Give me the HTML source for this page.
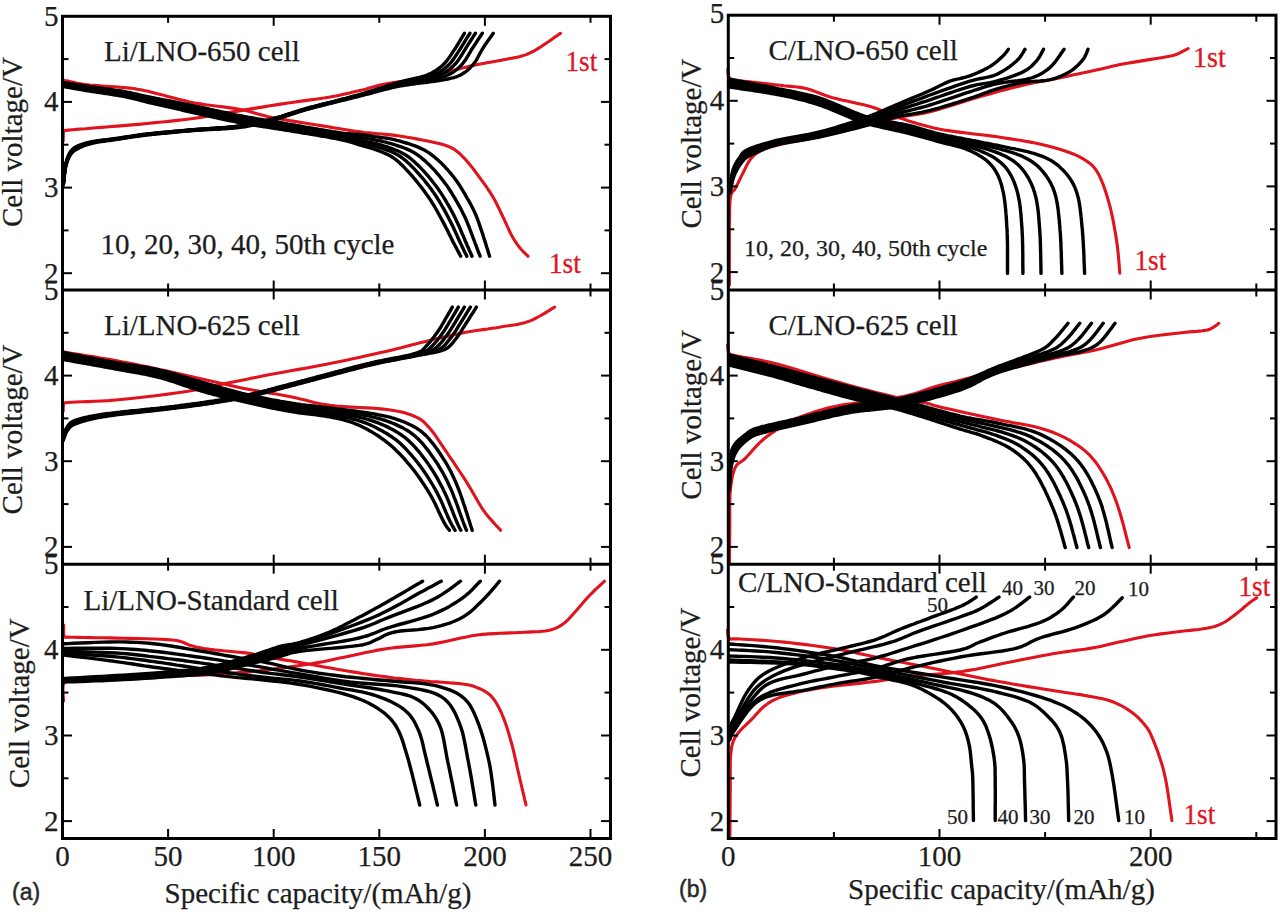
<!DOCTYPE html>
<html><head><meta charset="utf-8"><style>
html,body{margin:0;padding:0;background:#fff;width:1280px;height:914px;overflow:hidden}
svg{display:block}
</style></head><body>
<svg width="1280" height="914" viewBox="0 0 1280 914">
<rect width="1280" height="914" fill="#fff"/>
<path d="M63.4,80.0 L65.0,80.4 L67.0,80.8 L69.4,81.4 L72.1,82.1 L75.1,82.7 L78.4,83.4 L81.9,84.0 L85.6,84.5 L89.8,85.0 L94.6,85.4 L99.8,85.8 L105.2,86.2 L110.6,86.6 L115.7,86.9 L120.2,87.3 L124.0,87.6 L127.0,87.9 L129.4,88.1 L131.3,88.3 L132.9,88.5 L134.4,88.7 L135.8,88.9 L137.3,89.2 L139.0,89.5 L140.7,89.8 L142.3,90.1 L143.7,90.4 L145.2,90.7 L146.8,91.1 L148.9,91.6 L151.4,92.2 L154.5,93.0 L158.3,94.0 L162.8,95.1 L167.7,96.4 L173.0,97.8 L178.5,99.2 L184.0,100.6 L189.6,101.9 L195.0,103.0 L200.4,103.9 L206.0,104.8 L211.7,105.5 L217.5,106.2 L223.2,106.9 L228.7,107.6 L234.0,108.4 L239.0,109.2 L243.5,110.1 L247.6,111.1 L251.5,112.1 L255.2,113.2 L258.9,114.2 L262.9,115.3 L267.2,116.4 L272.0,117.4 L277.4,118.4 L283.4,119.5 L289.6,120.6 L296.1,121.6 L302.7,122.7 L309.1,123.7 L315.2,124.7 L321.0,125.6 L326.4,126.5 L331.5,127.4 L336.5,128.2 L341.4,129.0 L346.1,129.8 L350.8,130.6 L355.4,131.3 L360.0,131.9 L364.6,132.5 L369.0,132.9 L373.4,133.3 L377.8,133.7 L382.1,134.0 L386.3,134.4 L390.7,134.9 L395.0,135.4 L399.5,136.0 L404.1,136.7 L408.7,137.5 L413.4,138.3 L417.9,139.1 L422.2,139.9 L426.3,140.7 L430.0,141.5 L433.3,142.2 L436.4,142.9 L439.2,143.6 L441.8,144.2 L444.3,144.9 L446.6,145.7 L448.8,146.6 L451.0,147.6 L453.1,148.7 L455.0,149.9 L456.7,151.2 L458.4,152.5 L460.0,153.9 L461.6,155.5 L463.2,157.2 L465.0,159.0 L466.8,161.0 L468.7,163.2 L470.6,165.6 L472.6,168.0 L474.5,170.5 L476.4,173.1 L478.2,175.6 L480.0,178.0 L481.7,180.4 L483.5,182.7 L485.2,185.1 L486.8,187.4 L488.4,189.8 L490.0,192.2 L491.5,194.6 L493.0,197.0 L494.4,199.5 L495.7,202.0 L497.0,204.5 L498.2,207.0 L499.5,209.5 L500.6,212.0 L501.8,214.5 L503.0,217.0 L504.2,219.5 L505.3,222.0 L506.5,224.5 L507.6,227.0 L508.7,229.4 L509.8,231.8 L510.9,234.0 L512.0,236.0 L513.0,237.9 L514.1,239.6 L515.1,241.2 L516.1,242.7 L517.0,244.1 L518.0,245.4 L519.0,246.7 L520.0,248.0 L521.1,249.3 L522.2,250.5 L523.4,251.7 L524.5,252.8 L525.6,253.9 L526.6,254.8 L527.4,255.6 L528.0,256.2" fill="none" stroke="#e0141e" stroke-width="3.1" stroke-linejoin="round" stroke-linecap="round"/>
<path d="M63.2,141.0 L63.2,140.3 L63.2,139.2 L63.2,138.0 L63.3,136.6 L63.3,135.2 L63.4,133.9 L63.5,132.8 L63.6,132.0 L63.6,131.5 L63.3,131.1 L62.9,130.9 L62.6,130.8 L62.6,130.8 L63.1,130.7 L64.1,130.6 L66.0,130.4 L68.7,130.1 L72.2,129.8 L76.3,129.4 L80.8,129.0 L85.6,128.7 L90.7,128.2 L95.9,127.8 L101.0,127.4 L106.2,127.0 L111.7,126.5 L117.4,126.1 L123.2,125.6 L129.1,125.1 L135.1,124.6 L141.1,124.1 L147.0,123.5 L152.9,122.9 L159.0,122.3 L165.0,121.7 L171.1,121.1 L177.2,120.4 L183.2,119.7 L189.2,119.0 L195.0,118.2 L200.7,117.4 L206.2,116.5 L211.6,115.6 L216.9,114.7 L222.3,113.8 L227.7,112.8 L233.3,111.9 L239.0,110.9 L244.9,109.9 L251.1,108.9 L257.3,107.9 L263.6,106.9 L269.9,105.8 L276.1,104.9 L282.2,103.9 L288.0,103.0 L293.7,102.2 L299.3,101.4 L304.8,100.6 L310.2,99.9 L315.4,99.2 L320.5,98.5 L325.4,97.8 L330.0,97.0 L334.4,96.2 L338.5,95.4 L342.3,94.6 L346.1,93.8 L349.6,93.0 L353.1,92.1 L356.6,91.3 L360.0,90.5 L363.3,89.7 L366.3,88.9 L369.2,88.0 L372.1,87.2 L375.0,86.4 L378.0,85.6 L381.3,84.8 L385.0,84.0 L389.1,83.3 L393.7,82.6 L398.5,81.9 L403.5,81.2 L408.5,80.6 L413.3,79.9 L417.9,79.2 L422.0,78.5 L425.7,77.7 L429.0,76.9 L432.2,76.1 L435.1,75.3 L438.0,74.5 L440.9,73.7 L443.9,72.8 L447.0,72.0 L450.3,71.2 L453.5,70.3 L456.8,69.5 L460.1,68.6 L463.5,67.8 L466.9,66.9 L470.4,66.1 L474.0,65.3 L477.8,64.5 L481.8,63.7 L486.0,62.9 L490.2,62.2 L494.4,61.4 L498.3,60.7 L501.9,60.1 L505.0,59.5 L507.7,59.0 L509.9,58.6 L511.9,58.2 L513.7,57.9 L515.3,57.6 L516.8,57.3 L518.4,56.9 L520.0,56.5 L521.6,56.0 L523.2,55.6 L524.7,55.1 L526.1,54.6 L527.6,54.0 L529.0,53.4 L530.5,52.7 L532.0,52.0 L533.6,51.2 L535.1,50.3 L536.7,49.4 L538.3,48.4 L539.9,47.4 L541.6,46.3 L543.2,45.2 L545.0,44.0 L546.9,42.7 L549.1,41.3 L551.3,39.7 L553.6,38.1 L555.7,36.6 L557.7,35.3 L559.3,34.1 L560.5,33.3" fill="none" stroke="#e0141e" stroke-width="3.1" stroke-linejoin="round" stroke-linecap="round"/>
<path d="M63.0,351.9 L67.1,352.6 L72.7,353.5 L79.3,354.5 L86.6,355.7 L94.2,356.9 L101.8,358.2 L109.1,359.4 L115.6,360.6 L121.5,361.7 L127.2,362.8 L132.7,363.8 L138.1,364.9 L143.4,366.0 L148.7,367.1 L154.0,368.3 L159.4,369.4 L164.9,370.6 L170.3,371.8 L175.7,373.0 L181.2,374.2 L186.6,375.5 L192.1,376.7 L197.5,378.0 L203.0,379.2 L208.5,380.4 L214.0,381.7 L219.5,383.0 L225.0,384.2 L230.5,385.5 L236.0,386.7 L241.5,387.9 L247.0,389.0 L252.5,390.1 L258.0,391.1 L263.6,392.0 L269.1,392.9 L274.6,393.8 L280.0,394.8 L285.4,395.7 L290.6,396.7 L295.6,397.8 L300.3,398.9 L304.9,400.1 L309.5,401.2 L314.1,402.4 L319.0,403.4 L324.3,404.4 L330.0,405.3 L336.5,406.0 L343.7,406.6 L351.3,407.1 L359.1,407.5 L366.9,407.9 L374.3,408.3 L381.0,408.9 L386.9,409.5 L391.9,410.2 L396.3,411.0 L400.3,411.8 L403.8,412.6 L406.9,413.5 L409.9,414.5 L412.6,415.5 L415.3,416.6 L417.8,417.8 L419.8,418.9 L421.7,420.2 L423.3,421.5 L424.8,422.9 L426.3,424.5 L427.8,426.1 L429.5,428.0 L431.2,430.0 L432.8,432.0 L434.4,434.2 L436.1,436.5 L437.7,439.0 L439.5,441.7 L441.5,444.7 L443.7,447.9 L446.2,451.5 L448.9,455.6 L451.9,459.9 L454.9,464.4 L458.0,469.0 L461.0,473.5 L463.9,477.9 L466.5,482.0 L468.9,485.9 L471.2,489.7 L473.3,493.4 L475.4,497.1 L477.4,500.6 L479.4,504.0 L481.4,507.3 L483.5,510.4 L485.7,513.4 L488.2,516.4 L490.7,519.4 L493.1,522.1 L495.4,524.7 L497.5,526.9 L499.3,528.8 L500.6,530.3" fill="none" stroke="#e0141e" stroke-width="3.1" stroke-linejoin="round" stroke-linecap="round"/>
<path d="M63.2,411.0 L63.2,410.5 L63.2,409.7 L63.2,408.8 L63.2,407.8 L63.3,406.8 L63.4,405.9 L63.5,405.0 L63.8,404.4 L63.9,403.9 L63.6,403.6 L63.2,403.4 L63.0,403.2 L63.1,403.0 L63.8,402.9 L65.4,402.7 L68.0,402.5 L71.7,402.3 L76.4,402.0 L81.9,401.8 L88.0,401.6 L94.5,401.3 L101.4,401.0 L108.5,400.6 L115.6,400.0 L123.1,399.3 L131.3,398.5 L139.9,397.5 L148.7,396.5 L157.5,395.5 L166.0,394.4 L174.0,393.3 L181.3,392.3 L187.8,391.3 L193.8,390.2 L199.3,389.1 L204.5,388.0 L209.6,386.9 L214.6,385.8 L219.7,384.7 L225.0,383.6 L230.4,382.5 L235.5,381.5 L240.7,380.4 L245.8,379.4 L251.1,378.3 L256.6,377.2 L262.5,376.0 L268.8,374.8 L275.6,373.5 L283.0,372.2 L290.7,370.8 L298.6,369.4 L306.6,367.9 L314.6,366.5 L322.4,365.0 L330.0,363.5 L337.5,362.0 L345.1,360.4 L352.7,358.8 L360.1,357.2 L367.4,355.6 L374.4,354.0 L380.9,352.6 L386.9,351.2 L392.2,350.0 L396.8,348.8 L401.0,347.8 L404.8,346.8 L408.6,345.8 L412.4,344.8 L416.5,343.7 L421.0,342.6 L426.0,341.4 L431.2,340.1 L436.6,338.8 L442.1,337.5 L447.7,336.2 L453.1,334.9 L458.5,333.7 L463.6,332.7 L468.6,331.8 L473.4,331.0 L478.3,330.3 L483.0,329.6 L487.6,329.0 L492.1,328.3 L496.4,327.7 L500.6,327.0 L504.6,326.3 L508.4,325.8 L512.0,325.2 L515.5,324.7 L518.9,324.1 L522.3,323.3 L525.6,322.4 L529.0,321.3 L532.5,319.8 L536.2,318.0 L539.9,316.0 L543.6,313.8 L547.0,311.8 L550.1,309.9 L552.6,308.3 L554.6,307.1" fill="none" stroke="#e0141e" stroke-width="3.1" stroke-linejoin="round" stroke-linecap="round"/>
<path d="M63.8,625.0 L63.7,625.9 L63.7,627.2 L63.7,628.8 L63.6,630.4 L63.6,632.1 L63.7,633.7 L63.9,635.0 L64.2,636.0 L64.4,636.6 L64.3,637.0 L64.2,637.2 L64.2,637.2 L64.6,637.2 L65.6,637.2 L67.3,637.1 L70.0,637.2 L73.8,637.3 L78.5,637.4 L83.9,637.5 L90.0,637.6 L96.4,637.7 L103.0,637.8 L109.7,637.9 L116.2,638.1 L123.1,638.3 L130.5,638.4 L138.3,638.6 L146.1,638.8 L153.7,639.0 L160.9,639.2 L167.2,639.6 L172.5,640.0 L176.6,640.5 L179.8,641.2 L182.2,641.9 L184.1,642.7 L185.7,643.5 L187.2,644.2 L188.9,645.0 L191.0,645.6 L193.2,646.2 L195.3,646.7 L197.3,647.2 L199.3,647.6 L201.5,648.1 L203.9,648.5 L206.7,648.9 L210.0,649.4 L213.9,649.9 L218.5,650.3 L223.5,650.8 L228.8,651.2 L234.0,651.7 L239.0,652.2 L243.6,652.6 L247.5,653.1 L250.6,653.6 L253.2,654.0 L255.2,654.4 L257.1,654.9 L258.9,655.3 L260.9,655.8 L263.3,656.3 L266.2,656.9 L269.6,657.5 L273.3,658.1 L277.1,658.7 L281.2,659.4 L285.6,660.1 L290.2,660.8 L295.0,661.6 L300.0,662.5 L305.5,663.5 L311.4,664.5 L317.7,665.7 L324.1,666.9 L330.6,668.1 L337.0,669.2 L343.1,670.3 L348.8,671.2 L354.0,672.1 L359.0,672.9 L363.8,673.7 L368.4,674.4 L373.0,675.1 L377.4,675.7 L381.8,676.3 L386.2,676.9 L390.6,677.5 L394.7,678.0 L398.8,678.4 L402.8,678.9 L406.9,679.3 L411.0,679.7 L415.4,680.2 L420.0,680.6 L425.1,681.0 L430.6,681.5 L436.5,681.9 L442.4,682.3 L448.2,682.7 L453.6,683.1 L458.4,683.5 L462.5,684.0 L465.8,684.5 L468.4,684.9 L470.4,685.3 L472.2,685.8 L473.6,686.3 L475.0,686.8 L476.4,687.4 L478.0,688.0 L479.7,688.7 L481.3,689.4 L482.9,690.2 L484.5,691.1 L485.9,692.0 L487.4,692.9 L488.7,693.9 L490.0,695.0 L491.2,696.1 L492.3,697.4 L493.3,698.6 L494.3,699.9 L495.2,701.3 L496.2,702.8 L497.1,704.4 L498.0,706.0 L498.9,707.7 L499.8,709.5 L500.7,711.3 L501.6,713.2 L502.4,715.3 L503.3,717.4 L504.1,719.6 L505.0,722.0 L505.9,724.5 L506.8,727.1 L507.6,729.8 L508.5,732.6 L509.4,735.6 L510.2,738.6 L511.1,741.7 L512.0,745.0 L512.9,748.4 L513.8,752.0 L514.6,755.7 L515.5,759.6 L516.4,763.4 L517.2,767.3 L518.1,771.2 L519.0,775.0 L519.9,779.0 L520.9,783.2 L521.9,787.6 L522.9,791.9 L523.9,795.9 L524.7,799.6 L525.5,802.7 L526.0,805.0" fill="none" stroke="#e0141e" stroke-width="3.1" stroke-linejoin="round" stroke-linecap="round"/>
<path d="M63.5,701.0 L63.5,699.5 L63.3,697.4 L63.1,694.9 L62.9,692.2 L62.9,689.4 L63.0,686.9 L63.3,684.7 L64.0,683.0 L64.7,681.9 L65.1,681.2 L65.6,680.7 L66.4,680.5 L67.7,680.4 L69.7,680.3 L72.7,680.2 L76.9,680.0 L82.8,679.7 L90.4,679.5 L99.2,679.4 L108.6,679.2 L118.2,679.1 L127.4,678.9 L135.6,678.7 L142.5,678.5 L147.9,678.2 L152.3,677.9 L156.0,677.6 L159.3,677.2 L162.3,676.9 L165.3,676.6 L168.6,676.3 L172.5,676.0 L176.8,675.8 L181.2,675.6 L185.7,675.5 L190.3,675.4 L195.1,675.3 L199.9,675.1 L204.9,675.0 L210.0,674.7 L215.2,674.4 L220.5,674.1 L225.8,673.7 L231.3,673.4 L237.0,672.9 L242.8,672.4 L248.8,671.9 L255.0,671.2 L261.6,670.5 L268.7,669.7 L276.0,668.7 L283.5,667.8 L290.9,666.7 L298.0,665.7 L304.8,664.7 L311.0,663.8 L316.6,662.8 L321.7,661.9 L326.5,660.9 L331.0,660.0 L335.4,659.1 L339.8,658.1 L344.2,657.2 L348.8,656.2 L353.4,655.3 L357.9,654.3 L362.4,653.3 L366.9,652.3 L371.5,651.4 L376.2,650.4 L381.1,649.6 L386.2,648.8 L391.7,648.0 L397.3,647.4 L403.2,646.9 L409.2,646.4 L415.2,645.9 L421.3,645.3 L427.2,644.7 L433.0,643.9 L438.7,642.9 L444.3,641.8 L449.9,640.6 L455.4,639.3 L460.9,638.0 L466.4,636.9 L471.9,635.8 L477.3,635.0 L482.8,634.4 L488.4,633.9 L494.1,633.6 L499.7,633.3 L505.1,633.1 L510.4,632.9 L515.4,632.7 L520.0,632.5 L524.3,632.3 L528.3,632.1 L532.1,631.9 L535.7,631.8 L539.1,631.6 L542.3,631.3 L545.2,631.0 L548.0,630.5 L550.5,629.9 L552.7,629.3 L554.7,628.6 L556.5,627.9 L558.2,627.0 L559.8,626.1 L561.4,625.1 L563.0,624.0 L564.6,622.8 L566.2,621.5 L567.6,620.1 L569.1,618.6 L570.5,617.0 L571.9,615.4 L573.4,613.7 L575.0,612.0 L576.6,610.2 L578.3,608.3 L580.0,606.2 L581.8,604.2 L583.6,602.1 L585.4,600.0 L587.2,598.0 L589.0,596.0 L591.0,594.0 L593.1,591.9 L595.3,589.7 L597.6,587.6 L599.7,585.6 L601.6,583.8 L603.2,582.3 L604.4,581.2" fill="none" stroke="#e0141e" stroke-width="3.1" stroke-linejoin="round" stroke-linecap="round"/>
<path d="M727.8,69.4 L727.9,70.0 L727.9,70.9 L728.0,71.9 L728.0,73.0 L728.1,74.2 L728.3,75.2 L728.6,76.2 L729.0,77.0 L729.3,77.6 L729.2,78.0 L729.2,78.4 L729.3,78.6 L729.7,78.9 L730.6,79.2 L732.4,79.5 L735.0,80.0 L738.9,80.6 L743.9,81.2 L749.8,81.9 L756.2,82.6 L762.8,83.4 L769.2,84.1 L775.0,84.7 L780.0,85.3 L784.2,85.8 L787.9,86.1 L791.2,86.4 L794.3,86.7 L797.2,87.0 L800.1,87.4 L803.0,87.9 L806.2,88.6 L809.4,89.5 L812.5,90.5 L815.5,91.6 L818.5,92.8 L821.7,94.0 L825.0,95.3 L828.6,96.5 L832.5,97.7 L836.9,98.8 L841.7,100.0 L846.9,101.1 L852.2,102.3 L857.5,103.4 L862.7,104.6 L867.5,105.8 L871.9,107.0 L875.7,108.2 L879.0,109.5 L882.0,110.8 L884.8,112.0 L887.7,113.3 L890.8,114.7 L894.2,116.0 L898.1,117.4 L902.5,118.8 L907.1,120.4 L912.0,121.9 L917.1,123.5 L922.5,125.0 L928.1,126.5 L933.9,127.9 L940.0,129.2 L946.5,130.4 L953.5,131.4 L960.9,132.4 L968.5,133.3 L976.0,134.2 L983.4,135.0 L990.5,135.9 L997.0,136.8 L1003.1,137.7 L1009.0,138.6 L1014.7,139.5 L1020.1,140.3 L1025.3,141.2 L1030.3,142.1 L1035.1,143.0 L1039.6,143.9 L1043.9,144.9 L1048.0,145.9 L1051.8,146.9 L1055.4,147.9 L1058.8,148.9 L1062.0,150.0 L1065.1,151.0 L1068.0,152.0 L1070.7,153.0 L1073.2,154.0 L1075.5,154.9 L1077.6,155.9 L1079.6,156.9 L1081.4,157.9 L1083.2,158.9 L1085.0,160.0 L1086.7,161.1 L1088.2,162.2 L1089.7,163.3 L1091.1,164.4 L1092.4,165.6 L1093.6,167.0 L1094.8,168.4 L1096.0,170.0 L1097.1,171.7 L1098.2,173.6 L1099.3,175.5 L1100.2,177.6 L1101.2,179.7 L1102.1,182.0 L1103.1,184.4 L1104.0,187.0 L1105.0,189.7 L1105.9,192.5 L1106.9,195.5 L1107.8,198.6 L1108.7,201.8 L1109.6,205.1 L1110.5,208.5 L1111.3,212.0 L1112.1,215.6 L1112.9,219.4 L1113.7,223.4 L1114.4,227.4 L1115.1,231.5 L1115.8,235.5 L1116.4,239.5 L1117.0,243.4 L1117.5,247.4 L1118.0,251.7 L1118.4,256.0 L1118.8,260.3 L1119.1,264.3 L1119.4,267.9 L1119.6,270.9 L1119.8,273.2" fill="none" stroke="#e0141e" stroke-width="3.1" stroke-linejoin="round" stroke-linecap="round"/>
<path d="M729.4,284.9 L729.4,279.6 L729.4,272.3 L729.4,263.5 L729.4,253.9 L729.4,244.2 L729.4,234.9 L729.4,226.6 L729.5,220.0 L729.6,214.9 L729.6,210.7 L729.7,207.3 L729.8,204.4 L730.0,202.0 L730.1,199.9 L730.4,197.9 L730.7,196.0 L731.1,194.3 L731.5,193.1 L732.0,192.3 L732.6,191.6 L733.2,191.0 L733.9,190.4 L734.6,189.5 L735.3,188.3 L736.1,186.7 L737.0,185.0 L738.0,183.1 L739.0,181.0 L740.0,179.0 L741.0,176.9 L742.0,174.9 L743.0,173.0 L743.9,171.2 L744.8,169.3 L745.7,167.4 L746.6,165.6 L747.5,163.8 L748.5,162.1 L749.5,160.5 L750.6,159.0 L751.7,157.7 L752.9,156.4 L754.1,155.3 L755.3,154.2 L756.6,153.3 L758.1,152.3 L759.7,151.4 L761.4,150.5 L763.2,149.6 L765.0,148.9 L766.9,148.2 L768.9,147.5 L771.2,146.8 L773.7,146.1 L776.6,145.3 L780.0,144.5 L783.9,143.6 L788.4,142.7 L793.3,141.7 L798.4,140.7 L803.7,139.7 L809.1,138.7 L814.3,137.6 L819.4,136.5 L824.3,135.4 L829.2,134.2 L834.1,133.0 L839.0,131.8 L844.0,130.6 L848.9,129.4 L853.8,128.2 L858.7,127.0 L863.7,125.8 L868.7,124.5 L873.8,123.3 L878.9,122.0 L883.9,120.8 L888.8,119.6 L893.5,118.5 L898.1,117.5 L902.3,116.7 L906.1,116.0 L909.7,115.5 L913.2,115.0 L916.8,114.5 L920.7,113.8 L925.0,112.9 L930.0,111.7 L935.7,110.2 L942.1,108.3 L948.9,106.2 L956.1,104.1 L963.2,101.8 L970.3,99.6 L976.9,97.6 L983.1,95.8 L988.7,94.2 L994.0,92.7 L999.0,91.3 L1003.9,90.0 L1008.6,88.8 L1013.3,87.5 L1018.1,86.4 L1023.0,85.2 L1028.0,84.1 L1033.0,83.0 L1038.0,82.0 L1043.1,81.0 L1048.1,80.1 L1053.0,79.1 L1058.0,78.2 L1062.8,77.2 L1067.7,76.2 L1072.6,75.1 L1077.6,74.1 L1082.5,73.0 L1087.2,72.0 L1091.8,71.0 L1096.1,70.1 L1100.0,69.2 L1103.4,68.4 L1106.2,67.8 L1108.7,67.2 L1111.0,66.6 L1113.4,66.0 L1116.0,65.4 L1119.0,64.8 L1122.7,64.1 L1127.3,63.3 L1132.7,62.4 L1138.6,61.4 L1144.7,60.4 L1150.7,59.4 L1156.4,58.5 L1161.3,57.7 L1165.3,57.0 L1168.2,56.5 L1170.3,56.1 L1171.9,55.8 L1173.0,55.5 L1173.8,55.3 L1174.6,55.0 L1175.5,54.7 L1176.7,54.2 L1178.2,53.6 L1179.8,52.8 L1181.5,52.0 L1183.1,51.2 L1184.7,50.3 L1186.1,49.6 L1187.2,49.0 L1188.1,48.5" fill="none" stroke="#e0141e" stroke-width="3.1" stroke-linejoin="round" stroke-linecap="round"/>
<path d="M727.5,345.0 L727.6,345.7 L727.7,346.6 L727.8,347.7 L727.9,348.8 L728.0,350.1 L728.3,351.2 L728.6,352.2 L729.0,353.0 L729.3,353.5 L729.4,353.9 L729.4,354.1 L729.5,354.2 L730.0,354.4 L730.9,354.6 L732.5,354.9 L735.0,355.5 L738.4,356.2 L742.5,357.0 L747.2,357.8 L752.5,358.7 L758.1,359.8 L764.1,360.9 L770.1,362.3 L776.2,363.8 L782.6,365.5 L789.3,367.4 L796.2,369.5 L803.4,371.8 L810.7,374.0 L818.1,376.3 L825.4,378.5 L832.5,380.6 L839.7,382.6 L847.0,384.7 L854.4,386.7 L861.8,388.7 L869.0,390.6 L876.0,392.4 L882.6,394.1 L888.8,395.6 L894.5,396.9 L900.0,398.1 L905.2,399.1 L910.2,400.0 L914.8,400.9 L919.0,401.7 L922.8,402.4 L926.2,403.1 L928.8,403.7 L930.3,404.1 L931.2,404.4 L931.9,404.7 L932.7,405.1 L934.1,405.5 L936.4,406.1 L940.0,407.0 L945.1,408.2 L951.5,409.6 L958.8,411.2 L966.6,413.0 L974.7,414.7 L982.7,416.5 L990.2,418.1 L996.9,419.5 L1003.0,420.7 L1008.9,421.8 L1014.6,422.9 L1020.0,423.8 L1025.3,424.8 L1030.3,425.8 L1035.0,426.8 L1039.6,428.0 L1043.9,429.2 L1047.8,430.5 L1051.5,431.8 L1055.0,433.2 L1058.4,434.6 L1061.6,436.1 L1064.8,437.7 L1068.0,439.4 L1071.2,441.2 L1074.2,443.1 L1077.2,445.0 L1080.1,447.0 L1082.9,449.1 L1085.6,451.4 L1088.3,453.8 L1090.8,456.4 L1093.2,459.2 L1095.6,462.1 L1097.8,465.2 L1100.0,468.5 L1102.1,471.8 L1104.1,475.2 L1106.0,478.6 L1107.8,482.0 L1109.5,485.4 L1111.1,488.7 L1112.5,492.1 L1113.9,495.5 L1115.3,499.1 L1116.6,502.7 L1117.9,506.5 L1119.2,510.5 L1120.6,515.0 L1122.0,520.0 L1123.5,525.4 L1124.9,530.8 L1126.2,536.0 L1127.4,540.7 L1128.4,544.6 L1129.2,547.5" fill="none" stroke="#e0141e" stroke-width="3.1" stroke-linejoin="round" stroke-linecap="round"/>
<path d="M729.5,563.2 L729.5,559.8 L729.5,555.1 L729.6,549.5 L729.6,543.4 L729.7,537.1 L729.7,530.8 L729.8,525.0 L729.8,520.0 L729.8,515.7 L729.8,511.6 L729.8,507.8 L729.8,504.2 L729.8,500.8 L729.9,497.5 L730.0,494.2 L730.3,491.0 L730.6,487.7 L731.0,484.5 L731.5,481.4 L732.0,478.3 L732.6,475.4 L733.3,472.7 L734.1,470.2 L735.0,468.0 L736.0,466.2 L737.1,464.7 L738.3,463.6 L739.6,462.6 L741.0,461.7 L742.5,460.7 L744.0,459.5 L745.6,458.0 L747.3,456.2 L749.1,454.2 L751.0,452.1 L753.0,449.8 L755.0,447.6 L757.0,445.4 L759.0,443.4 L761.0,441.5 L762.9,439.8 L764.7,438.3 L766.6,436.8 L768.4,435.4 L770.3,434.1 L772.2,432.7 L774.2,431.4 L776.2,430.0 L778.3,428.6 L780.3,427.2 L782.2,425.9 L784.2,424.5 L786.4,423.2 L788.9,421.8 L791.7,420.4 L795.0,419.0 L798.8,417.5 L803.1,415.9 L807.7,414.3 L812.6,412.6 L817.6,411.0 L822.7,409.5 L827.7,408.1 L832.5,406.9 L837.2,405.9 L841.9,405.0 L846.6,404.3 L851.2,403.7 L855.9,403.1 L860.6,402.5 L865.3,401.9 L870.0,401.2 L874.7,400.6 L879.5,399.9 L884.3,399.3 L889.1,398.7 L893.8,398.1 L898.5,397.3 L903.1,396.5 L907.5,395.6 L911.5,394.6 L915.1,393.5 L918.4,392.4 L921.6,391.2 L925.2,389.9 L929.3,388.5 L934.1,386.9 L940.0,385.3 L947.2,383.4 L955.7,381.4 L965.1,379.1 L974.9,376.8 L984.8,374.5 L994.4,372.2 L1003.3,370.1 L1011.1,368.3 L1017.8,366.7 L1023.8,365.3 L1029.2,364.0 L1034.2,362.8 L1039.0,361.6 L1043.8,360.5 L1048.7,359.4 L1053.8,358.3 L1059.1,357.2 L1064.5,356.1 L1069.8,355.1 L1075.1,354.1 L1080.4,353.1 L1085.7,352.1 L1091.1,351.0 L1096.4,349.8 L1101.7,348.5 L1107.1,347.0 L1112.4,345.5 L1117.7,343.9 L1123.1,342.4 L1128.4,340.9 L1133.8,339.6 L1139.1,338.4 L1144.6,337.4 L1150.2,336.5 L1155.9,335.7 L1161.5,335.0 L1167.0,334.4 L1172.3,333.8 L1177.3,333.2 L1181.8,332.7 L1185.9,332.2 L1189.7,331.9 L1193.3,331.6 L1196.6,331.4 L1199.6,331.1 L1202.4,330.8 L1205.0,330.4 L1207.4,329.9 L1209.6,329.2 L1211.5,328.4 L1213.2,327.4 L1214.7,326.4 L1216.0,325.5 L1217.1,324.6 L1218.0,323.8 L1218.8,323.3" fill="none" stroke="#e0141e" stroke-width="3.1" stroke-linejoin="round" stroke-linecap="round"/>
<path d="M727.5,630.0 L727.6,630.7 L727.6,631.7 L727.7,632.9 L727.8,634.2 L728.0,635.5 L728.3,636.7 L728.7,637.7 L729.4,638.4 L730.1,638.8 L730.7,639.0 L731.3,639.1 L732.1,639.0 L733.2,638.9 L734.8,638.9 L737.0,638.9 L740.0,639.0 L743.8,639.2 L748.4,639.5 L753.6,639.8 L759.3,640.1 L765.3,640.5 L771.5,641.0 L777.8,641.5 L784.0,642.1 L790.3,642.8 L797.0,643.6 L804.0,644.4 L811.0,645.3 L818.0,646.3 L824.9,647.3 L831.6,648.3 L837.8,649.3 L843.5,650.3 L848.8,651.3 L853.8,652.3 L858.6,653.4 L863.5,654.5 L868.6,655.6 L874.0,656.8 L880.0,658.0 L886.5,659.3 L893.5,660.7 L900.8,662.1 L908.3,663.6 L915.9,665.0 L923.6,666.5 L931.2,668.0 L938.6,669.5 L945.9,671.0 L953.2,672.5 L960.6,674.0 L967.9,675.5 L975.2,677.0 L982.6,678.4 L989.9,679.9 L997.2,681.2 L1004.7,682.6 L1012.5,684.0 L1020.5,685.3 L1028.3,686.6 L1036.0,687.8 L1043.2,689.0 L1049.9,690.0 L1055.8,691.0 L1060.9,691.8 L1065.3,692.5 L1069.1,693.0 L1072.5,693.5 L1075.6,694.0 L1078.6,694.4 L1081.7,694.9 L1085.0,695.5 L1088.4,696.1 L1091.8,696.7 L1095.1,697.3 L1098.4,697.9 L1101.5,698.6 L1104.6,699.3 L1107.6,700.1 L1110.5,701.0 L1113.3,702.0 L1115.9,703.1 L1118.5,704.3 L1121.0,705.5 L1123.4,706.8 L1125.7,708.2 L1127.9,709.6 L1130.0,711.0 L1132.1,712.5 L1134.0,714.0 L1135.9,715.6 L1137.7,717.2 L1139.4,718.9 L1141.0,720.6 L1142.5,722.3 L1144.0,724.0 L1145.3,725.6 L1146.5,727.1 L1147.5,728.5 L1148.4,729.9 L1149.4,731.6 L1150.4,733.5 L1151.4,735.8 L1152.6,738.6 L1154.0,741.9 L1155.4,745.7 L1157.0,749.7 L1158.6,754.1 L1160.1,758.8 L1161.7,763.6 L1163.1,768.6 L1164.4,773.7 L1165.6,779.3 L1166.8,785.7 L1167.9,792.5 L1168.9,799.3 L1169.8,805.9 L1170.7,811.9 L1171.4,816.9 L1171.9,820.6" fill="none" stroke="#e0141e" stroke-width="3.1" stroke-linejoin="round" stroke-linecap="round"/>
<path d="M729.9,835.9 L729.9,832.3 L730.0,827.4 L730.0,821.6 L730.1,815.2 L730.1,808.5 L730.2,801.9 L730.2,795.6 L730.3,790.0 L730.3,784.9 L730.3,779.8 L730.3,774.8 L730.2,770.0 L730.3,765.5 L730.3,761.2 L730.5,757.2 L730.8,753.6 L731.2,750.5 L731.5,747.9 L731.9,745.6 L732.5,743.6 L733.1,741.7 L733.9,739.9 L734.8,738.0 L736.0,736.0 L737.5,733.9 L739.2,731.7 L741.1,729.6 L743.2,727.5 L745.4,725.4 L747.5,723.4 L749.6,721.4 L751.6,719.4 L753.4,717.5 L755.2,715.5 L756.9,713.6 L758.6,711.7 L760.3,709.9 L762.1,708.2 L763.9,706.5 L765.9,705.0 L767.9,703.6 L769.7,702.3 L771.6,701.2 L773.6,700.1 L775.7,699.1 L778.1,698.1 L780.9,697.0 L784.0,696.0 L787.5,694.9 L791.3,693.9 L795.3,692.9 L799.7,691.8 L804.3,690.8 L809.2,689.9 L814.3,688.9 L819.8,688.0 L825.8,687.1 L832.4,686.3 L839.5,685.4 L846.8,684.6 L854.0,683.9 L861.1,683.1 L867.7,682.3 L873.8,681.6 L879.0,680.9 L883.6,680.2 L887.8,679.5 L891.8,678.8 L895.8,678.2 L900.0,677.5 L904.5,676.9 L909.7,676.2 L915.4,675.7 L921.6,675.2 L928.0,674.7 L934.7,674.2 L941.5,673.7 L948.4,673.1 L955.2,672.4 L962.0,671.5 L968.8,670.4 L975.8,669.2 L982.9,667.8 L990.1,666.3 L997.1,664.8 L1003.9,663.3 L1010.5,661.9 L1016.7,660.7 L1022.5,659.6 L1028.0,658.5 L1033.2,657.5 L1038.2,656.5 L1043.1,655.6 L1048.0,654.7 L1052.8,653.8 L1057.6,653.0 L1062.4,652.2 L1066.9,651.6 L1071.4,651.0 L1075.8,650.4 L1080.2,649.8 L1084.8,649.2 L1089.7,648.4 L1094.8,647.5 L1100.4,646.4 L1106.4,645.1 L1112.6,643.6 L1119.0,642.1 L1125.4,640.7 L1131.5,639.3 L1137.3,638.0 L1142.5,636.9 L1147.2,636.0 L1151.5,635.3 L1155.4,634.7 L1159.2,634.1 L1162.8,633.6 L1166.3,633.2 L1170.0,632.7 L1173.8,632.2 L1177.8,631.7 L1181.9,631.2 L1186.1,630.8 L1190.3,630.4 L1194.3,629.9 L1198.2,629.5 L1201.8,629.0 L1205.0,628.5 L1207.8,628.0 L1210.3,627.4 L1212.6,626.9 L1214.6,626.4 L1216.5,625.8 L1218.3,625.1 L1220.1,624.3 L1222.0,623.5 L1223.9,622.5 L1225.8,621.5 L1227.6,620.3 L1229.3,619.1 L1231.0,617.8 L1232.7,616.5 L1234.4,615.2 L1236.0,614.0 L1237.6,612.7 L1239.2,611.4 L1240.8,610.1 L1242.3,608.8 L1243.8,607.5 L1245.3,606.2 L1246.7,605.1 L1248.0,604.0 L1249.3,603.0 L1250.6,602.0 L1251.9,601.1 L1253.0,600.3 L1254.2,599.5 L1255.1,598.8 L1256.0,598.3 L1256.6,597.8" fill="none" stroke="#e0141e" stroke-width="3.1" stroke-linejoin="round" stroke-linecap="round"/>
<path d="M63.0,86.5 L65.3,86.9 L67.5,87.3 L69.8,87.7 L72.1,88.1 L74.4,88.5 L76.6,88.9 L78.9,89.3 L81.2,89.7 L83.5,90.1 L85.7,90.5 L88.0,90.8 L90.3,91.2 L92.6,91.5 L94.8,91.9 L97.1,92.2 L99.4,92.6 L101.7,92.9 L104.0,93.3 L106.2,93.6 L108.5,93.9 L110.8,94.3 L113.1,94.7 L115.4,95.0 L117.6,95.4 L119.9,95.8 L122.2,96.2 L124.5,96.6 L126.7,97.0 L129.0,97.5 L131.2,98.0 L133.5,98.6 L135.7,99.2 L137.9,99.7 L140.2,100.3 L142.4,100.9 L144.6,101.4 L146.9,102.0 L149.1,102.5 L151.4,103.0 L153.6,103.5 L155.9,104.1 L158.1,104.6 L160.4,105.1 L162.6,105.6 L164.9,106.1 L167.1,106.7 L169.4,107.2 L171.6,107.7 L173.9,108.2 L176.1,108.7 L178.4,109.2 L180.6,109.7 L182.9,110.3 L185.1,110.8 L187.4,111.3 L189.6,111.8 L191.9,112.3 L194.1,112.8 L196.4,113.3 L198.6,113.8 L200.9,114.3 L203.1,114.8 L205.4,115.3 L207.6,115.8 L209.9,116.4 L212.1,116.9 L214.4,117.4 L216.6,117.9 L218.9,118.4 L221.1,118.9 L223.4,119.3 L225.6,119.8 L227.9,120.3 L230.1,120.8 L232.4,121.2 L234.7,121.7 L236.9,122.1 L239.2,122.5 L241.5,122.9 L243.7,123.4 L246.0,123.8 L248.3,124.2 L250.6,124.5 L252.8,124.9 L255.1,125.3 L257.4,125.7 L259.7,126.0 L261.9,126.4 L264.2,126.7 L266.5,127.1 L268.8,127.4 L271.1,127.8 L273.3,128.2 L275.6,128.5 L277.9,128.9 L280.2,129.2 L282.5,129.6 L284.7,130.0 L287.0,130.3 L289.3,130.7 L291.6,131.1 L293.8,131.5 L296.1,131.8 L298.4,132.2 L300.7,132.6 L302.9,133.0 L305.2,133.3 L307.5,133.7 L309.8,134.1 L312.0,134.4 L314.3,134.8 L316.6,135.2 L318.9,135.6 L321.2,136.0 L323.4,136.3 L325.7,136.7 L328.0,137.1 L330.2,137.5 L332.5,138.0 L334.8,138.4 L337.0,138.8 L339.3,139.3 L341.6,139.8 L343.8,140.3 L346.1,140.8 L348.3,141.4 L350.5,142.0 L352.7,142.7 L354.9,143.4 L357.1,144.1 L359.3,144.8 L361.5,145.4 L363.7,146.0 L366.0,146.6 L368.2,147.3 L370.4,147.9 L372.6,148.6 L374.8,149.3 L377.0,150.1 L379.1,150.9 L381.3,151.8 L383.4,152.7 L385.5,153.6 L387.6,154.5 L389.7,155.6 L391.7,156.8 L393.6,158.0 L395.5,159.4 L397.3,160.8 L399.0,162.3 L400.7,163.9 L402.4,165.5 L404.0,167.1 L405.6,168.8 L407.1,170.5 L408.7,172.2 L410.2,173.9 L411.8,175.6 L413.3,177.4 L414.8,179.1 L416.2,180.9 L417.7,182.7 L419.1,184.5 L420.6,186.3 L422.0,188.1 L423.4,190.0 L424.7,191.8 L426.1,193.7 L427.4,195.6 L428.8,197.5 L430.0,199.4 L431.3,201.3 L432.5,203.3 L433.7,205.2 L434.9,207.2 L436.0,209.2 L437.2,211.2 L438.3,213.3 L439.4,215.3 L440.5,217.3 L441.6,219.3 L442.7,221.4 L443.8,223.4 L444.9,225.4 L445.9,227.5 L447.0,229.5 L448.0,231.6 L449.0,233.7 L450.0,235.7 L451.1,237.8 L452.1,239.9 L453.1,241.9 L454.2,244.0 L455.3,246.0 L456.4,248.1 L457.4,250.1 L458.5,252.1 L459.6,254.2 L460.7,256.2" fill="none" stroke="#000" stroke-width="3.4" stroke-linejoin="round" stroke-linecap="round"/>
<path d="M63.0,85.7 L65.3,86.1 L67.6,86.5 L69.9,86.9 L72.2,87.3 L74.6,87.7 L76.9,88.0 L79.2,88.4 L81.5,88.8 L83.8,89.2 L86.1,89.6 L88.4,89.9 L90.8,90.3 L93.1,90.6 L95.4,91.0 L97.7,91.3 L100.0,91.7 L102.4,92.0 L104.7,92.4 L107.0,92.7 L109.3,93.1 L111.6,93.4 L114.0,93.8 L116.3,94.1 L118.6,94.5 L120.9,94.9 L123.2,95.3 L125.5,95.7 L127.8,96.2 L130.1,96.7 L132.4,97.2 L134.7,97.8 L137.0,98.4 L139.2,98.9 L141.5,99.5 L143.8,100.1 L146.1,100.6 L148.3,101.1 L150.6,101.6 L152.9,102.1 L155.2,102.7 L157.5,103.2 L159.8,103.7 L162.1,104.2 L164.4,104.7 L166.7,105.2 L169.0,105.7 L171.2,106.2 L173.5,106.7 L175.8,107.2 L178.1,107.8 L180.4,108.3 L182.7,108.8 L185.0,109.3 L187.3,109.8 L189.6,110.3 L191.8,110.8 L194.1,111.3 L196.4,111.8 L198.7,112.3 L201.0,112.9 L203.3,113.4 L205.6,113.9 L207.9,114.4 L210.2,114.9 L212.4,115.4 L214.7,115.9 L217.0,116.5 L219.3,117.0 L221.6,117.5 L223.9,118.0 L226.2,118.4 L228.5,118.9 L230.8,119.4 L233.1,119.9 L235.4,120.3 L237.7,120.8 L240.0,121.2 L242.3,121.6 L244.6,122.0 L246.9,122.5 L249.2,122.9 L251.5,123.3 L253.9,123.7 L256.2,124.0 L258.5,124.4 L260.8,124.8 L263.1,125.2 L265.4,125.5 L267.7,125.9 L270.1,126.3 L272.4,126.6 L274.7,127.0 L277.0,127.4 L279.3,127.8 L281.6,128.1 L284.0,128.5 L286.3,128.9 L288.6,129.3 L290.9,129.6 L293.2,130.0 L295.5,130.4 L297.8,130.8 L300.2,131.2 L302.5,131.6 L304.8,132.0 L307.1,132.3 L309.4,132.7 L311.7,133.1 L314.0,133.5 L316.4,133.9 L318.7,134.2 L321.0,134.6 L323.3,135.0 L325.6,135.4 L327.9,135.7 L330.3,136.1 L332.6,136.4 L334.9,136.8 L337.2,137.1 L339.5,137.5 L341.8,137.9 L344.1,138.3 L346.4,138.8 L348.7,139.3 L351.0,139.8 L353.3,140.3 L355.6,140.9 L357.8,141.5 L360.1,142.1 L362.3,142.7 L364.6,143.3 L366.9,143.9 L369.1,144.5 L371.4,145.0 L373.7,145.7 L375.9,146.3 L378.2,147.0 L380.4,147.7 L382.6,148.5 L384.8,149.3 L387.0,150.1 L389.2,150.9 L391.4,151.8 L393.5,152.8 L395.6,153.8 L397.7,154.9 L399.7,156.2 L401.6,157.5 L403.5,158.9 L405.3,160.3 L407.1,161.9 L408.8,163.5 L410.5,165.1 L412.1,166.7 L413.8,168.4 L415.4,170.1 L417.0,171.9 L418.5,173.6 L420.1,175.4 L421.6,177.1 L423.1,178.9 L424.6,180.7 L426.1,182.6 L427.5,184.4 L429.0,186.3 L430.4,188.1 L431.8,190.0 L433.1,191.9 L434.5,193.9 L435.8,195.8 L437.1,197.8 L438.3,199.8 L439.6,201.8 L440.8,203.8 L441.9,205.8 L443.1,207.8 L444.3,209.9 L445.4,211.9 L446.5,214.0 L447.6,216.1 L448.7,218.2 L449.7,220.2 L450.8,222.3 L451.8,224.4 L452.9,226.5 L453.9,228.7 L454.8,230.8 L455.8,232.9 L456.8,235.0 L457.7,237.2 L458.7,239.3 L459.7,241.4 L460.7,243.6 L461.7,245.7 L462.7,247.8 L463.7,249.9 L464.7,252.0 L465.8,254.1 L466.8,256.2" fill="none" stroke="#000" stroke-width="3.4" stroke-linejoin="round" stroke-linecap="round"/>
<path d="M63.0,84.9 L65.3,85.3 L67.7,85.7 L70.0,86.1 L72.4,86.5 L74.7,86.9 L77.1,87.3 L79.4,87.7 L81.8,88.1 L84.1,88.4 L86.5,88.8 L88.8,89.2 L91.2,89.5 L93.5,89.9 L95.9,90.2 L98.2,90.6 L100.6,90.9 L102.9,91.2 L105.3,91.6 L107.7,91.9 L110.0,92.3 L112.4,92.6 L114.7,93.0 L117.1,93.4 L119.4,93.8 L121.8,94.1 L124.1,94.6 L126.4,95.0 L128.8,95.5 L131.1,96.0 L133.4,96.5 L135.7,97.1 L138.0,97.7 L140.3,98.2 L142.6,98.8 L145.0,99.3 L147.3,99.9 L149.6,100.4 L151.9,100.9 L154.3,101.4 L156.6,101.9 L158.9,102.4 L161.2,102.9 L163.6,103.4 L165.9,103.9 L168.2,104.4 L170.5,104.9 L172.9,105.4 L175.2,105.9 L177.5,106.4 L179.8,106.9 L182.2,107.4 L184.5,107.9 L186.8,108.4 L189.1,108.9 L191.4,109.5 L193.8,110.0 L196.1,110.5 L198.4,111.0 L200.7,111.5 L203.1,112.0 L205.4,112.6 L207.7,113.1 L210.0,113.6 L212.3,114.1 L214.7,114.6 L217.0,115.2 L219.3,115.7 L221.6,116.2 L224.0,116.7 L226.3,117.2 L228.6,117.7 L230.9,118.2 L233.3,118.6 L235.6,119.1 L237.9,119.5 L240.3,120.0 L242.6,120.4 L245.0,120.9 L247.3,121.3 L249.6,121.7 L252.0,122.1 L254.3,122.5 L256.7,122.9 L259.0,123.3 L261.4,123.7 L263.7,124.1 L266.1,124.4 L268.4,124.8 L270.8,125.2 L273.1,125.6 L275.5,126.0 L277.8,126.3 L280.2,126.7 L282.5,127.1 L284.9,127.5 L287.2,127.9 L289.5,128.3 L291.9,128.7 L294.2,129.1 L296.6,129.5 L298.9,129.9 L301.3,130.2 L303.6,130.6 L306.0,131.0 L308.3,131.4 L310.7,131.8 L313.0,132.2 L315.4,132.6 L317.7,133.0 L320.0,133.4 L322.4,133.7 L324.7,134.1 L327.1,134.5 L329.4,134.8 L331.8,135.2 L334.2,135.5 L336.5,135.8 L338.9,136.1 L341.2,136.4 L343.6,136.8 L345.9,137.1 L348.3,137.5 L350.6,137.9 L352.9,138.4 L355.3,138.9 L357.6,139.4 L359.9,139.9 L362.2,140.5 L364.5,141.0 L366.8,141.6 L369.1,142.1 L371.4,142.6 L373.8,143.1 L376.1,143.7 L378.4,144.3 L380.7,144.9 L383.0,145.6 L385.2,146.3 L387.5,147.0 L389.7,147.8 L392.0,148.6 L394.2,149.5 L396.4,150.3 L398.6,151.3 L400.7,152.3 L402.8,153.4 L404.9,154.6 L406.9,155.8 L408.8,157.2 L410.7,158.7 L412.5,160.2 L414.3,161.7 L416.1,163.4 L417.8,165.0 L419.5,166.7 L421.1,168.4 L422.8,170.1 L424.4,171.9 L425.9,173.6 L427.5,175.4 L429.1,177.2 L430.6,179.1 L432.1,180.9 L433.5,182.8 L435.0,184.7 L436.4,186.6 L437.8,188.5 L439.2,190.5 L440.5,192.4 L441.8,194.4 L443.1,196.4 L444.3,198.4 L445.6,200.5 L446.8,202.5 L448.0,204.6 L449.2,206.6 L450.3,208.7 L451.5,210.8 L452.6,212.9 L453.7,215.0 L454.7,217.1 L455.8,219.3 L456.8,221.4 L457.8,223.6 L458.8,225.7 L459.8,227.9 L460.7,230.1 L461.6,232.3 L462.5,234.5 L463.5,236.6 L464.4,238.8 L465.3,241.0 L466.3,243.2 L467.2,245.4 L468.2,247.5 L469.1,249.7 L470.1,251.9 L471.0,254.0 L472.0,256.2" fill="none" stroke="#000" stroke-width="3.4" stroke-linejoin="round" stroke-linecap="round"/>
<path d="M63.0,83.8 L65.4,84.2 L67.8,84.6 L70.2,85.0 L72.6,85.4 L75.0,85.8 L77.4,86.1 L79.8,86.5 L82.2,86.9 L84.6,87.3 L87.0,87.6 L89.4,88.0 L91.8,88.3 L94.2,88.7 L96.6,89.0 L99.0,89.4 L101.4,89.7 L103.8,90.1 L106.3,90.4 L108.7,90.7 L111.1,91.1 L113.5,91.5 L115.9,91.8 L118.3,92.2 L120.7,92.6 L123.1,93.0 L125.5,93.4 L127.8,93.9 L130.2,94.4 L132.6,94.9 L135.0,95.5 L137.3,96.0 L139.7,96.6 L142.1,97.2 L144.4,97.7 L146.8,98.2 L149.2,98.7 L151.6,99.2 L153.9,99.7 L156.3,100.2 L158.7,100.7 L161.1,101.2 L163.5,101.7 L165.8,102.2 L168.2,102.7 L170.6,103.2 L173.0,103.7 L175.4,104.1 L177.7,104.6 L180.1,105.1 L182.5,105.6 L184.9,106.1 L187.3,106.6 L189.6,107.1 L192.0,107.6 L194.4,108.1 L196.8,108.7 L199.1,109.2 L201.5,109.7 L203.9,110.2 L206.3,110.8 L208.6,111.3 L211.0,111.8 L213.4,112.4 L215.7,112.9 L218.1,113.4 L220.5,113.9 L222.9,114.5 L225.2,115.0 L227.6,115.5 L230.0,116.0 L232.4,116.5 L234.8,117.0 L237.1,117.4 L239.5,117.9 L241.9,118.3 L244.3,118.8 L246.7,119.2 L249.1,119.7 L251.5,120.1 L253.9,120.5 L256.3,120.9 L258.7,121.3 L261.1,121.7 L263.5,122.1 L265.9,122.5 L268.3,122.9 L270.7,123.3 L273.1,123.7 L275.5,124.1 L277.9,124.5 L280.3,124.9 L282.6,125.3 L285.0,125.7 L287.4,126.1 L289.8,126.5 L292.2,126.9 L294.6,127.3 L297.0,127.7 L299.4,128.1 L301.8,128.6 L304.2,129.0 L306.6,129.4 L309.0,129.8 L311.4,130.2 L313.8,130.6 L316.2,131.0 L318.6,131.4 L321.0,131.8 L323.4,132.2 L325.8,132.6 L328.2,133.0 L330.6,133.3 L333.0,133.7 L335.4,134.0 L337.8,134.4 L340.2,134.6 L342.6,134.9 L345.1,135.1 L347.5,135.4 L349.9,135.6 L352.3,135.9 L354.7,136.3 L357.1,136.6 L359.5,137.0 L361.9,137.5 L364.3,137.9 L366.7,138.4 L369.0,138.8 L371.4,139.3 L373.8,139.7 L376.2,140.2 L378.6,140.6 L381.0,141.0 L383.3,141.6 L385.7,142.1 L388.0,142.8 L390.4,143.4 L392.7,144.1 L395.0,144.9 L397.3,145.6 L399.6,146.4 L401.9,147.2 L404.2,148.0 L406.5,148.9 L408.7,149.9 L410.9,150.9 L413.0,152.1 L415.1,153.3 L417.1,154.6 L419.1,156.0 L421.0,157.5 L422.9,159.1 L424.7,160.6 L426.5,162.3 L428.3,163.9 L430.0,165.6 L431.7,167.4 L433.4,169.1 L435.1,170.9 L436.7,172.8 L438.3,174.6 L439.8,176.5 L441.3,178.4 L442.8,180.3 L444.3,182.2 L445.8,184.2 L447.2,186.1 L448.5,188.1 L449.9,190.2 L451.2,192.2 L452.5,194.3 L453.7,196.4 L455.0,198.5 L456.2,200.6 L457.4,202.7 L458.6,204.8 L459.8,206.9 L460.9,209.0 L462.0,211.2 L463.1,213.4 L464.2,215.6 L465.2,217.8 L466.2,220.0 L467.1,222.2 L468.0,224.5 L468.9,226.7 L469.8,229.0 L470.7,231.3 L471.5,233.5 L472.4,235.8 L473.2,238.1 L474.1,240.3 L474.9,242.6 L475.8,244.9 L476.6,247.1 L477.5,249.4 L478.3,251.7 L479.2,253.9 L480.1,256.2" fill="none" stroke="#000" stroke-width="3.4" stroke-linejoin="round" stroke-linecap="round"/>
<path d="M63.0,82.5 L65.5,82.9 L67.9,83.3 L70.4,83.6 L72.9,84.0 L75.3,84.4 L77.8,84.8 L80.2,85.1 L82.7,85.5 L85.2,85.9 L87.6,86.2 L90.1,86.6 L92.6,86.9 L95.0,87.3 L97.5,87.6 L100.0,88.0 L102.4,88.3 L104.9,88.6 L107.4,89.0 L109.8,89.3 L112.3,89.7 L114.8,90.1 L117.2,90.4 L119.7,90.8 L122.2,91.2 L124.6,91.6 L127.1,92.1 L129.5,92.5 L132.0,93.1 L134.4,93.6 L136.8,94.2 L139.2,94.8 L141.7,95.4 L144.1,95.9 L146.5,96.4 L149.0,96.9 L151.4,97.4 L153.9,97.9 L156.3,98.4 L158.7,98.8 L161.2,99.3 L163.6,99.8 L166.1,100.3 L168.5,100.7 L171.0,101.2 L173.4,101.7 L175.9,102.2 L178.3,102.7 L180.8,103.1 L183.2,103.6 L185.6,104.1 L188.1,104.6 L190.5,105.1 L193.0,105.6 L195.4,106.1 L197.9,106.6 L200.3,107.1 L202.7,107.6 L205.2,108.2 L207.6,108.7 L210.0,109.3 L212.5,109.8 L214.9,110.4 L217.3,110.9 L219.7,111.4 L222.2,112.0 L224.6,112.5 L227.1,113.0 L229.5,113.6 L231.9,114.1 L234.4,114.6 L236.8,115.1 L239.3,115.5 L241.7,116.0 L244.2,116.5 L246.6,116.9 L249.1,117.4 L251.5,117.8 L254.0,118.2 L256.4,118.7 L258.9,119.1 L261.3,119.5 L263.8,119.9 L266.2,120.3 L268.7,120.8 L271.2,121.2 L273.6,121.6 L276.1,122.0 L278.5,122.4 L281.0,122.8 L283.4,123.2 L285.9,123.6 L288.4,124.1 L290.8,124.5 L293.3,124.9 L295.7,125.3 L298.2,125.8 L300.6,126.2 L303.1,126.6 L305.5,127.1 L308.0,127.5 L310.4,127.9 L312.9,128.3 L315.4,128.8 L317.8,129.2 L320.3,129.6 L322.7,130.0 L325.2,130.5 L327.6,130.9 L330.1,131.3 L332.6,131.7 L335.0,132.0 L337.5,132.4 L340.0,132.8 L342.4,133.1 L344.9,133.4 L347.4,133.6 L349.9,133.8 L352.4,133.9 L354.8,134.1 L357.3,134.2 L359.8,134.5 L362.3,134.8 L364.8,135.1 L367.2,135.4 L369.7,135.8 L372.2,136.2 L374.6,136.6 L377.1,136.9 L379.5,137.3 L382.0,137.6 L384.5,137.9 L387.0,138.2 L389.4,138.6 L391.9,139.1 L394.3,139.6 L396.7,140.3 L399.1,140.9 L401.5,141.6 L403.9,142.3 L406.3,143.0 L408.7,143.7 L411.0,144.5 L413.4,145.3 L415.7,146.2 L418.1,147.1 L420.3,148.1 L422.6,149.2 L424.8,150.3 L426.9,151.6 L429.0,152.9 L431.1,154.4 L433.0,155.9 L435.0,157.5 L436.9,159.1 L438.7,160.7 L440.6,162.4 L442.3,164.2 L444.1,165.9 L445.8,167.8 L447.5,169.6 L449.1,171.5 L450.7,173.4 L452.3,175.3 L453.8,177.3 L455.3,179.3 L456.8,181.3 L458.2,183.3 L459.6,185.4 L460.9,187.5 L462.2,189.6 L463.5,191.8 L464.8,193.9 L466.0,196.1 L467.2,198.3 L468.5,200.4 L469.7,202.6 L470.9,204.8 L472.1,207.0 L473.2,209.2 L474.3,211.4 L475.3,213.7 L476.3,216.0 L477.2,218.3 L478.1,220.7 L478.9,223.0 L479.7,225.4 L480.5,227.7 L481.3,230.1 L482.1,232.4 L482.9,234.8 L483.6,237.2 L484.4,239.6 L485.1,241.9 L485.9,244.3 L486.6,246.7 L487.4,249.1 L488.1,251.4 L488.8,253.8 L489.6,256.2" fill="none" stroke="#000" stroke-width="3.4" stroke-linejoin="round" stroke-linecap="round"/>
<path d="M63.4,182.5 L63.6,180.2 L63.9,177.9 L64.1,175.7 L64.3,173.4 L64.6,171.1 L64.9,168.8 L65.2,166.6 L65.6,164.3 L66.2,162.1 L66.8,159.9 L67.5,157.7 L68.4,155.6 L69.4,153.5 L70.6,151.6 L72.0,149.8 L73.7,148.2 L75.6,147.0 L77.7,145.9 L79.8,145.0 L82.0,144.3 L84.2,143.6 L86.4,143.0 L88.6,142.5 L90.8,142.0 L93.1,141.5 L95.3,141.1 L97.6,140.8 L99.9,140.5 L102.2,140.2 L104.4,139.9 L106.7,139.7 L109.0,139.4 L111.3,139.1 L113.5,138.8 L115.8,138.5 L118.1,138.2 L120.4,137.9 L122.6,137.5 L124.9,137.1 L127.2,136.8 L129.4,136.4 L131.7,136.1 L134.0,135.7 L136.2,135.4 L138.5,135.1 L140.8,134.8 L143.0,134.5 L145.3,134.2 L147.6,133.9 L149.9,133.7 L152.2,133.4 L154.4,133.2 L156.7,133.0 L159.0,132.7 L161.3,132.5 L163.6,132.3 L165.8,132.1 L168.1,131.9 L170.4,131.7 L172.7,131.5 L175.0,131.3 L177.3,131.1 L179.6,130.8 L181.8,130.6 L184.1,130.4 L186.4,130.2 L188.7,130.0 L191.0,129.8 L193.3,129.7 L195.5,129.5 L197.8,129.3 L200.1,129.1 L202.4,128.9 L204.7,128.8 L207.0,128.6 L209.3,128.5 L211.6,128.3 L213.8,128.2 L216.1,128.0 L218.4,127.9 L220.7,127.7 L223.0,127.6 L225.3,127.4 L227.6,127.2 L229.9,127.0 L232.1,126.8 L234.4,126.6 L236.7,126.3 L239.0,126.0 L241.2,125.7 L243.5,125.3 L245.8,125.0 L248.0,124.6 L250.3,124.1 L252.5,123.7 L254.8,123.2 L257.0,122.7 L259.3,122.2 L261.5,121.7 L263.7,121.1 L265.9,120.6 L268.2,120.0 L270.4,119.4 L272.6,118.8 L274.8,118.2 L277.0,117.6 L279.2,116.9 L281.4,116.3 L283.6,115.6 L285.8,114.9 L287.9,114.2 L290.1,113.5 L292.3,112.7 L294.5,112.0 L296.7,111.3 L298.9,110.6 L301.0,110.0 L303.2,109.3 L305.5,108.7 L307.7,108.1 L309.9,107.5 L312.1,106.9 L314.3,106.3 L316.5,105.7 L318.8,105.2 L321.0,104.6 L323.2,104.0 L325.4,103.5 L327.7,102.9 L329.9,102.4 L332.1,101.8 L334.3,101.3 L336.5,100.7 L338.8,100.1 L341.0,99.5 L343.2,98.9 L345.4,98.4 L347.6,97.8 L349.9,97.2 L352.1,96.6 L354.3,96.0 L356.5,95.4 L358.7,94.8 L360.9,94.1 L363.1,93.5 L365.3,92.8 L367.5,92.1 L369.7,91.5 L371.9,90.8 L374.1,90.1 L376.2,89.4 L378.4,88.7 L380.6,88.0 L382.8,87.3 L385.0,86.6 L387.2,85.9 L389.4,85.2 L391.5,84.6 L393.7,83.9 L395.9,83.2 L398.1,82.6 L400.3,81.9 L402.5,81.3 L404.8,80.7 L407.0,80.2 L409.2,79.6 L411.5,79.1 L413.7,78.6 L415.9,78.1 L418.2,77.6 L420.4,77.1 L422.6,76.5 L424.8,75.8 L427.0,75.0 L429.1,74.1 L431.2,73.2 L433.2,72.1 L435.2,71.0 L437.1,69.7 L438.9,68.3 L440.7,66.9 L442.4,65.4 L444.1,63.8 L445.6,62.1 L447.1,60.3 L448.5,58.5 L449.8,56.6 L451.1,54.7 L452.3,52.8 L453.6,50.9 L454.9,49.0 L456.1,47.1 L457.3,45.1 L458.5,43.1 L459.7,41.2 L460.9,39.2 L462.1,37.2 L463.2,35.3 L464.4,33.3" fill="none" stroke="#000" stroke-width="3.4" stroke-linejoin="round" stroke-linecap="round"/>
<path d="M63.4,183.0 L63.6,180.7 L63.9,178.4 L64.1,176.0 L64.4,173.7 L64.6,171.4 L64.9,169.1 L65.3,166.8 L65.7,164.6 L66.3,162.3 L66.9,160.1 L67.7,157.9 L68.6,155.7 L69.6,153.7 L70.9,151.8 L72.4,150.0 L74.2,148.5 L76.1,147.3 L78.2,146.2 L80.3,145.3 L82.5,144.5 L84.7,143.8 L87.0,143.2 L89.2,142.6 L91.5,142.1 L93.8,141.7 L96.1,141.3 L98.4,140.9 L100.7,140.6 L103.0,140.3 L105.3,140.0 L107.6,139.8 L109.9,139.5 L112.2,139.2 L114.5,138.9 L116.8,138.6 L119.1,138.2 L121.4,137.9 L123.7,137.5 L126.0,137.2 L128.3,136.8 L130.5,136.4 L132.8,136.1 L135.1,135.7 L137.4,135.4 L139.7,135.1 L142.0,134.8 L144.3,134.5 L146.6,134.2 L149.0,134.0 L151.3,133.7 L153.6,133.5 L155.9,133.2 L158.2,133.0 L160.5,132.8 L162.8,132.6 L165.1,132.3 L167.4,132.1 L169.7,131.9 L172.1,131.7 L174.4,131.5 L176.7,131.3 L179.0,131.1 L181.3,130.9 L183.6,130.7 L185.9,130.5 L188.2,130.3 L190.6,130.1 L192.9,129.9 L195.2,129.7 L197.5,129.5 L199.8,129.3 L202.1,129.2 L204.4,129.0 L206.8,128.9 L209.1,128.7 L211.4,128.6 L213.7,128.4 L216.0,128.3 L218.3,128.1 L220.7,128.0 L223.0,127.8 L225.3,127.6 L227.6,127.4 L229.9,127.2 L232.2,127.0 L234.5,126.8 L236.8,126.5 L239.1,126.2 L241.4,125.9 L243.7,125.5 L246.0,125.1 L248.3,124.7 L250.6,124.3 L252.9,123.8 L255.1,123.4 L257.4,122.9 L259.7,122.4 L261.9,121.8 L264.2,121.3 L266.4,120.7 L268.7,120.1 L270.9,119.5 L273.2,118.9 L275.4,118.2 L277.6,117.6 L279.8,117.0 L282.1,116.3 L284.3,115.6 L286.5,114.9 L288.7,114.2 L290.9,113.5 L293.1,112.8 L295.3,112.1 L297.6,111.4 L299.8,110.7 L302.0,110.0 L304.2,109.3 L306.4,108.7 L308.7,108.0 L310.9,107.4 L313.2,106.8 L315.4,106.3 L317.7,105.7 L319.9,105.1 L322.2,104.5 L324.4,104.0 L326.7,103.4 L328.9,102.8 L331.2,102.3 L333.4,101.7 L335.7,101.1 L337.9,100.6 L340.2,100.0 L342.4,99.4 L344.7,98.8 L346.9,98.3 L349.2,97.7 L351.4,97.1 L353.6,96.5 L355.9,95.9 L358.1,95.3 L360.4,94.7 L362.6,94.0 L364.8,93.4 L367.1,92.7 L369.3,92.1 L371.5,91.4 L373.7,90.8 L376.0,90.1 L378.2,89.5 L380.4,88.8 L382.6,88.2 L384.9,87.5 L387.1,86.9 L389.3,86.2 L391.6,85.6 L393.8,85.0 L396.0,84.4 L398.3,83.8 L400.5,83.2 L402.7,82.6 L405.0,82.0 L407.2,81.5 L409.5,80.9 L411.8,80.4 L414.0,79.9 L416.3,79.5 L418.6,79.0 L420.8,78.5 L423.1,78.0 L425.4,77.5 L427.6,76.9 L429.8,76.2 L432.0,75.5 L434.2,74.7 L436.3,73.7 L438.4,72.7 L440.4,71.5 L442.3,70.2 L444.2,68.8 L446.0,67.4 L447.7,65.8 L449.4,64.2 L450.9,62.5 L452.4,60.7 L453.7,58.8 L455.0,56.9 L456.3,54.9 L457.6,53.0 L458.8,51.0 L460.1,49.1 L461.3,47.1 L462.6,45.1 L463.8,43.2 L465.0,41.2 L466.2,39.2 L467.4,37.2 L468.7,35.3 L469.9,33.3" fill="none" stroke="#000" stroke-width="3.4" stroke-linejoin="round" stroke-linecap="round"/>
<path d="M63.4,183.4 L63.6,181.1 L63.9,178.8 L64.1,176.4 L64.4,174.1 L64.6,171.8 L65.0,169.4 L65.3,167.1 L65.8,164.8 L66.4,162.5 L67.0,160.3 L67.8,158.1 L68.8,155.9 L69.9,153.9 L71.2,151.9 L72.8,150.2 L74.6,148.7 L76.6,147.5 L78.7,146.5 L80.9,145.5 L83.1,144.7 L85.3,144.0 L87.6,143.4 L89.9,142.8 L92.2,142.3 L94.5,141.8 L96.8,141.4 L99.1,141.1 L101.4,140.7 L103.8,140.4 L106.1,140.1 L108.4,139.9 L110.8,139.6 L113.1,139.3 L115.4,138.9 L117.7,138.6 L120.1,138.3 L122.4,137.9 L124.7,137.5 L127.0,137.2 L129.3,136.8 L131.7,136.5 L134.0,136.1 L136.3,135.8 L138.6,135.4 L141.0,135.1 L143.3,134.8 L145.6,134.6 L148.0,134.3 L150.3,134.0 L152.6,133.8 L155.0,133.5 L157.3,133.3 L159.7,133.1 L162.0,132.8 L164.3,132.6 L166.7,132.4 L169.0,132.2 L171.4,132.0 L173.7,131.7 L176.0,131.5 L178.4,131.3 L180.7,131.1 L183.1,130.9 L185.4,130.7 L187.7,130.5 L190.1,130.3 L192.4,130.1 L194.8,129.9 L197.1,129.8 L199.5,129.6 L201.8,129.4 L204.1,129.3 L206.5,129.1 L208.8,129.0 L211.2,128.8 L213.5,128.7 L215.9,128.5 L218.2,128.4 L220.6,128.2 L222.9,128.1 L225.2,127.9 L227.6,127.7 L229.9,127.5 L232.3,127.3 L234.6,127.0 L236.9,126.7 L239.3,126.4 L241.6,126.1 L243.9,125.8 L246.2,125.4 L248.5,125.0 L250.9,124.5 L253.2,124.1 L255.5,123.6 L257.7,123.1 L260.0,122.5 L262.3,122.0 L264.6,121.4 L266.9,120.8 L269.1,120.2 L271.4,119.6 L273.7,119.0 L275.9,118.3 L278.2,117.7 L280.4,117.0 L282.7,116.3 L284.9,115.6 L287.2,114.9 L289.4,114.2 L291.6,113.5 L293.9,112.8 L296.1,112.0 L298.4,111.4 L300.6,110.7 L302.9,110.0 L305.1,109.3 L307.4,108.7 L309.6,108.0 L311.9,107.4 L314.2,106.8 L316.4,106.2 L318.7,105.6 L321.0,105.0 L323.3,104.5 L325.6,103.9 L327.8,103.3 L330.1,102.7 L332.4,102.2 L334.7,101.6 L337.0,101.0 L339.2,100.5 L341.5,99.9 L343.8,99.3 L346.1,98.7 L348.3,98.1 L350.6,97.6 L352.9,97.0 L355.2,96.4 L357.4,95.8 L359.7,95.2 L362.0,94.6 L364.2,93.9 L366.5,93.3 L368.8,92.7 L371.0,92.0 L373.3,91.4 L375.5,90.8 L377.8,90.1 L380.1,89.5 L382.3,88.9 L384.6,88.2 L386.9,87.6 L389.1,87.0 L391.4,86.4 L393.7,85.9 L395.9,85.3 L398.2,84.8 L400.5,84.2 L402.8,83.7 L405.1,83.1 L407.3,82.6 L409.6,82.1 L411.9,81.6 L414.2,81.2 L416.5,80.7 L418.8,80.2 L421.1,79.8 L423.4,79.4 L425.7,78.9 L428.0,78.4 L430.3,77.9 L432.6,77.3 L434.9,76.7 L437.1,76.0 L439.3,75.2 L441.5,74.2 L443.6,73.2 L445.6,72.0 L447.6,70.7 L449.5,69.3 L451.3,67.8 L453.0,66.2 L454.7,64.6 L456.2,62.8 L457.7,61.0 L459.0,59.1 L460.3,57.1 L461.6,55.1 L462.8,53.1 L464.0,51.1 L465.3,49.1 L466.5,47.1 L467.8,45.2 L469.0,43.2 L470.3,41.2 L471.6,39.2 L472.8,37.3 L474.1,35.3 L475.4,33.3" fill="none" stroke="#000" stroke-width="3.4" stroke-linejoin="round" stroke-linecap="round"/>
<path d="M63.4,184.1 L63.7,181.7 L63.9,179.3 L64.1,176.9 L64.4,174.6 L64.7,172.2 L65.0,169.8 L65.4,167.5 L65.9,165.1 L66.5,162.8 L67.2,160.6 L68.0,158.3 L69.0,156.1 L70.2,154.1 L71.6,152.2 L73.3,150.5 L75.2,149.1 L77.2,147.9 L79.4,146.8 L81.6,145.9 L83.8,145.0 L86.1,144.3 L88.4,143.6 L90.7,143.0 L93.0,142.5 L95.3,142.0 L97.7,141.6 L100.0,141.2 L102.4,140.9 L104.8,140.6 L107.1,140.3 L109.5,140.0 L111.9,139.7 L114.2,139.4 L116.6,139.0 L118.9,138.7 L121.3,138.3 L123.7,137.9 L126.0,137.6 L128.4,137.2 L130.7,136.8 L133.1,136.5 L135.5,136.1 L137.8,135.8 L140.2,135.5 L142.5,135.2 L144.9,134.9 L147.3,134.6 L149.7,134.3 L152.0,134.1 L154.4,133.8 L156.8,133.6 L159.1,133.3 L161.5,133.1 L163.9,132.9 L166.3,132.7 L168.6,132.4 L171.0,132.2 L173.4,132.0 L175.8,131.8 L178.1,131.6 L180.5,131.4 L182.9,131.2 L185.3,131.0 L187.7,130.7 L190.0,130.5 L192.4,130.4 L194.8,130.2 L197.2,130.0 L199.5,129.8 L201.9,129.7 L204.3,129.5 L206.7,129.4 L209.1,129.2 L211.5,129.1 L213.8,128.9 L216.2,128.8 L218.6,128.7 L221.0,128.5 L223.4,128.4 L225.7,128.2 L228.1,128.0 L230.5,127.8 L232.9,127.6 L235.2,127.3 L237.6,127.0 L240.0,126.7 L242.3,126.4 L244.7,126.0 L247.0,125.6 L249.4,125.2 L251.7,124.7 L254.1,124.2 L256.4,123.7 L258.7,123.2 L261.0,122.7 L263.4,122.1 L265.7,121.5 L268.0,120.9 L270.3,120.3 L272.6,119.7 L274.9,119.0 L277.2,118.3 L279.4,117.6 L281.7,116.9 L284.0,116.2 L286.3,115.5 L288.5,114.7 L290.8,114.0 L293.1,113.3 L295.3,112.6 L297.6,111.9 L299.9,111.2 L302.2,110.5 L304.5,109.8 L306.8,109.1 L309.1,108.5 L311.4,107.9 L313.7,107.2 L316.0,106.6 L318.3,106.0 L320.6,105.4 L322.9,104.9 L325.2,104.3 L327.5,103.7 L329.8,103.1 L332.2,102.5 L334.5,101.9 L336.8,101.4 L339.1,100.8 L341.4,100.2 L343.7,99.6 L346.0,99.0 L348.4,98.5 L350.7,97.9 L353.0,97.3 L355.3,96.7 L357.6,96.1 L359.9,95.5 L362.2,94.9 L364.5,94.3 L366.8,93.6 L369.1,93.0 L371.4,92.4 L373.7,91.7 L376.0,91.1 L378.3,90.5 L380.6,89.9 L382.9,89.3 L385.3,88.7 L387.6,88.1 L389.9,87.5 L392.2,87.0 L394.5,86.4 L396.8,85.9 L399.2,85.4 L401.5,84.9 L403.8,84.5 L406.2,84.0 L408.5,83.6 L410.8,83.1 L413.2,82.7 L415.5,82.2 L417.8,81.8 L420.2,81.4 L422.5,81.0 L424.9,80.6 L427.2,80.2 L429.6,79.8 L431.9,79.4 L434.3,78.9 L436.6,78.4 L438.9,77.9 L441.2,77.3 L443.5,76.6 L445.8,75.8 L448.0,74.9 L450.1,73.9 L452.2,72.7 L454.2,71.4 L456.1,70.0 L457.9,68.4 L459.7,66.8 L461.3,65.1 L462.9,63.3 L464.4,61.4 L465.7,59.5 L467.0,57.4 L468.2,55.4 L469.4,53.3 L470.6,51.3 L471.8,49.2 L473.1,47.2 L474.4,45.2 L475.7,43.2 L477.0,41.2 L478.3,39.2 L479.7,37.3 L481.0,35.3 L482.3,33.3" fill="none" stroke="#000" stroke-width="3.4" stroke-linejoin="round" stroke-linecap="round"/>
<path d="M63.4,185.0 L63.7,182.6 L63.9,180.1 L64.2,177.7 L64.4,175.3 L64.7,172.9 L65.1,170.4 L65.5,168.0 L66.0,165.7 L66.7,163.3 L67.4,161.0 L68.3,158.7 L69.4,156.5 L70.7,154.4 L72.2,152.5 L74.0,150.9 L76.1,149.6 L78.2,148.4 L80.4,147.3 L82.6,146.4 L84.9,145.5 L87.2,144.7 L89.6,144.0 L91.9,143.3 L94.3,142.8 L96.7,142.3 L99.1,141.9 L101.5,141.5 L103.9,141.2 L106.4,140.8 L108.8,140.5 L111.2,140.2 L113.6,139.8 L116.0,139.5 L118.5,139.1 L120.9,138.7 L123.3,138.4 L125.7,138.0 L128.1,137.6 L130.5,137.2 L132.9,136.9 L135.3,136.5 L137.8,136.2 L140.2,135.8 L142.6,135.5 L145.0,135.2 L147.5,134.9 L149.9,134.7 L152.3,134.4 L154.7,134.2 L157.2,133.9 L159.6,133.7 L162.0,133.4 L164.5,133.2 L166.9,133.0 L169.3,132.7 L171.8,132.5 L174.2,132.3 L176.6,132.1 L179.1,131.9 L181.5,131.6 L183.9,131.4 L186.4,131.2 L188.8,131.0 L191.2,130.8 L193.7,130.6 L196.1,130.4 L198.5,130.2 L201.0,130.1 L203.4,129.9 L205.8,129.8 L208.3,129.6 L210.7,129.5 L213.2,129.4 L215.6,129.3 L218.0,129.2 L220.5,129.0 L222.9,128.9 L225.4,128.7 L227.8,128.6 L230.2,128.4 L232.7,128.2 L235.1,127.9 L237.5,127.7 L239.9,127.4 L242.4,127.0 L244.8,126.7 L247.2,126.3 L249.6,125.8 L252.0,125.4 L254.4,124.9 L256.8,124.3 L259.1,123.8 L261.5,123.2 L263.9,122.6 L266.2,122.0 L268.6,121.4 L271.0,120.8 L273.3,120.1 L275.7,119.5 L278.0,118.8 L280.4,118.0 L282.7,117.3 L285.0,116.5 L287.3,115.7 L289.6,115.0 L291.9,114.2 L294.3,113.4 L296.6,112.6 L298.9,111.9 L301.2,111.1 L303.6,110.4 L305.9,109.7 L308.3,109.1 L310.6,108.4 L313.0,107.8 L315.3,107.2 L317.7,106.6 L320.1,106.0 L322.4,105.4 L324.8,104.8 L327.2,104.2 L329.5,103.6 L331.9,103.0 L334.3,102.4 L336.7,101.8 L339.0,101.2 L341.4,100.6 L343.8,100.0 L346.1,99.5 L348.5,98.9 L350.9,98.3 L353.2,97.7 L355.6,97.1 L358.0,96.5 L360.3,95.9 L362.7,95.3 L365.1,94.7 L367.4,94.1 L369.8,93.5 L372.2,92.8 L374.5,92.2 L376.9,91.5 L379.2,90.9 L381.6,90.3 L384.0,89.7 L386.3,89.1 L388.7,88.5 L391.1,87.9 L393.5,87.4 L395.8,86.9 L398.2,86.4 L400.6,85.9 L403.0,85.5 L405.4,85.1 L407.9,84.7 L410.3,84.3 L412.7,84.0 L415.1,83.7 L417.5,83.4 L420.0,83.1 L422.4,82.7 L424.8,82.5 L427.2,82.2 L429.7,81.9 L432.1,81.5 L434.5,81.2 L436.9,80.9 L439.3,80.5 L441.7,80.1 L444.1,79.7 L446.5,79.2 L448.9,78.8 L451.3,78.2 L453.7,77.6 L456.0,76.9 L458.3,76.0 L460.5,75.0 L462.6,73.8 L464.7,72.5 L466.6,71.0 L468.5,69.4 L470.2,67.7 L471.9,65.9 L473.5,64.1 L475.0,62.1 L476.3,60.1 L477.5,58.0 L478.7,55.8 L479.8,53.6 L481.0,51.5 L482.2,49.4 L483.5,47.3 L484.8,45.3 L486.2,43.2 L487.6,41.2 L489.0,39.3 L490.5,37.3 L491.9,35.3 L493.3,33.3" fill="none" stroke="#000" stroke-width="3.4" stroke-linejoin="round" stroke-linecap="round"/>
<path d="M63.0,359.5 L65.2,359.9 L67.4,360.3 L69.6,360.7 L71.8,361.1 L74.0,361.5 L76.2,361.9 L78.4,362.3 L80.6,362.7 L82.8,363.1 L85.0,363.4 L87.2,363.8 L89.4,364.2 L91.6,364.6 L93.8,365.0 L96.1,365.4 L98.3,365.8 L100.5,366.2 L102.7,366.6 L104.9,367.0 L107.1,367.4 L109.3,367.8 L111.5,368.2 L113.7,368.6 L115.9,369.0 L118.1,369.4 L120.3,369.9 L122.5,370.2 L124.7,370.6 L126.9,371.0 L129.1,371.4 L131.3,371.8 L133.5,372.2 L135.7,372.6 L137.9,372.9 L140.1,373.3 L142.3,373.8 L144.5,374.2 L146.7,374.6 L148.9,375.1 L151.1,375.5 L153.3,376.0 L155.5,376.5 L157.6,377.1 L159.8,377.6 L162.0,378.2 L164.1,378.8 L166.3,379.4 L168.4,380.1 L170.5,380.8 L172.7,381.5 L174.8,382.2 L176.9,382.9 L179.0,383.6 L181.1,384.3 L183.3,385.1 L185.4,385.8 L187.5,386.5 L189.6,387.2 L191.7,388.0 L193.9,388.7 L196.0,389.4 L198.1,390.0 L200.3,390.7 L202.4,391.3 L204.6,391.9 L206.7,392.5 L208.9,393.1 L211.0,393.7 L213.2,394.3 L215.4,394.9 L217.5,395.4 L219.7,396.0 L221.9,396.5 L224.0,397.1 L226.2,397.6 L228.4,398.1 L230.6,398.7 L232.7,399.2 L234.9,399.7 L237.1,400.2 L239.3,400.7 L241.5,401.2 L243.6,401.7 L245.8,402.2 L248.0,402.7 L250.2,403.2 L252.4,403.7 L254.6,404.2 L256.7,404.7 L258.9,405.2 L261.1,405.6 L263.3,406.1 L265.5,406.6 L267.7,407.0 L269.9,407.5 L272.1,408.0 L274.3,408.4 L276.5,408.8 L278.7,409.3 L280.8,409.7 L283.0,410.1 L285.2,410.5 L287.4,410.9 L289.7,411.3 L291.9,411.7 L294.1,412.1 L296.3,412.4 L298.5,412.7 L300.7,413.0 L302.9,413.3 L305.2,413.6 L307.4,413.9 L309.6,414.1 L311.8,414.4 L314.0,414.6 L316.3,414.9 L318.5,415.2 L320.7,415.5 L322.9,415.8 L325.1,416.1 L327.3,416.5 L329.5,416.9 L331.7,417.3 L333.9,417.8 L336.1,418.2 L338.3,418.7 L340.5,419.2 L342.7,419.7 L344.9,420.3 L347.0,420.9 L349.2,421.5 L351.3,422.2 L353.4,423.0 L355.5,423.8 L357.5,424.6 L359.6,425.5 L361.6,426.5 L363.6,427.5 L365.6,428.5 L367.6,429.6 L369.5,430.7 L371.5,431.8 L373.4,432.9 L375.3,434.1 L377.2,435.3 L379.1,436.5 L380.9,437.8 L382.7,439.1 L384.5,440.4 L386.3,441.8 L388.1,443.2 L389.8,444.6 L391.5,446.0 L393.2,447.5 L394.8,449.0 L396.4,450.6 L398.0,452.2 L399.6,453.8 L401.1,455.4 L402.7,457.0 L404.2,458.7 L405.6,460.4 L407.1,462.1 L408.6,463.8 L410.0,465.5 L411.4,467.2 L412.8,469.0 L414.2,470.7 L415.5,472.5 L416.8,474.3 L418.2,476.1 L419.5,478.0 L420.7,479.8 L422.0,481.7 L423.2,483.5 L424.5,485.4 L425.7,487.3 L426.9,489.2 L428.1,491.1 L429.2,493.0 L430.4,494.9 L431.5,496.8 L432.5,498.8 L433.6,500.8 L434.6,502.8 L435.6,504.8 L436.5,506.8 L437.5,508.8 L438.4,510.9 L439.4,512.9 L440.3,514.9 L441.3,517.0 L442.3,519.0 L443.3,521.0 L444.3,522.9 L445.5,524.9 L446.7,526.8 L448.0,528.5 L449.4,530.3" fill="none" stroke="#000" stroke-width="3.4" stroke-linejoin="round" stroke-linecap="round"/>
<path d="M63.0,357.8 L65.2,358.2 L67.5,358.6 L69.7,359.0 L72.0,359.4 L74.2,359.8 L76.5,360.2 L78.7,360.6 L81.0,361.0 L83.2,361.4 L85.5,361.9 L87.7,362.3 L90.0,362.7 L92.2,363.1 L94.4,363.5 L96.7,363.9 L98.9,364.3 L101.2,364.7 L103.4,365.1 L105.7,365.5 L107.9,366.0 L110.2,366.4 L112.4,366.8 L114.7,367.2 L116.9,367.6 L119.2,368.0 L121.4,368.4 L123.7,368.8 L125.9,369.2 L128.2,369.6 L130.4,369.9 L132.7,370.3 L134.9,370.7 L137.2,371.1 L139.4,371.5 L141.7,371.9 L143.9,372.3 L146.1,372.7 L148.4,373.1 L150.6,373.6 L152.9,374.1 L155.1,374.6 L157.3,375.1 L159.5,375.7 L161.7,376.2 L163.9,376.8 L166.1,377.4 L168.3,378.1 L170.5,378.7 L172.7,379.4 L174.9,380.1 L177.0,380.8 L179.2,381.5 L181.4,382.2 L183.5,383.0 L185.7,383.7 L187.9,384.4 L190.0,385.1 L192.2,385.8 L194.4,386.5 L196.6,387.2 L198.7,387.9 L200.9,388.6 L203.1,389.2 L205.3,389.9 L207.5,390.5 L209.7,391.1 L211.9,391.8 L214.1,392.4 L216.3,392.9 L218.5,393.5 L220.7,394.1 L222.9,394.7 L225.1,395.3 L227.3,395.8 L229.6,396.4 L231.8,396.9 L234.0,397.5 L236.2,398.0 L238.4,398.5 L240.7,399.0 L242.9,399.5 L245.1,400.1 L247.3,400.6 L249.6,401.1 L251.8,401.5 L254.0,402.0 L256.3,402.5 L258.5,403.0 L260.7,403.5 L263.0,404.0 L265.2,404.4 L267.4,404.9 L269.7,405.3 L271.9,405.8 L274.1,406.2 L276.4,406.7 L278.6,407.1 L280.9,407.5 L283.1,407.9 L285.4,408.3 L287.6,408.7 L289.9,409.1 L292.1,409.5 L294.4,409.9 L296.6,410.2 L298.9,410.5 L301.1,410.9 L303.4,411.2 L305.7,411.5 L307.9,411.8 L310.2,412.0 L312.5,412.3 L314.7,412.6 L317.0,412.9 L319.3,413.1 L321.5,413.4 L323.8,413.7 L326.0,414.0 L328.3,414.3 L330.6,414.6 L332.8,415.0 L335.1,415.4 L337.3,415.8 L339.6,416.2 L341.8,416.6 L344.1,417.0 L346.3,417.5 L348.5,417.9 L350.7,418.4 L353.0,419.0 L355.2,419.6 L357.4,420.2 L359.5,420.9 L361.7,421.6 L363.8,422.4 L366.0,423.2 L368.1,424.0 L370.2,424.9 L372.2,425.8 L374.3,426.8 L376.3,427.8 L378.4,428.9 L380.4,429.9 L382.4,431.0 L384.3,432.2 L386.3,433.3 L388.2,434.5 L390.1,435.8 L392.0,437.0 L393.9,438.4 L395.7,439.7 L397.5,441.1 L399.2,442.6 L400.9,444.1 L402.6,445.7 L404.2,447.3 L405.8,448.9 L407.4,450.6 L408.9,452.3 L410.5,454.0 L411.9,455.7 L413.4,457.5 L414.9,459.2 L416.3,461.0 L417.7,462.8 L419.1,464.6 L420.5,466.4 L421.8,468.3 L423.1,470.1 L424.4,472.0 L425.7,473.9 L427.0,475.8 L428.2,477.7 L429.4,479.6 L430.6,481.6 L431.8,483.5 L433.0,485.5 L434.1,487.4 L435.2,489.4 L436.3,491.4 L437.4,493.4 L438.4,495.4 L439.4,497.5 L440.4,499.6 L441.4,501.6 L442.3,503.7 L443.2,505.8 L444.1,507.9 L445.0,510.0 L445.9,512.1 L446.8,514.2 L447.7,516.3 L448.6,518.3 L449.6,520.4 L450.6,522.5 L451.6,524.5 L452.7,526.5 L453.9,528.4 L455.1,530.3" fill="none" stroke="#000" stroke-width="3.4" stroke-linejoin="round" stroke-linecap="round"/>
<path d="M63.0,356.0 L65.3,356.4 L67.6,356.9 L69.9,357.3 L72.2,357.7 L74.4,358.1 L76.7,358.6 L79.0,359.0 L81.3,359.4 L83.6,359.8 L85.9,360.3 L88.2,360.7 L90.5,361.1 L92.8,361.5 L95.0,362.0 L97.3,362.4 L99.6,362.8 L101.9,363.2 L104.2,363.6 L106.5,364.1 L108.8,364.5 L111.1,364.9 L113.4,365.3 L115.6,365.7 L117.9,366.2 L120.2,366.6 L122.5,367.0 L124.8,367.3 L127.1,367.7 L129.4,368.1 L131.7,368.5 L134.0,368.8 L136.3,369.2 L138.6,369.6 L140.9,370.0 L143.2,370.4 L145.5,370.8 L147.8,371.2 L150.1,371.7 L152.3,372.1 L154.6,372.6 L156.9,373.1 L159.2,373.7 L161.4,374.2 L163.7,374.8 L165.9,375.4 L168.2,376.1 L170.4,376.7 L172.6,377.4 L174.8,378.1 L177.1,378.8 L179.3,379.5 L181.5,380.2 L183.7,380.9 L185.9,381.6 L188.1,382.3 L190.4,383.0 L192.6,383.7 L194.8,384.4 L197.0,385.1 L199.2,385.8 L201.5,386.5 L203.7,387.2 L205.9,387.8 L208.2,388.5 L210.4,389.1 L212.7,389.7 L214.9,390.4 L217.1,391.0 L219.4,391.6 L221.6,392.2 L223.9,392.8 L226.1,393.4 L228.4,394.0 L230.6,394.6 L232.9,395.1 L235.2,395.7 L237.4,396.3 L239.7,396.8 L241.9,397.3 L244.2,397.8 L246.5,398.4 L248.8,398.9 L251.0,399.4 L253.3,399.9 L255.6,400.4 L257.9,400.9 L260.1,401.3 L262.4,401.8 L264.7,402.3 L267.0,402.7 L269.3,403.2 L271.5,403.6 L273.8,404.1 L276.1,404.5 L278.4,404.9 L280.7,405.4 L283.0,405.8 L285.3,406.2 L287.6,406.6 L289.9,407.0 L292.2,407.3 L294.5,407.7 L296.8,408.0 L299.1,408.4 L301.4,408.7 L303.7,409.0 L306.0,409.3 L308.3,409.6 L310.6,409.9 L312.9,410.2 L315.2,410.5 L317.5,410.8 L319.8,411.1 L322.1,411.3 L324.5,411.6 L326.8,411.9 L329.1,412.2 L331.4,412.5 L333.7,412.8 L336.0,413.1 L338.3,413.5 L340.6,413.8 L342.9,414.2 L345.2,414.5 L347.5,414.9 L349.8,415.3 L352.1,415.7 L354.4,416.2 L356.6,416.6 L358.9,417.1 L361.2,417.7 L363.4,418.2 L365.7,418.8 L367.9,419.5 L370.1,420.1 L372.3,420.8 L374.5,421.6 L376.7,422.4 L378.9,423.2 L381.0,424.1 L383.1,425.0 L385.2,425.9 L387.3,426.9 L389.4,427.9 L391.5,429.0 L393.5,430.1 L395.5,431.2 L397.5,432.4 L399.5,433.7 L401.4,435.0 L403.3,436.3 L405.2,437.7 L406.9,439.2 L408.7,440.8 L410.4,442.4 L412.0,444.0 L413.6,445.7 L415.2,447.4 L416.7,449.2 L418.2,450.9 L419.7,452.7 L421.2,454.5 L422.6,456.4 L424.0,458.2 L425.4,460.1 L426.8,462.0 L428.1,463.9 L429.4,465.8 L430.7,467.7 L432.0,469.6 L433.3,471.6 L434.5,473.6 L435.7,475.6 L436.9,477.6 L438.0,479.6 L439.1,481.6 L440.2,483.7 L441.3,485.7 L442.4,487.8 L443.4,489.9 L444.4,492.0 L445.4,494.1 L446.4,496.2 L447.3,498.3 L448.2,500.4 L449.1,502.6 L449.9,504.8 L450.8,506.9 L451.6,509.1 L452.5,511.2 L453.3,513.4 L454.2,515.6 L455.0,517.7 L455.9,519.9 L456.8,522.0 L457.7,524.1 L458.7,526.2 L459.7,528.3 L460.8,530.3" fill="none" stroke="#000" stroke-width="3.4" stroke-linejoin="round" stroke-linecap="round"/>
<path d="M63.0,354.2 L65.3,354.7 L67.7,355.1 L70.0,355.6 L72.3,356.0 L74.7,356.5 L77.0,356.9 L79.3,357.3 L81.7,357.8 L84.0,358.2 L86.3,358.7 L88.6,359.1 L91.0,359.5 L93.3,360.0 L95.6,360.4 L98.0,360.9 L100.3,361.3 L102.6,361.7 L105.0,362.2 L107.3,362.6 L109.6,363.0 L112.0,363.5 L114.3,363.9 L116.6,364.3 L119.0,364.7 L121.3,365.1 L123.7,365.5 L126.0,365.9 L128.3,366.3 L130.7,366.6 L133.0,367.0 L135.4,367.4 L137.7,367.7 L140.1,368.1 L142.4,368.5 L144.7,368.9 L147.1,369.3 L149.4,369.8 L151.7,370.2 L154.1,370.7 L156.4,371.2 L158.7,371.7 L161.0,372.3 L163.3,372.8 L165.6,373.4 L167.9,374.1 L170.2,374.7 L172.5,375.4 L174.7,376.0 L177.0,376.7 L179.3,377.4 L181.5,378.1 L183.8,378.8 L186.1,379.5 L188.3,380.2 L190.6,380.9 L192.9,381.7 L195.1,382.4 L197.4,383.0 L199.7,383.7 L201.9,384.4 L204.2,385.1 L206.5,385.7 L208.8,386.4 L211.1,387.0 L213.3,387.7 L215.6,388.3 L217.9,389.0 L220.2,389.6 L222.5,390.3 L224.8,390.9 L227.1,391.5 L229.3,392.1 L231.6,392.7 L233.9,393.3 L236.2,393.9 L238.5,394.5 L240.8,395.0 L243.1,395.6 L245.5,396.1 L247.8,396.7 L250.1,397.2 L252.4,397.7 L254.7,398.2 L257.0,398.7 L259.4,399.2 L261.7,399.7 L264.0,400.1 L266.3,400.6 L268.7,401.1 L271.0,401.5 L273.3,402.0 L275.7,402.4 L278.0,402.8 L280.3,403.3 L282.7,403.7 L285.0,404.1 L287.3,404.5 L289.7,404.9 L292.0,405.2 L294.4,405.6 L296.7,405.9 L299.1,406.3 L301.4,406.6 L303.8,406.9 L306.1,407.2 L308.5,407.5 L310.8,407.8 L313.2,408.1 L315.5,408.4 L317.9,408.7 L320.2,409.0 L322.6,409.2 L325.0,409.5 L327.3,409.8 L329.7,410.1 L332.0,410.4 L334.4,410.7 L336.7,411.0 L339.1,411.3 L341.4,411.6 L343.8,411.9 L346.1,412.2 L348.5,412.6 L350.8,412.9 L353.2,413.3 L355.5,413.6 L357.9,414.0 L360.2,414.4 L362.5,414.8 L364.9,415.3 L367.2,415.7 L369.5,416.2 L371.8,416.8 L374.1,417.3 L376.4,417.9 L378.7,418.5 L381.0,419.1 L383.2,419.8 L385.5,420.5 L387.7,421.3 L389.9,422.1 L392.1,423.0 L394.3,423.9 L396.5,424.9 L398.6,425.9 L400.7,426.9 L402.9,427.9 L404.9,429.1 L407.0,430.3 L409.0,431.5 L410.9,432.9 L412.8,434.3 L414.7,435.8 L416.5,437.4 L418.2,439.0 L419.8,440.7 L421.5,442.4 L423.0,444.2 L424.5,446.0 L426.0,447.9 L427.5,449.7 L428.9,451.6 L430.3,453.5 L431.7,455.5 L433.1,457.4 L434.4,459.4 L435.8,461.3 L437.1,463.3 L438.4,465.3 L439.6,467.3 L440.8,469.3 L442.0,471.4 L443.2,473.5 L444.3,475.5 L445.4,477.6 L446.5,479.7 L447.5,481.9 L448.5,484.0 L449.5,486.2 L450.5,488.3 L451.5,490.5 L452.4,492.7 L453.3,494.9 L454.1,497.1 L455.0,499.3 L455.8,501.5 L456.6,503.7 L457.5,505.9 L458.2,508.2 L459.0,510.4 L459.8,512.6 L460.6,514.9 L461.4,517.1 L462.2,519.3 L463.0,521.5 L463.9,523.8 L464.7,526.0 L465.6,528.1 L466.5,530.3" fill="none" stroke="#000" stroke-width="3.4" stroke-linejoin="round" stroke-linecap="round"/>
<path d="M63.0,352.5 L65.4,353.0 L67.7,353.4 L70.1,353.9 L72.5,354.3 L74.9,354.8 L77.2,355.2 L79.6,355.7 L82.0,356.2 L84.4,356.6 L86.7,357.1 L89.1,357.5 L91.5,358.0 L93.9,358.4 L96.2,358.9 L98.6,359.3 L101.0,359.8 L103.4,360.2 L105.7,360.7 L108.1,361.1 L110.5,361.6 L112.9,362.0 L115.2,362.4 L117.6,362.9 L120.0,363.3 L122.4,363.7 L124.8,364.1 L127.2,364.4 L129.6,364.8 L132.0,365.2 L134.3,365.5 L136.7,365.9 L139.1,366.3 L141.5,366.6 L143.9,367.0 L146.3,367.4 L148.7,367.8 L151.0,368.3 L153.4,368.7 L155.8,369.2 L158.1,369.7 L160.5,370.3 L162.8,370.8 L165.2,371.4 L167.5,372.0 L169.9,372.7 L172.2,373.3 L174.5,374.0 L176.8,374.7 L179.2,375.4 L181.5,376.1 L183.8,376.8 L186.1,377.5 L188.4,378.2 L190.7,378.9 L193.0,379.6 L195.3,380.3 L197.7,381.0 L200.0,381.6 L202.3,382.3 L204.6,383.0 L207.0,383.6 L209.3,384.3 L211.6,384.9 L213.9,385.6 L216.3,386.3 L218.6,386.9 L220.9,387.6 L223.2,388.3 L225.6,388.9 L227.9,389.6 L230.2,390.2 L232.6,390.8 L234.9,391.5 L237.2,392.1 L239.6,392.7 L241.9,393.3 L244.3,393.8 L246.6,394.4 L249.0,394.9 L251.3,395.5 L253.7,396.0 L256.1,396.5 L258.4,397.0 L260.8,397.5 L263.1,398.0 L265.5,398.5 L267.9,399.0 L270.3,399.4 L272.6,399.9 L275.0,400.3 L277.4,400.7 L279.8,401.2 L282.2,401.6 L284.5,402.0 L286.9,402.4 L289.3,402.8 L291.7,403.2 L294.1,403.5 L296.5,403.9 L298.9,404.2 L301.3,404.6 L303.7,404.9 L306.1,405.2 L308.5,405.4 L310.9,405.7 L313.3,406.0 L315.7,406.3 L318.1,406.6 L320.5,406.8 L322.9,407.1 L325.3,407.4 L327.7,407.7 L330.1,408.0 L332.5,408.3 L334.9,408.6 L337.3,408.9 L339.7,409.2 L342.1,409.5 L344.5,409.8 L346.9,410.1 L349.3,410.4 L351.7,410.7 L354.1,411.0 L356.5,411.3 L358.9,411.6 L361.3,411.9 L363.6,412.3 L366.0,412.6 L368.4,413.0 L370.8,413.4 L373.2,413.8 L375.6,414.2 L377.9,414.7 L380.3,415.1 L382.7,415.6 L385.1,416.1 L387.4,416.7 L389.8,417.2 L392.1,417.9 L394.4,418.5 L396.7,419.3 L399.0,420.1 L401.3,420.9 L403.5,421.8 L405.8,422.7 L408.0,423.7 L410.2,424.7 L412.3,425.7 L414.5,426.9 L416.5,428.1 L418.6,429.5 L420.5,430.9 L422.4,432.4 L424.2,434.0 L426.0,435.7 L427.6,437.4 L429.3,439.2 L430.8,441.1 L432.3,442.9 L433.8,444.8 L435.3,446.8 L436.7,448.7 L438.1,450.7 L439.5,452.7 L440.8,454.7 L442.1,456.7 L443.4,458.8 L444.7,460.8 L446.0,462.9 L447.2,465.0 L448.4,467.1 L449.5,469.2 L450.7,471.3 L451.7,473.5 L452.8,475.7 L453.8,477.9 L454.8,480.1 L455.8,482.3 L456.7,484.5 L457.6,486.8 L458.5,489.0 L459.4,491.3 L460.2,493.5 L461.0,495.8 L461.8,498.1 L462.6,500.4 L463.3,502.7 L464.1,505.0 L464.9,507.3 L465.6,509.6 L466.3,511.9 L467.1,514.2 L467.8,516.5 L468.5,518.8 L469.3,521.1 L470.0,523.4 L470.7,525.7 L471.5,528.0 L472.2,530.3" fill="none" stroke="#000" stroke-width="3.4" stroke-linejoin="round" stroke-linecap="round"/>
<path d="M63.0,437.0 L63.7,435.0 L64.4,432.9 L65.2,430.9 L66.0,428.9 L67.1,427.0 L68.3,425.3 L69.7,423.6 L71.3,422.2 L73.2,421.2 L75.2,420.4 L77.3,419.7 L79.3,419.1 L81.4,418.5 L83.5,417.9 L85.6,417.4 L87.7,417.0 L89.8,416.5 L91.9,416.1 L94.0,415.7 L96.2,415.3 L98.3,415.0 L100.4,414.6 L102.6,414.3 L104.7,414.0 L106.8,413.7 L109.0,413.4 L111.1,413.2 L113.3,412.9 L115.4,412.7 L117.5,412.4 L119.7,412.2 L121.8,411.9 L124.0,411.7 L126.1,411.5 L128.3,411.3 L130.4,411.0 L132.6,410.8 L134.7,410.6 L136.9,410.4 L139.0,410.2 L141.1,409.9 L143.3,409.7 L145.4,409.5 L147.6,409.3 L149.7,409.1 L151.9,408.8 L154.0,408.6 L156.2,408.4 L158.3,408.1 L160.5,407.9 L162.6,407.6 L164.7,407.4 L166.9,407.1 L169.0,406.9 L171.2,406.6 L173.3,406.4 L175.5,406.1 L177.6,405.9 L179.7,405.6 L181.9,405.3 L184.0,405.1 L186.2,404.8 L188.3,404.5 L190.4,404.3 L192.6,404.0 L194.7,403.7 L196.9,403.4 L199.0,403.1 L201.1,402.8 L203.3,402.5 L205.4,402.1 L207.5,401.8 L209.7,401.5 L211.8,401.2 L213.9,400.9 L216.1,400.5 L218.2,400.2 L220.3,399.9 L222.5,399.5 L224.6,399.2 L226.7,398.8 L228.8,398.4 L231.0,398.1 L233.1,397.7 L235.2,397.3 L237.3,396.9 L239.5,396.5 L241.6,396.1 L243.7,395.7 L245.8,395.2 L247.9,394.8 L250.0,394.3 L252.1,393.9 L254.2,393.4 L256.3,392.9 L258.4,392.4 L260.5,391.9 L262.6,391.3 L264.7,390.8 L266.8,390.3 L268.9,389.7 L271.0,389.2 L273.1,388.6 L275.1,388.1 L277.2,387.5 L279.3,387.0 L281.4,386.4 L283.5,385.9 L285.6,385.3 L287.7,384.8 L289.7,384.2 L291.8,383.7 L293.9,383.1 L296.0,382.6 L298.1,382.0 L300.2,381.5 L302.3,380.9 L304.3,380.4 L306.4,379.8 L308.5,379.2 L310.6,378.7 L312.7,378.1 L314.8,377.6 L316.9,377.0 L318.9,376.4 L321.0,375.9 L323.1,375.3 L325.2,374.8 L327.3,374.2 L329.4,373.7 L331.4,373.1 L333.5,372.6 L335.6,372.0 L337.7,371.5 L339.8,370.9 L341.9,370.4 L344.0,369.8 L346.0,369.2 L348.1,368.7 L350.2,368.1 L352.3,367.6 L354.4,367.0 L356.5,366.5 L358.6,366.0 L360.7,365.4 L362.8,364.9 L364.8,364.4 L366.9,363.9 L369.0,363.4 L371.1,362.9 L373.2,362.4 L375.3,361.9 L377.4,361.4 L379.6,361.0 L381.7,360.6 L383.8,360.1 L385.9,359.7 L388.0,359.3 L390.1,358.9 L392.3,358.5 L394.4,358.1 L396.5,357.7 L398.6,357.3 L400.7,356.9 L402.9,356.4 L405.0,356.0 L407.1,355.6 L409.2,355.1 L411.3,354.6 L413.4,354.0 L415.4,353.4 L417.5,352.7 L419.5,351.9 L421.4,351.0 L423.1,349.7 L424.5,348.0 L425.9,346.4 L427.4,344.8 L428.9,343.2 L430.3,341.6 L431.6,339.9 L433.0,338.2 L434.3,336.5 L435.5,334.8 L436.8,333.0 L438.0,331.2 L439.2,329.5 L440.4,327.6 L441.5,325.8 L442.6,323.9 L443.7,322.1 L444.8,320.2 L445.8,318.3 L446.9,316.5 L448.0,314.6 L449.1,312.7 L450.2,310.8 L451.2,309.0 L452.3,307.1" fill="none" stroke="#000" stroke-width="3.4" stroke-linejoin="round" stroke-linecap="round"/>
<path d="M63.0,438.0 L63.7,435.9 L64.4,433.9 L65.2,431.8 L66.1,429.8 L67.2,427.9 L68.4,426.1 L69.8,424.4 L71.5,423.0 L73.4,422.0 L75.4,421.2 L77.5,420.5 L79.6,419.8 L81.7,419.2 L83.8,418.6 L85.9,418.1 L88.0,417.6 L90.2,417.2 L92.3,416.7 L94.5,416.3 L96.6,415.9 L98.8,415.6 L100.9,415.2 L103.1,414.9 L105.3,414.5 L107.4,414.2 L109.6,414.0 L111.8,413.7 L113.9,413.4 L116.1,413.2 L118.3,412.9 L120.5,412.7 L122.6,412.4 L124.8,412.2 L127.0,411.9 L129.2,411.7 L131.3,411.5 L133.5,411.3 L135.7,411.0 L137.9,410.8 L140.0,410.6 L142.2,410.4 L144.4,410.1 L146.6,409.9 L148.7,409.7 L150.9,409.4 L153.1,409.2 L155.3,409.0 L157.4,408.7 L159.6,408.5 L161.8,408.2 L163.9,408.0 L166.1,407.7 L168.3,407.5 L170.5,407.2 L172.6,406.9 L174.8,406.7 L177.0,406.4 L179.1,406.2 L181.3,405.9 L183.5,405.6 L185.7,405.4 L187.8,405.1 L190.0,404.8 L192.2,404.5 L194.3,404.2 L196.5,403.9 L198.7,403.6 L200.8,403.3 L203.0,403.0 L205.2,402.7 L207.3,402.4 L209.5,402.0 L211.6,401.7 L213.8,401.4 L216.0,401.0 L218.1,400.7 L220.3,400.3 L222.5,400.0 L224.6,399.6 L226.8,399.3 L228.9,398.9 L231.1,398.5 L233.2,398.2 L235.4,397.8 L237.5,397.4 L239.7,397.0 L241.8,396.5 L244.0,396.1 L246.1,395.7 L248.3,395.2 L250.4,394.7 L252.5,394.2 L254.7,393.8 L256.8,393.3 L258.9,392.7 L261.0,392.2 L263.2,391.7 L265.3,391.2 L267.4,390.6 L269.5,390.1 L271.6,389.5 L273.7,389.0 L275.9,388.4 L278.0,387.8 L280.1,387.3 L282.2,386.7 L284.3,386.2 L286.4,385.6 L288.5,385.0 L290.7,384.5 L292.8,383.9 L294.9,383.4 L297.0,382.8 L299.1,382.3 L301.2,381.7 L303.3,381.1 L305.5,380.6 L307.6,380.0 L309.7,379.4 L311.8,378.9 L313.9,378.3 L316.0,377.7 L318.1,377.2 L320.2,376.6 L322.4,376.0 L324.5,375.5 L326.6,374.9 L328.7,374.3 L330.8,373.8 L332.9,373.2 L335.0,372.7 L337.2,372.1 L339.3,371.5 L341.4,371.0 L343.5,370.4 L345.6,369.9 L347.7,369.3 L349.8,368.7 L352.0,368.2 L354.1,367.6 L356.2,367.1 L358.3,366.6 L360.4,366.0 L362.6,365.5 L364.7,365.0 L366.8,364.5 L368.9,363.9 L371.1,363.4 L373.2,363.0 L375.3,362.5 L377.5,362.0 L379.6,361.5 L381.7,361.1 L383.9,360.6 L386.0,360.2 L388.2,359.8 L390.3,359.4 L392.5,359.0 L394.6,358.5 L396.8,358.1 L398.9,357.7 L401.0,357.3 L403.2,356.9 L405.3,356.5 L407.5,356.0 L409.6,355.6 L411.8,355.2 L413.9,354.7 L416.1,354.3 L418.2,353.7 L420.3,353.2 L422.4,352.5 L424.4,351.8 L426.4,350.9 L428.2,349.7 L429.8,348.2 L431.3,346.7 L432.9,345.2 L434.4,343.6 L435.8,342.0 L437.2,340.3 L438.6,338.5 L439.9,336.8 L441.2,335.0 L442.4,333.3 L443.7,331.5 L444.9,329.6 L446.1,327.8 L447.2,325.9 L448.3,324.0 L449.4,322.2 L450.5,320.3 L451.7,318.4 L452.8,316.5 L453.9,314.6 L455.0,312.8 L456.1,310.9 L457.2,309.0 L458.3,307.1" fill="none" stroke="#000" stroke-width="3.4" stroke-linejoin="round" stroke-linecap="round"/>
<path d="M63.0,439.0 L63.7,436.9 L64.5,434.8 L65.2,432.7 L66.1,430.7 L67.2,428.8 L68.5,427.0 L69.9,425.3 L71.6,423.9 L73.6,422.8 L75.6,422.0 L77.7,421.2 L79.8,420.6 L82.0,419.9 L84.1,419.3 L86.2,418.8 L88.4,418.3 L90.6,417.8 L92.7,417.4 L94.9,416.9 L97.1,416.5 L99.3,416.1 L101.5,415.8 L103.6,415.4 L105.8,415.1 L108.0,414.8 L110.2,414.5 L112.4,414.2 L114.6,413.9 L116.8,413.6 L119.0,413.4 L121.2,413.1 L123.4,412.9 L125.6,412.6 L127.8,412.4 L130.0,412.2 L132.2,411.9 L134.4,411.7 L136.7,411.5 L138.9,411.2 L141.1,411.0 L143.3,410.8 L145.5,410.5 L147.7,410.3 L149.9,410.1 L152.1,409.8 L154.3,409.6 L156.5,409.3 L158.7,409.1 L160.9,408.8 L163.1,408.6 L165.3,408.3 L167.5,408.0 L169.7,407.8 L171.9,407.5 L174.1,407.3 L176.3,407.0 L178.5,406.7 L180.7,406.5 L182.9,406.2 L185.1,405.9 L187.3,405.6 L189.5,405.4 L191.7,405.1 L193.9,404.8 L196.1,404.5 L198.3,404.2 L200.5,403.9 L202.7,403.5 L204.9,403.2 L207.1,402.9 L209.3,402.6 L211.4,402.2 L213.6,401.9 L215.8,401.6 L218.0,401.2 L220.2,400.9 L222.4,400.5 L224.6,400.1 L226.8,399.8 L228.9,399.4 L231.1,399.0 L233.3,398.6 L235.5,398.2 L237.7,397.8 L239.8,397.4 L242.0,397.0 L244.2,396.5 L246.4,396.1 L248.5,395.6 L250.7,395.2 L252.9,394.7 L255.0,394.2 L257.2,393.7 L259.3,393.1 L261.5,392.6 L263.6,392.1 L265.8,391.5 L267.9,391.0 L270.1,390.4 L272.2,389.9 L274.4,389.3 L276.5,388.7 L278.6,388.2 L280.8,387.6 L282.9,387.0 L285.1,386.5 L287.2,385.9 L289.4,385.3 L291.5,384.8 L293.7,384.2 L295.8,383.6 L297.9,383.1 L300.1,382.5 L302.2,381.9 L304.4,381.4 L306.5,380.8 L308.6,380.2 L310.8,379.6 L312.9,379.1 L315.1,378.5 L317.2,377.9 L319.4,377.3 L321.5,376.8 L323.6,376.2 L325.8,375.6 L327.9,375.1 L330.1,374.5 L332.2,373.9 L334.3,373.3 L336.5,372.8 L338.6,372.2 L340.8,371.6 L342.9,371.1 L345.1,370.5 L347.2,369.9 L349.3,369.4 L351.5,368.8 L353.6,368.2 L355.8,367.7 L357.9,367.1 L360.1,366.6 L362.2,366.1 L364.4,365.5 L366.5,365.0 L368.7,364.5 L370.9,364.0 L373.0,363.5 L375.2,363.0 L377.3,362.5 L379.5,362.1 L381.7,361.6 L383.8,361.2 L386.0,360.7 L388.2,360.3 L390.4,359.9 L392.5,359.4 L394.7,359.0 L396.9,358.6 L399.1,358.2 L401.2,357.8 L403.4,357.3 L405.6,356.9 L407.8,356.5 L409.9,356.1 L412.1,355.6 L414.3,355.2 L416.5,354.8 L418.6,354.3 L420.8,353.9 L423.0,353.4 L425.1,352.9 L427.3,352.3 L429.4,351.6 L431.4,350.8 L433.3,349.8 L435.1,348.5 L436.8,347.1 L438.4,345.6 L439.9,344.0 L441.4,342.3 L442.8,340.6 L444.1,338.9 L445.5,337.1 L446.8,335.3 L448.1,333.5 L449.3,331.7 L450.5,329.8 L451.7,327.9 L452.9,326.1 L454.0,324.2 L455.2,322.3 L456.3,320.4 L457.5,318.5 L458.6,316.6 L459.8,314.7 L460.9,312.8 L462.1,310.9 L463.2,309.0 L464.4,307.1" fill="none" stroke="#000" stroke-width="3.4" stroke-linejoin="round" stroke-linecap="round"/>
<path d="M63.0,440.0 L63.8,437.9 L64.5,435.8 L65.3,433.7 L66.2,431.6 L67.3,429.7 L68.6,427.8 L70.0,426.1 L71.8,424.7 L73.8,423.6 L75.8,422.8 L78.0,422.0 L80.1,421.3 L82.2,420.7 L84.4,420.1 L86.6,419.5 L88.8,418.9 L90.9,418.4 L93.1,418.0 L95.3,417.5 L97.5,417.1 L99.8,416.7 L102.0,416.3 L104.2,416.0 L106.4,415.6 L108.6,415.3 L110.9,415.0 L113.1,414.7 L115.3,414.4 L117.5,414.1 L119.8,413.9 L122.0,413.6 L124.2,413.4 L126.5,413.1 L128.7,412.9 L130.9,412.6 L133.2,412.4 L135.4,412.1 L137.6,411.9 L139.9,411.7 L142.1,411.4 L144.3,411.2 L146.6,410.9 L148.8,410.7 L151.0,410.5 L153.3,410.2 L155.5,409.9 L157.7,409.7 L160.0,409.4 L162.2,409.2 L164.4,408.9 L166.6,408.6 L168.9,408.4 L171.1,408.1 L173.3,407.8 L175.6,407.6 L177.8,407.3 L180.0,407.0 L182.3,406.8 L184.5,406.5 L186.7,406.2 L188.9,405.9 L191.2,405.6 L193.4,405.3 L195.6,405.0 L197.8,404.7 L200.1,404.4 L202.3,404.1 L204.5,403.8 L206.7,403.4 L209.0,403.1 L211.2,402.8 L213.4,402.4 L215.6,402.1 L217.8,401.7 L220.1,401.4 L222.3,401.0 L224.5,400.7 L226.7,400.3 L228.9,399.9 L231.1,399.5 L233.3,399.1 L235.6,398.7 L237.8,398.3 L240.0,397.9 L242.2,397.5 L244.4,397.0 L246.6,396.6 L248.8,396.1 L251.0,395.6 L253.1,395.1 L255.3,394.6 L257.5,394.1 L259.7,393.5 L261.9,393.0 L264.1,392.5 L266.2,391.9 L268.4,391.3 L270.6,390.8 L272.8,390.2 L274.9,389.6 L277.1,389.1 L279.3,388.5 L281.4,387.9 L283.6,387.3 L285.8,386.8 L288.0,386.2 L290.1,385.6 L292.3,385.1 L294.5,384.5 L296.6,383.9 L298.8,383.3 L301.0,382.8 L303.2,382.2 L305.3,381.6 L307.5,381.0 L309.7,380.4 L311.8,379.8 L314.0,379.3 L316.2,378.7 L318.3,378.1 L320.5,377.5 L322.7,376.9 L324.9,376.4 L327.0,375.8 L329.2,375.2 L331.4,374.6 L333.5,374.1 L335.7,373.5 L337.9,372.9 L340.1,372.3 L342.2,371.7 L344.4,371.2 L346.6,370.6 L348.7,370.0 L350.9,369.4 L353.1,368.9 L355.3,368.3 L357.4,367.7 L359.6,367.2 L361.8,366.7 L364.0,366.1 L366.1,365.6 L368.3,365.1 L370.5,364.6 L372.7,364.1 L374.9,363.6 L377.1,363.1 L379.3,362.6 L381.5,362.1 L383.7,361.7 L385.9,361.2 L388.1,360.8 L390.3,360.4 L392.5,359.9 L394.7,359.5 L396.9,359.1 L399.1,358.7 L401.3,358.2 L403.5,357.8 L405.7,357.4 L407.9,357.0 L410.1,356.5 L412.3,356.1 L414.5,355.6 L416.8,355.2 L419.0,354.8 L421.2,354.4 L423.4,354.0 L425.6,353.5 L427.8,353.1 L430.0,352.6 L432.1,352.1 L434.3,351.4 L436.4,350.7 L438.4,349.8 L440.4,348.7 L442.2,347.4 L443.9,346.0 L445.5,344.4 L446.9,342.7 L448.3,340.9 L449.7,339.2 L451.1,337.4 L452.4,335.6 L453.7,333.8 L454.9,331.9 L456.2,330.0 L457.4,328.1 L458.5,326.2 L459.7,324.3 L460.9,322.4 L462.1,320.5 L463.3,318.6 L464.5,316.7 L465.7,314.7 L466.8,312.8 L468.0,310.9 L469.2,309.0 L470.4,307.1" fill="none" stroke="#000" stroke-width="3.4" stroke-linejoin="round" stroke-linecap="round"/>
<path d="M63.0,441.0 L63.8,438.9 L64.5,436.7 L65.3,434.6 L66.2,432.5 L67.4,430.5 L68.7,428.7 L70.2,426.9 L72.0,425.5 L74.0,424.5 L76.1,423.6 L78.2,422.8 L80.3,422.1 L82.5,421.4 L84.7,420.8 L86.9,420.2 L89.1,419.6 L91.3,419.1 L93.5,418.6 L95.8,418.1 L98.0,417.7 L100.2,417.3 L102.5,416.9 L104.7,416.5 L107.0,416.2 L109.2,415.8 L111.5,415.5 L113.7,415.2 L116.0,414.9 L118.2,414.6 L120.5,414.4 L122.8,414.1 L125.0,413.8 L127.3,413.6 L129.6,413.3 L131.8,413.1 L134.1,412.8 L136.3,412.6 L138.6,412.3 L140.9,412.1 L143.1,411.8 L145.4,411.6 L147.6,411.3 L149.9,411.1 L152.2,410.8 L154.4,410.6 L156.7,410.3 L159.0,410.1 L161.2,409.8 L163.5,409.5 L165.7,409.2 L168.0,409.0 L170.2,408.7 L172.5,408.4 L174.8,408.2 L177.0,407.9 L179.3,407.6 L181.5,407.4 L183.8,407.1 L186.1,406.8 L188.3,406.5 L190.6,406.2 L192.8,405.9 L195.1,405.6 L197.3,405.3 L199.6,405.0 L201.9,404.7 L204.1,404.3 L206.4,404.0 L208.6,403.7 L210.9,403.3 L213.1,403.0 L215.4,402.6 L217.6,402.3 L219.8,401.9 L222.1,401.6 L224.3,401.2 L226.6,400.8 L228.8,400.4 L231.1,400.1 L233.3,399.7 L235.6,399.3 L237.8,398.8 L240.0,398.4 L242.3,398.0 L244.5,397.5 L246.7,397.1 L248.9,396.6 L251.2,396.1 L253.4,395.6 L255.6,395.1 L257.8,394.5 L260.0,394.0 L262.2,393.4 L264.4,392.9 L266.6,392.3 L268.8,391.8 L271.0,391.2 L273.2,390.6 L275.4,390.0 L277.6,389.4 L279.8,388.8 L282.0,388.3 L284.2,387.7 L286.4,387.1 L288.6,386.5 L290.8,385.9 L293.0,385.4 L295.2,384.8 L297.4,384.2 L299.6,383.6 L301.8,383.0 L304.0,382.4 L306.2,381.9 L308.4,381.3 L310.6,380.7 L312.8,380.1 L315.0,379.5 L317.2,378.9 L319.4,378.3 L321.6,377.7 L323.8,377.1 L326.0,376.6 L328.2,376.0 L330.4,375.4 L332.6,374.8 L334.8,374.2 L337.0,373.6 L339.2,373.0 L341.4,372.5 L343.6,371.9 L345.8,371.3 L348.0,370.7 L350.2,370.1 L352.4,369.5 L354.6,369.0 L356.8,368.4 L359.0,367.8 L361.2,367.3 L363.4,366.7 L365.6,366.2 L367.9,365.6 L370.1,365.1 L372.3,364.6 L374.5,364.1 L376.7,363.6 L378.9,363.1 L381.2,362.6 L383.4,362.2 L385.6,361.7 L387.9,361.3 L390.1,360.9 L392.3,360.4 L394.6,360.0 L396.8,359.6 L399.0,359.2 L401.3,358.7 L403.5,358.3 L405.8,357.9 L408.0,357.4 L410.2,357.0 L412.5,356.6 L414.7,356.1 L416.9,355.7 L419.1,355.2 L421.4,354.8 L423.6,354.4 L425.9,354.0 L428.1,353.6 L430.3,353.2 L432.6,352.8 L434.8,352.3 L437.0,351.8 L439.2,351.3 L441.4,350.6 L443.6,349.9 L445.6,348.9 L447.6,347.8 L449.4,346.4 L451.0,344.8 L452.5,343.1 L453.9,341.3 L455.3,339.5 L456.7,337.7 L458.1,335.9 L459.3,334.0 L460.6,332.1 L461.8,330.2 L463.0,328.2 L464.2,326.3 L465.4,324.4 L466.6,322.5 L467.9,320.6 L469.1,318.6 L470.3,316.7 L471.5,314.8 L472.8,312.9 L474.0,311.0 L475.2,309.0 L476.4,307.1" fill="none" stroke="#000" stroke-width="3.4" stroke-linejoin="round" stroke-linecap="round"/>
<path d="M64.0,655.0 L68.1,655.5 L73.7,656.2 L80.4,657.0 L87.8,657.9 L95.4,658.9 L103.0,659.9 L110.1,660.8 L116.2,661.6 L121.6,662.4 L126.7,663.1 L131.4,663.8 L135.9,664.5 L140.4,665.2 L144.7,665.9 L149.2,666.5 L153.8,667.2 L158.4,667.8 L163.1,668.4 L167.7,669.0 L172.4,669.6 L177.0,670.2 L181.7,670.7 L186.3,671.3 L191.0,671.9 L195.7,672.5 L200.4,673.1 L205.1,673.7 L209.9,674.3 L214.6,674.9 L219.3,675.5 L224.0,676.1 L228.8,676.6 L233.5,677.1 L238.2,677.6 L243.0,678.0 L247.8,678.5 L252.5,678.9 L257.1,679.4 L261.7,679.8 L266.2,680.3 L270.6,680.8 L274.7,681.2 L278.7,681.6 L282.7,682.0 L286.7,682.5 L290.9,683.1 L295.3,683.7 L300.0,684.5 L305.1,685.4 L310.7,686.4 L316.5,687.6 L322.4,688.8 L328.3,690.0 L334.0,691.3 L339.4,692.7 L344.3,694.0 L348.8,695.3 L352.9,696.7 L356.9,698.1 L360.6,699.5 L364.1,701.0 L367.5,702.5 L370.7,704.2 L373.9,706.0 L377.0,707.9 L379.9,709.8 L382.7,711.8 L385.4,713.9 L387.9,716.2 L390.3,718.6 L392.5,721.2 L394.6,724.0 L396.5,727.0 L398.1,730.0 L399.6,733.1 L401.0,736.5 L402.3,740.1 L403.6,744.0 L404.9,748.4 L406.4,753.2 L408.1,758.9 L409.9,765.8 L411.9,773.2 L413.8,780.9 L415.6,788.4 L417.3,795.2 L418.7,800.8 L419.7,805.0" fill="none" stroke="#000" stroke-width="3.4" stroke-linejoin="round" stroke-linecap="round"/>
<path d="M64.0,653.0 L68.1,653.3 L73.7,653.7 L80.4,654.1 L87.8,654.7 L95.4,655.2 L103.0,655.8 L110.1,656.3 L116.2,656.9 L121.6,657.4 L126.7,658.0 L131.4,658.6 L135.9,659.1 L140.4,659.7 L144.7,660.3 L149.2,661.0 L153.8,661.6 L158.4,662.3 L163.1,662.9 L167.7,663.6 L172.4,664.3 L177.0,665.1 L181.7,665.8 L186.3,666.5 L191.0,667.2 L195.7,667.9 L200.4,668.6 L205.1,669.3 L209.9,670.1 L214.6,670.8 L219.3,671.5 L224.0,672.1 L228.8,672.8 L233.5,673.4 L238.2,674.1 L243.0,674.7 L247.8,675.3 L252.5,675.9 L257.1,676.4 L261.7,677.0 L266.2,677.5 L270.6,678.0 L274.8,678.4 L278.9,678.7 L283.0,679.1 L287.1,679.5 L291.2,679.9 L295.5,680.4 L300.0,681.0 L304.7,681.7 L309.7,682.5 L314.8,683.4 L320.0,684.3 L325.2,685.2 L330.3,686.2 L335.2,687.1 L340.0,688.0 L344.6,688.8 L349.0,689.6 L353.4,690.3 L357.6,691.1 L361.8,691.9 L365.9,692.8 L369.9,693.8 L373.9,695.0 L377.9,696.4 L381.9,697.9 L385.9,699.4 L389.8,701.1 L393.6,703.0 L397.2,704.9 L400.4,706.9 L403.4,709.0 L406.0,711.2 L408.3,713.4 L410.3,715.7 L412.1,718.2 L413.7,720.7 L415.3,723.5 L416.7,726.4 L418.2,729.6 L419.6,733.0 L420.8,736.6 L421.9,740.4 L422.9,744.4 L423.8,748.6 L424.8,752.9 L425.9,757.4 L427.0,762.0 L428.3,767.2 L429.7,773.0 L431.2,779.2 L432.8,785.5 L434.2,791.6 L435.5,797.0 L436.6,801.6 L437.4,805.0" fill="none" stroke="#000" stroke-width="3.4" stroke-linejoin="round" stroke-linecap="round"/>
<path d="M64.0,651.2 L68.1,651.4 L73.7,651.5 L80.4,651.7 L87.8,651.9 L95.4,652.1 L103.0,652.4 L110.1,652.7 L116.2,653.0 L121.6,653.4 L126.7,653.8 L131.4,654.3 L135.9,654.8 L140.4,655.3 L144.7,655.8 L149.2,656.4 L153.8,656.9 L158.4,657.4 L163.1,658.0 L167.7,658.6 L172.4,659.1 L177.0,659.7 L181.7,660.3 L186.3,661.0 L191.0,661.6 L195.7,662.3 L200.4,662.9 L205.1,663.6 L209.9,664.3 L214.6,665.1 L219.3,665.8 L224.0,666.5 L228.8,667.2 L233.5,667.9 L238.2,668.6 L243.0,669.4 L247.8,670.1 L252.5,670.8 L257.1,671.5 L261.7,672.2 L266.2,672.8 L270.5,673.4 L274.6,673.9 L278.5,674.3 L282.3,674.8 L286.3,675.2 L290.5,675.7 L295.0,676.3 L300.0,677.0 L305.5,677.8 L311.6,678.8 L318.1,679.8 L324.7,680.9 L331.4,682.0 L337.9,683.0 L344.2,684.1 L350.0,685.0 L355.4,685.8 L360.7,686.6 L365.7,687.3 L370.6,688.0 L375.4,688.8 L379.9,689.5 L384.4,690.3 L388.7,691.2 L392.9,692.1 L396.9,692.9 L400.8,693.7 L404.6,694.5 L408.2,695.5 L411.7,696.7 L415.0,698.2 L418.2,700.0 L421.3,702.1 L424.3,704.5 L427.1,707.2 L429.8,710.0 L432.4,713.1 L434.8,716.4 L436.9,719.9 L438.9,723.7 L440.6,727.8 L442.0,732.1 L443.1,736.8 L444.1,741.6 L445.0,746.7 L445.9,751.8 L446.8,756.9 L447.8,762.0 L449.0,767.4 L450.2,773.4 L451.5,779.7 L452.8,785.9 L453.9,791.8 L455.0,797.2 L455.9,801.7 L456.6,805.0" fill="none" stroke="#000" stroke-width="3.4" stroke-linejoin="round" stroke-linecap="round"/>
<path d="M64.0,648.4 L68.1,648.4 L73.7,648.3 L80.4,648.3 L87.8,648.2 L95.4,648.2 L103.0,648.2 L110.1,648.3 L116.2,648.4 L121.6,648.6 L126.7,648.9 L131.4,649.2 L135.9,649.5 L140.4,649.9 L144.7,650.3 L149.2,650.8 L153.8,651.2 L158.4,651.7 L163.1,652.3 L167.7,652.9 L172.4,653.5 L177.0,654.1 L181.7,654.7 L186.3,655.4 L191.0,656.0 L195.7,656.7 L200.4,657.3 L205.1,658.0 L209.9,658.7 L214.6,659.4 L219.3,660.1 L224.0,660.9 L228.8,661.6 L233.5,662.4 L238.2,663.2 L243.0,664.0 L247.8,664.8 L252.5,665.6 L257.1,666.4 L261.7,667.2 L266.2,668.0 L270.5,668.8 L274.6,669.5 L278.5,670.2 L282.3,670.9 L286.3,671.6 L290.5,672.4 L295.0,673.2 L300.0,674.0 L305.4,674.9 L311.3,675.9 L317.4,677.0 L323.8,678.1 L330.3,679.2 L336.9,680.2 L343.5,681.1 L350.0,682.0 L356.6,682.7 L363.5,683.3 L370.4,683.8 L377.4,684.2 L384.3,684.7 L391.0,685.2 L397.4,685.9 L403.4,686.7 L409.1,687.6 L414.5,688.5 L419.8,689.4 L424.8,690.5 L429.6,691.7 L434.0,693.1 L438.1,694.9 L441.8,697.0 L445.1,699.5 L447.9,702.2 L450.4,705.3 L452.6,708.6 L454.5,712.1 L456.3,715.8 L457.9,719.7 L459.6,723.7 L461.1,727.9 L462.5,732.3 L463.6,737.0 L464.6,741.8 L465.6,746.8 L466.5,751.8 L467.4,756.9 L468.4,762.0 L469.4,767.4 L470.5,773.4 L471.6,779.7 L472.6,785.9 L473.6,791.8 L474.5,797.2 L475.2,801.7 L475.8,805.0" fill="none" stroke="#000" stroke-width="3.4" stroke-linejoin="round" stroke-linecap="round"/>
<path d="M64.0,643.8 L68.1,643.6 L73.7,643.3 L80.4,643.0 L87.8,642.7 L95.4,642.4 L103.0,642.1 L110.1,642.0 L116.2,641.9 L121.6,641.9 L126.7,642.0 L131.4,642.2 L135.9,642.4 L140.4,642.6 L144.7,642.9 L149.2,643.3 L153.8,643.8 L158.4,644.3 L163.1,644.9 L167.7,645.5 L172.4,646.3 L177.0,647.0 L181.7,647.8 L186.3,648.6 L191.0,649.4 L195.7,650.2 L200.4,651.0 L205.1,651.8 L209.9,652.6 L214.6,653.5 L219.3,654.3 L224.0,655.2 L228.8,656.0 L233.5,656.8 L238.2,657.6 L243.0,658.4 L247.8,659.2 L252.5,660.0 L257.1,660.8 L261.7,661.6 L266.2,662.5 L270.6,663.4 L274.8,664.3 L278.9,665.3 L283.0,666.3 L287.1,667.3 L291.2,668.2 L295.5,669.1 L300.0,670.0 L304.6,670.8 L309.4,671.6 L314.2,672.4 L319.1,673.2 L324.1,673.9 L329.2,674.6 L334.5,675.3 L340.0,676.0 L345.7,676.7 L351.7,677.3 L357.8,677.9 L364.1,678.5 L370.4,679.1 L376.6,679.7 L382.8,680.2 L388.7,680.8 L394.5,681.3 L400.4,681.8 L406.3,682.2 L412.0,682.6 L417.7,683.0 L423.1,683.6 L428.2,684.3 L433.0,685.2 L437.5,686.2 L441.8,687.4 L445.8,688.6 L449.6,689.9 L453.2,691.4 L456.5,693.0 L459.6,694.9 L462.5,697.0 L465.1,699.3 L467.3,701.7 L469.3,704.2 L471.0,707.0 L472.6,710.0 L474.2,713.3 L475.7,716.8 L477.3,720.7 L479.0,725.0 L480.6,729.7 L482.2,734.8 L483.8,740.1 L485.2,745.6 L486.6,751.1 L487.9,756.6 L489.1,762.0 L490.2,767.6 L491.1,773.6 L492.0,779.9 L492.8,786.1 L493.5,791.9 L494.1,797.2 L494.6,801.7 L495.0,805.0" fill="none" stroke="#000" stroke-width="3.4" stroke-linejoin="round" stroke-linecap="round"/>
<path d="M64.7,678.5 L68.6,678.3 L73.9,678.0 L80.0,677.6 L87.0,677.2 L94.3,676.8 L101.8,676.4 L109.2,675.9 L116.2,675.5 L123.2,675.1 L130.4,674.6 L137.8,674.1 L145.3,673.6 L152.6,673.1 L159.6,672.6 L166.3,672.0 L172.5,671.5 L178.1,671.0 L183.2,670.5 L187.9,670.1 L192.4,669.6 L196.8,669.1 L201.1,668.5 L205.4,667.8 L210.0,667.0 L214.7,666.0 L219.5,664.9 L224.3,663.7 L229.1,662.4 L233.8,661.0 L238.5,659.7 L243.1,658.3 L247.5,657.0 L251.9,655.7 L256.3,654.3 L260.6,652.8 L264.8,651.4 L268.9,650.0 L272.9,648.7 L276.6,647.5 L280.0,646.5 L283.0,645.7 L285.7,645.2 L288.0,644.8 L290.2,644.4 L292.4,644.1 L294.6,643.7 L297.1,643.2 L300.0,642.4 L303.2,641.4 L306.7,640.3 L310.4,639.2 L314.2,637.9 L318.0,636.5 L321.9,635.0 L325.7,633.5 L329.5,632.0 L333.2,630.4 L336.9,628.7 L340.6,626.9 L344.2,625.0 L347.9,623.1 L351.6,621.2 L355.3,619.2 L359.0,617.3 L362.7,615.4 L366.3,613.4 L369.9,611.5 L373.6,609.5 L377.2,607.4 L381.0,605.4 L384.8,603.2 L388.7,601.0 L393.0,598.6 L397.7,595.8 L402.6,593.0 L407.5,590.1 L412.2,587.3 L416.4,584.8 L420.0,582.8 L422.6,581.2" fill="none" stroke="#000" stroke-width="3.4" stroke-linejoin="round" stroke-linecap="round"/>
<path d="M64.7,679.4 L68.6,679.2 L73.9,678.9 L80.0,678.6 L87.0,678.2 L94.3,677.9 L101.8,677.5 L109.2,677.0 L116.2,676.6 L123.2,676.2 L130.4,675.7 L137.8,675.3 L145.3,674.8 L152.6,674.3 L159.6,673.8 L166.3,673.3 L172.5,672.8 L178.1,672.3 L183.2,671.8 L187.9,671.4 L192.4,671.0 L196.8,670.5 L201.1,669.9 L205.4,669.3 L210.0,668.5 L214.7,667.6 L219.5,666.5 L224.3,665.3 L229.1,664.0 L233.8,662.7 L238.5,661.4 L243.1,660.1 L247.5,658.9 L251.9,657.6 L256.3,656.3 L260.6,655.0 L264.8,653.7 L268.9,652.4 L272.9,651.1 L276.6,650.0 L280.0,649.0 L282.8,648.2 L285.0,647.8 L286.7,647.4 L288.3,647.1 L290.2,646.7 L292.6,646.2 L295.7,645.3 L300.0,643.9 L305.7,642.0 L312.7,639.6 L320.6,637.0 L328.9,634.1 L337.3,631.1 L345.4,628.2 L352.8,625.5 L359.0,623.2 L364.1,621.2 L368.5,619.4 L372.3,617.8 L375.7,616.3 L378.9,614.9 L382.0,613.3 L385.2,611.8 L388.7,610.0 L392.4,608.1 L396.2,606.0 L400.1,603.9 L403.9,601.8 L407.6,599.6 L411.3,597.5 L414.8,595.5 L418.2,593.6 L421.6,591.8 L425.0,589.9 L428.3,588.1 L431.6,586.4 L434.6,584.8 L437.3,583.3 L439.6,582.1 L441.3,581.2" fill="none" stroke="#000" stroke-width="3.4" stroke-linejoin="round" stroke-linecap="round"/>
<path d="M64.7,680.2 L68.6,680.1 L73.9,679.8 L80.0,679.6 L87.0,679.2 L94.3,678.9 L101.8,678.5 L109.2,678.1 L116.2,677.8 L123.2,677.3 L130.4,676.9 L137.8,676.4 L145.3,676.0 L152.6,675.5 L159.6,675.0 L166.3,674.5 L172.5,674.0 L178.1,673.5 L183.2,673.1 L187.9,672.7 L192.4,672.3 L196.8,671.9 L201.1,671.4 L205.4,670.8 L210.0,670.0 L214.7,669.1 L219.5,668.1 L224.3,666.9 L229.1,665.7 L233.8,664.4 L238.5,663.2 L243.1,661.9 L247.5,660.8 L251.9,659.6 L256.3,658.4 L260.6,657.1 L264.8,655.9 L268.9,654.7 L272.9,653.6 L276.6,652.5 L280.0,651.5 L282.8,650.7 L285.0,650.0 L286.7,649.4 L288.3,648.9 L290.2,648.3 L292.6,647.6 L295.7,646.6 L300.0,645.4 L305.7,643.8 L312.7,641.9 L320.6,639.8 L328.9,637.5 L337.3,635.3 L345.4,633.0 L352.8,630.9 L359.0,629.0 L364.0,627.4 L368.1,625.9 L371.6,624.5 L374.8,623.2 L377.8,621.9 L380.9,620.5 L384.5,619.0 L388.7,617.3 L393.7,615.4 L399.1,613.3 L405.0,611.1 L411.0,608.9 L417.0,606.6 L422.8,604.2 L428.2,601.9 L433.0,599.6 L437.4,597.2 L441.7,594.6 L445.8,591.9 L449.5,589.3 L452.9,586.8 L456.0,584.5 L458.5,582.6 L460.5,581.2" fill="none" stroke="#000" stroke-width="3.4" stroke-linejoin="round" stroke-linecap="round"/>
<path d="M64.7,681.1 L68.6,681.0 L73.9,680.8 L80.0,680.5 L87.0,680.2 L94.3,679.9 L101.8,679.6 L109.2,679.2 L116.2,678.9 L123.2,678.5 L130.4,678.1 L137.8,677.6 L145.3,677.2 L152.6,676.7 L159.6,676.2 L166.3,675.7 L172.5,675.2 L178.1,674.8 L183.2,674.4 L187.9,674.1 L192.4,673.7 L196.8,673.3 L201.1,672.8 L205.4,672.2 L210.0,671.5 L214.7,670.6 L219.5,669.6 L224.3,668.5 L229.1,667.4 L233.8,666.2 L238.5,664.9 L243.1,663.8 L247.5,662.6 L251.9,661.5 L256.3,660.4 L260.6,659.2 L264.8,658.1 L268.9,657.0 L272.9,655.9 L276.6,654.9 L280.0,654.0 L282.8,653.2 L285.0,652.5 L286.7,651.9 L288.3,651.3 L290.2,650.6 L292.6,650.0 L295.7,649.2 L300.0,648.3 L305.7,647.2 L312.7,646.1 L320.6,644.8 L328.9,643.4 L337.3,642.1 L345.4,640.7 L352.8,639.3 L359.0,638.0 L364.0,636.7 L368.1,635.5 L371.6,634.2 L374.8,633.0 L377.8,631.7 L380.9,630.4 L384.5,629.0 L388.7,627.6 L393.6,626.1 L399.1,624.5 L404.9,623.0 L410.9,621.3 L416.8,619.6 L422.6,617.9 L428.1,616.1 L433.0,614.3 L437.5,612.4 L441.7,610.4 L445.7,608.4 L449.4,606.4 L452.9,604.3 L456.3,602.2 L459.5,600.1 L462.5,598.0 L465.4,595.8 L468.2,593.4 L470.8,591.0 L473.2,588.6 L475.4,586.3 L477.4,584.2 L479.0,582.5 L480.3,581.2" fill="none" stroke="#000" stroke-width="3.4" stroke-linejoin="round" stroke-linecap="round"/>
<path d="M64.7,682.0 L68.6,681.9 L73.9,681.7 L80.0,681.5 L87.0,681.2 L94.3,680.9 L101.8,680.7 L109.2,680.3 L116.2,680.0 L123.2,679.6 L130.4,679.2 L137.8,678.8 L145.3,678.3 L152.6,677.9 L159.6,677.4 L166.3,676.9 L172.5,676.5 L178.1,676.1 L183.2,675.7 L187.9,675.4 L192.4,675.1 L196.8,674.7 L201.1,674.2 L205.4,673.7 L210.0,673.0 L214.7,672.2 L219.5,671.2 L224.3,670.2 L229.1,669.0 L233.8,667.9 L238.5,666.7 L243.1,665.6 L247.5,664.5 L251.9,663.5 L256.3,662.4 L260.6,661.3 L264.8,660.3 L268.9,659.3 L272.9,658.3 L276.6,657.4 L280.0,656.5 L282.8,655.7 L285.0,655.0 L286.7,654.4 L288.3,653.8 L290.2,653.2 L292.6,652.6 L295.7,652.0 L300.0,651.3 L305.8,650.6 L313.0,649.9 L321.1,649.1 L329.6,648.4 L338.2,647.7 L346.2,646.9 L353.3,646.1 L359.0,645.4 L363.2,644.7 L366.3,643.9 L368.7,643.2 L370.5,642.5 L371.9,641.8 L373.3,641.0 L374.9,640.2 L376.8,639.4 L378.9,638.5 L380.8,637.6 L382.6,636.6 L384.4,635.6 L386.4,634.6 L388.7,633.7 L391.4,632.8 L394.6,632.0 L398.5,631.3 L403.0,630.8 L407.9,630.4 L413.1,630.0 L418.3,629.6 L423.5,629.0 L428.5,628.4 L433.0,627.6 L437.2,626.6 L441.2,625.6 L445.1,624.5 L448.9,623.3 L452.5,622.0 L456.0,620.5 L459.3,619.0 L462.5,617.3 L465.5,615.4 L468.4,613.4 L471.1,611.2 L473.7,609.0 L476.1,606.6 L478.5,604.2 L480.9,601.9 L483.2,599.6 L485.6,597.2 L488.0,594.6 L490.4,591.9 L492.6,589.3 L494.8,586.8 L496.7,584.5 L498.3,582.6 L499.5,581.2" fill="none" stroke="#000" stroke-width="3.4" stroke-linejoin="round" stroke-linecap="round"/>
<path d="M729.4,87.0 L731.3,87.3 L733.2,87.6 L735.2,87.9 L737.1,88.1 L739.0,88.4 L740.9,88.7 L742.9,89.0 L744.8,89.3 L746.7,89.6 L748.6,89.8 L750.6,90.1 L752.5,90.4 L754.4,90.7 L756.3,91.0 L758.2,91.3 L760.2,91.6 L762.1,91.9 L764.0,92.2 L765.9,92.5 L767.8,92.8 L769.8,93.2 L771.7,93.5 L773.6,93.8 L775.5,94.2 L777.4,94.5 L779.3,94.9 L781.2,95.3 L783.1,95.6 L785.1,96.0 L787.0,96.4 L788.9,96.8 L790.8,97.2 L792.7,97.7 L794.5,98.1 L796.4,98.5 L798.3,99.0 L800.2,99.5 L802.1,99.9 L804.0,100.4 L805.9,100.9 L807.7,101.5 L809.6,102.0 L811.5,102.5 L813.3,103.1 L815.2,103.7 L817.0,104.2 L818.9,104.8 L820.7,105.5 L822.6,106.1 L824.4,106.8 L826.2,107.5 L828.0,108.2 L829.8,108.9 L831.6,109.6 L833.4,110.4 L835.2,111.1 L837.0,111.9 L838.8,112.6 L840.6,113.4 L842.4,114.2 L844.2,115.0 L845.9,115.7 L847.7,116.5 L849.5,117.3 L851.3,118.0 L853.1,118.8 L854.9,119.5 L856.7,120.2 L858.5,120.9 L860.4,121.6 L862.2,122.2 L864.0,122.8 L865.9,123.4 L867.8,124.0 L869.6,124.4 L871.5,124.9 L873.4,125.3 L875.3,125.8 L877.2,126.2 L879.1,126.7 L881.0,127.1 L882.9,127.6 L884.8,128.0 L886.7,128.4 L888.6,128.8 L890.5,129.3 L892.4,129.7 L894.3,130.1 L896.2,130.5 L898.1,130.9 L900.0,131.4 L901.9,131.8 L903.8,132.2 L905.7,132.7 L907.5,133.1 L909.4,133.6 L911.3,134.0 L913.2,134.5 L915.1,135.0 L917.0,135.5 L918.8,136.0 L920.7,136.5 L922.6,137.0 L924.5,137.6 L926.3,138.1 L928.2,138.6 L930.1,139.2 L931.9,139.7 L933.8,140.2 L935.7,140.8 L937.6,141.3 L939.4,141.8 L941.3,142.3 L943.2,142.8 L945.1,143.3 L947.0,143.8 L948.9,144.2 L950.7,144.6 L952.6,145.1 L954.5,145.5 L956.4,146.0 L958.3,146.5 L960.2,147.0 L962.0,147.6 L963.9,148.2 L965.7,148.9 L967.5,149.6 L969.3,150.4 L971.1,151.2 L972.8,152.0 L974.6,152.9 L976.3,153.8 L978.0,154.7 L979.6,155.7 L981.3,156.7 L982.9,157.8 L984.5,158.9 L986.1,160.1 L987.5,161.4 L989.0,162.7 L990.3,164.1 L991.6,165.5 L992.8,167.0 L994.0,168.6 L995.1,170.2 L996.1,171.9 L997.0,173.6 L997.9,175.3 L998.7,177.1 L999.4,178.9 L1000.1,180.7 L1000.7,182.6 L1001.3,184.4 L1001.8,186.3 L1002.3,188.2 L1002.7,190.1 L1003.2,192.0 L1003.6,193.9 L1003.9,195.8 L1004.2,197.7 L1004.5,199.6 L1004.7,201.6 L1005.0,203.5 L1005.2,205.4 L1005.4,207.4 L1005.6,209.3 L1005.8,211.2 L1005.9,213.2 L1006.1,215.1 L1006.2,217.0 L1006.4,219.0 L1006.5,220.9 L1006.6,222.9 L1006.7,224.8 L1006.8,226.7 L1007.0,228.7 L1007.1,230.6 L1007.1,232.6 L1007.2,234.5 L1007.3,236.5 L1007.3,238.4 L1007.4,240.3 L1007.4,242.3 L1007.5,244.2 L1007.5,246.2 L1007.5,248.1 L1007.5,250.1 L1007.5,252.0 L1007.5,254.0 L1007.5,255.9 L1007.5,257.8 L1007.5,259.8 L1007.5,261.7 L1007.5,263.7 L1007.5,265.6 L1007.5,267.6 L1007.5,269.5 L1007.5,271.5 L1007.5,273.4" fill="none" stroke="#000" stroke-width="3.4" stroke-linejoin="round" stroke-linecap="round"/>
<path d="M729.4,85.4 L731.4,85.7 L733.4,86.0 L735.4,86.4 L737.4,86.7 L739.3,87.0 L741.3,87.3 L743.3,87.6 L745.3,87.9 L747.3,88.2 L749.3,88.5 L751.3,88.9 L753.3,89.2 L755.3,89.5 L757.2,89.8 L759.2,90.2 L761.2,90.5 L763.2,90.8 L765.2,91.1 L767.2,91.5 L769.2,91.8 L771.1,92.2 L773.1,92.5 L775.1,92.9 L777.1,93.3 L779.1,93.6 L781.0,94.0 L783.0,94.4 L785.0,94.8 L787.0,95.2 L788.9,95.6 L790.9,96.0 L792.9,96.5 L794.8,96.9 L796.8,97.3 L798.8,97.8 L800.7,98.3 L802.7,98.8 L804.6,99.3 L806.6,99.8 L808.5,100.3 L810.4,100.9 L812.4,101.5 L814.3,102.1 L816.2,102.7 L818.1,103.3 L820.0,103.9 L821.9,104.6 L823.8,105.3 L825.7,106.0 L827.6,106.7 L829.5,107.4 L831.3,108.2 L833.2,108.9 L835.1,109.7 L836.9,110.5 L838.8,111.2 L840.6,112.0 L842.5,112.8 L844.4,113.6 L846.2,114.4 L848.1,115.1 L849.9,115.9 L851.8,116.6 L853.7,117.4 L855.6,118.1 L857.4,118.8 L859.3,119.5 L861.2,120.1 L863.1,120.8 L865.0,121.4 L867.0,122.0 L868.9,122.6 L870.8,123.1 L872.8,123.6 L874.7,124.1 L876.7,124.5 L878.7,125.0 L880.6,125.4 L882.6,125.9 L884.5,126.3 L886.5,126.8 L888.5,127.2 L890.4,127.7 L892.4,128.1 L894.3,128.6 L896.3,129.1 L898.3,129.5 L900.2,130.0 L902.2,130.5 L904.1,131.0 L906.1,131.4 L908.1,131.9 L910.0,132.3 L912.0,132.8 L913.9,133.3 L915.9,133.7 L917.9,134.2 L919.8,134.7 L921.8,135.2 L923.7,135.7 L925.7,136.1 L927.6,136.6 L929.6,137.1 L931.5,137.7 L933.5,138.2 L935.4,138.7 L937.4,139.2 L939.3,139.7 L941.2,140.2 L943.2,140.7 L945.1,141.3 L947.1,141.8 L949.0,142.3 L951.0,142.7 L952.9,143.2 L954.9,143.6 L956.9,144.1 L958.8,144.5 L960.8,145.0 L962.8,145.4 L964.7,145.9 L966.7,146.4 L968.6,146.9 L970.6,147.5 L972.5,148.0 L974.4,148.7 L976.3,149.3 L978.2,150.0 L980.0,150.8 L981.9,151.6 L983.7,152.3 L985.5,153.2 L987.4,154.0 L989.1,154.9 L990.9,155.8 L992.6,156.8 L994.4,157.8 L996.0,158.9 L997.6,160.1 L999.2,161.3 L1000.7,162.5 L1002.2,163.9 L1003.6,165.3 L1004.9,166.7 L1006.2,168.2 L1007.4,169.8 L1008.5,171.4 L1009.6,173.1 L1010.6,174.8 L1011.5,176.5 L1012.4,178.3 L1013.2,180.1 L1014.0,181.9 L1014.7,183.8 L1015.4,185.6 L1016.0,187.5 L1016.6,189.4 L1017.2,191.3 L1017.7,193.3 L1018.1,195.2 L1018.5,197.2 L1018.9,199.1 L1019.3,201.1 L1019.6,203.1 L1019.9,205.1 L1020.1,207.1 L1020.4,209.1 L1020.6,211.1 L1020.8,213.1 L1021.0,215.1 L1021.1,217.1 L1021.3,219.1 L1021.4,221.1 L1021.6,223.1 L1021.7,225.1 L1021.9,227.1 L1022.0,229.1 L1022.1,231.1 L1022.2,233.1 L1022.3,235.1 L1022.4,237.2 L1022.5,239.2 L1022.5,241.2 L1022.6,243.2 L1022.6,245.2 L1022.7,247.2 L1022.7,249.2 L1022.7,251.3 L1022.8,253.3 L1022.8,255.3 L1022.8,257.3 L1022.8,259.3 L1022.8,261.3 L1022.8,263.3 L1022.8,265.3 L1022.9,267.4 L1022.9,269.4 L1022.9,271.4 L1022.9,273.4" fill="none" stroke="#000" stroke-width="3.4" stroke-linejoin="round" stroke-linecap="round"/>
<path d="M729.4,83.5 L731.5,83.9 L733.5,84.2 L735.6,84.6 L737.7,84.9 L739.7,85.3 L741.8,85.6 L743.9,86.0 L745.9,86.3 L748.0,86.7 L750.1,87.0 L752.1,87.4 L754.2,87.7 L756.3,88.1 L758.3,88.4 L760.4,88.8 L762.4,89.2 L764.5,89.5 L766.6,89.9 L768.6,90.3 L770.7,90.7 L772.7,91.0 L774.8,91.4 L776.9,91.8 L778.9,92.2 L781.0,92.6 L783.0,93.0 L785.1,93.4 L787.1,93.8 L789.2,94.3 L791.3,94.7 L793.3,95.1 L795.4,95.5 L797.4,96.0 L799.4,96.5 L801.5,96.9 L803.5,97.4 L805.6,97.9 L807.6,98.5 L809.6,99.0 L811.6,99.6 L813.6,100.2 L815.6,100.8 L817.6,101.5 L819.6,102.2 L821.6,102.9 L823.5,103.6 L825.5,104.3 L827.5,105.0 L829.4,105.8 L831.4,106.6 L833.3,107.4 L835.2,108.1 L837.2,108.9 L839.1,109.8 L841.0,110.6 L843.0,111.4 L844.9,112.2 L846.8,113.0 L848.8,113.8 L850.7,114.6 L852.7,115.3 L854.6,116.1 L856.6,116.8 L858.6,117.5 L860.6,118.1 L862.6,118.7 L864.5,119.4 L866.5,120.0 L868.5,120.6 L870.5,121.2 L872.6,121.7 L874.6,122.3 L876.6,122.8 L878.6,123.3 L880.7,123.7 L882.7,124.1 L884.8,124.6 L886.8,125.0 L888.9,125.5 L890.9,125.9 L893.0,126.4 L895.0,126.8 L897.1,127.3 L899.1,127.8 L901.1,128.3 L903.2,128.9 L905.2,129.4 L907.2,129.9 L909.2,130.4 L911.3,131.0 L913.3,131.5 L915.3,132.0 L917.4,132.5 L919.4,133.0 L921.4,133.4 L923.5,133.9 L925.5,134.4 L927.6,134.9 L929.6,135.3 L931.6,135.8 L933.7,136.3 L935.7,136.8 L937.8,137.3 L939.8,137.8 L941.8,138.2 L943.9,138.7 L945.9,139.2 L947.9,139.7 L950.0,140.2 L952.0,140.7 L954.0,141.2 L956.1,141.7 L958.1,142.1 L960.2,142.6 L962.2,143.1 L964.2,143.5 L966.3,144.0 L968.3,144.4 L970.4,144.9 L972.4,145.3 L974.5,145.8 L976.5,146.3 L978.5,146.8 L980.6,147.3 L982.6,147.8 L984.6,148.4 L986.6,149.0 L988.6,149.6 L990.6,150.3 L992.5,151.0 L994.5,151.7 L996.4,152.4 L998.4,153.2 L1000.3,153.9 L1002.2,154.8 L1004.1,155.6 L1005.9,156.5 L1007.7,157.5 L1009.5,158.5 L1011.3,159.6 L1013.0,160.7 L1014.6,161.9 L1016.2,163.2 L1017.8,164.5 L1019.3,165.9 L1020.7,167.4 L1022.0,168.9 L1023.3,170.5 L1024.5,172.1 L1025.7,173.8 L1026.8,175.5 L1027.9,177.2 L1028.9,179.0 L1029.8,180.8 L1030.7,182.6 L1031.6,184.5 L1032.4,186.4 L1033.2,188.3 L1033.8,190.3 L1034.5,192.2 L1035.0,194.2 L1035.6,196.2 L1036.1,198.3 L1036.5,200.3 L1036.9,202.4 L1037.2,204.4 L1037.5,206.5 L1037.8,208.6 L1038.1,210.6 L1038.3,212.7 L1038.5,214.8 L1038.7,216.9 L1038.9,219.0 L1039.0,221.1 L1039.2,223.2 L1039.4,225.3 L1039.5,227.3 L1039.7,229.4 L1039.8,231.5 L1039.9,233.6 L1040.1,235.7 L1040.2,237.8 L1040.3,239.9 L1040.3,242.0 L1040.4,244.1 L1040.5,246.2 L1040.5,248.3 L1040.6,250.4 L1040.6,252.5 L1040.7,254.5 L1040.7,256.6 L1040.8,258.7 L1040.8,260.8 L1040.8,262.9 L1040.9,265.0 L1040.9,267.1 L1040.9,269.2 L1041.0,271.3 L1041.0,273.4" fill="none" stroke="#000" stroke-width="3.4" stroke-linejoin="round" stroke-linecap="round"/>
<path d="M729.4,81.4 L731.6,81.8 L733.7,82.2 L735.9,82.5 L738.0,82.9 L740.2,83.3 L742.3,83.7 L744.5,84.1 L746.6,84.5 L748.8,84.9 L750.9,85.3 L753.1,85.7 L755.2,86.1 L757.4,86.5 L759.5,86.9 L761.7,87.3 L763.9,87.7 L766.0,88.1 L768.2,88.5 L770.3,88.9 L772.5,89.3 L774.6,89.7 L776.8,90.2 L778.9,90.6 L781.0,91.0 L783.2,91.4 L785.3,91.9 L787.5,92.3 L789.6,92.7 L791.8,93.1 L793.9,93.6 L796.1,94.0 L798.2,94.5 L800.4,95.0 L802.5,95.4 L804.6,95.9 L806.7,96.5 L808.9,97.0 L811.0,97.6 L813.1,98.2 L815.2,98.8 L817.3,99.5 L819.3,100.1 L821.4,100.9 L823.5,101.6 L825.5,102.4 L827.6,103.2 L829.6,103.9 L831.6,104.8 L833.7,105.6 L835.7,106.4 L837.7,107.3 L839.7,108.1 L841.7,109.0 L843.7,109.9 L845.8,110.7 L847.8,111.6 L849.8,112.4 L851.8,113.2 L853.9,114.0 L855.9,114.8 L858.0,115.5 L860.0,116.3 L862.1,116.9 L864.2,117.6 L866.3,118.2 L868.4,118.7 L870.5,119.3 L872.6,119.9 L874.8,120.4 L876.9,120.9 L879.0,121.4 L881.1,121.9 L883.3,122.4 L885.4,122.8 L887.6,123.2 L889.7,123.7 L891.8,124.1 L894.0,124.5 L896.1,125.0 L898.3,125.4 L900.4,125.9 L902.6,126.4 L904.7,126.9 L906.8,127.4 L908.9,128.0 L911.0,128.6 L913.1,129.2 L915.2,129.8 L917.3,130.4 L919.4,131.0 L921.6,131.6 L923.7,132.1 L925.8,132.6 L927.9,133.1 L930.1,133.7 L932.2,134.1 L934.3,134.6 L936.5,135.1 L938.6,135.6 L940.7,136.0 L942.9,136.5 L945.0,137.0 L947.2,137.4 L949.3,137.9 L951.4,138.3 L953.6,138.8 L955.7,139.3 L957.9,139.7 L960.0,140.2 L962.1,140.6 L964.3,141.1 L966.4,141.6 L968.6,142.0 L970.7,142.5 L972.8,142.9 L975.0,143.4 L977.1,143.8 L979.3,144.3 L981.4,144.7 L983.5,145.2 L985.7,145.6 L987.8,146.1 L990.0,146.6 L992.1,147.1 L994.2,147.6 L996.3,148.1 L998.5,148.6 L1000.6,149.2 L1002.7,149.8 L1004.8,150.3 L1006.9,150.9 L1008.9,151.6 L1011.0,152.2 L1013.1,152.8 L1015.2,153.5 L1017.2,154.3 L1019.2,155.0 L1021.2,155.8 L1023.2,156.7 L1025.1,157.7 L1027.0,158.7 L1028.9,159.7 L1030.7,160.8 L1032.5,162.0 L1034.3,163.3 L1035.9,164.6 L1037.6,166.0 L1039.1,167.5 L1040.6,169.0 L1042.0,170.6 L1043.4,172.2 L1044.7,173.9 L1046.0,175.6 L1047.2,177.4 L1048.4,179.2 L1049.5,181.1 L1050.6,182.9 L1051.5,184.9 L1052.4,186.8 L1053.3,188.8 L1054.0,190.9 L1054.7,192.9 L1055.3,195.0 L1055.9,197.1 L1056.4,199.3 L1056.8,201.4 L1057.2,203.6 L1057.6,205.7 L1057.9,207.9 L1058.2,210.1 L1058.4,212.2 L1058.7,214.4 L1058.9,216.6 L1059.1,218.8 L1059.3,220.9 L1059.5,223.1 L1059.7,225.3 L1059.9,227.5 L1060.0,229.7 L1060.2,231.8 L1060.4,234.0 L1060.5,236.2 L1060.6,238.4 L1060.7,240.6 L1060.9,242.8 L1060.9,245.0 L1061.0,247.1 L1061.1,249.3 L1061.2,251.5 L1061.3,253.7 L1061.3,255.9 L1061.4,258.1 L1061.5,260.3 L1061.5,262.5 L1061.6,264.6 L1061.7,266.8 L1061.7,269.0 L1061.8,271.2 L1061.9,273.4" fill="none" stroke="#000" stroke-width="3.4" stroke-linejoin="round" stroke-linecap="round"/>
<path d="M729.4,79.0 L731.6,79.4 L733.9,79.9 L736.1,80.3 L738.4,80.8 L740.6,81.2 L742.9,81.6 L745.2,82.1 L747.4,82.5 L749.7,82.9 L751.9,83.4 L754.1,83.8 L756.4,84.3 L758.6,84.7 L760.9,85.1 L763.1,85.6 L765.4,86.0 L767.6,86.5 L769.9,86.9 L772.1,87.4 L774.4,87.8 L776.6,88.3 L778.9,88.8 L781.1,89.2 L783.4,89.7 L785.6,90.2 L787.9,90.6 L790.1,91.0 L792.4,91.5 L794.6,91.9 L796.8,92.4 L799.1,92.9 L801.3,93.3 L803.6,93.8 L805.8,94.3 L808.0,94.9 L810.3,95.4 L812.5,96.0 L814.7,96.6 L816.9,97.2 L819.1,97.9 L821.3,98.6 L823.4,99.4 L825.6,100.2 L827.7,101.0 L829.9,101.8 L832.0,102.7 L834.1,103.6 L836.2,104.5 L838.3,105.4 L840.4,106.3 L842.5,107.2 L844.6,108.1 L846.7,109.0 L848.8,109.9 L850.9,110.9 L853.0,111.7 L855.1,112.6 L857.3,113.4 L859.4,114.3 L861.6,115.0 L863.8,115.8 L865.9,116.5 L868.1,117.1 L870.4,117.7 L872.6,118.2 L874.8,118.7 L877.1,119.2 L879.3,119.7 L881.5,120.2 L883.8,120.6 L886.0,121.1 L888.3,121.5 L890.5,121.9 L892.8,122.3 L895.1,122.7 L897.3,123.2 L899.6,123.6 L901.8,124.0 L904.1,124.5 L906.3,124.9 L908.5,125.4 L910.8,125.9 L913.0,126.5 L915.2,127.0 L917.4,127.7 L919.6,128.3 L921.8,129.0 L924.0,129.7 L926.2,130.3 L928.4,131.0 L930.6,131.6 L932.8,132.2 L935.0,132.8 L937.3,133.3 L939.5,133.9 L941.7,134.4 L944.0,134.9 L946.2,135.3 L948.5,135.8 L950.7,136.2 L952.9,136.7 L955.2,137.1 L957.4,137.6 L959.7,138.0 L961.9,138.4 L964.2,138.9 L966.4,139.3 L968.7,139.7 L971.0,140.2 L973.2,140.6 L975.5,141.0 L977.7,141.4 L980.0,141.9 L982.2,142.3 L984.5,142.8 L986.7,143.2 L989.0,143.6 L991.2,144.1 L993.4,144.6 L995.7,145.0 L997.9,145.5 L1000.2,146.0 L1002.4,146.4 L1004.7,146.9 L1006.9,147.3 L1009.2,147.8 L1011.4,148.3 L1013.7,148.7 L1015.9,149.2 L1018.1,149.6 L1020.4,150.1 L1022.6,150.6 L1024.9,151.1 L1027.1,151.6 L1029.3,152.2 L1031.5,152.8 L1033.7,153.4 L1035.9,154.1 L1038.1,154.8 L1040.3,155.6 L1042.4,156.4 L1044.5,157.3 L1046.6,158.2 L1048.6,159.3 L1050.7,160.3 L1052.6,161.5 L1054.5,162.8 L1056.4,164.2 L1058.2,165.6 L1059.9,167.1 L1061.5,168.7 L1063.2,170.3 L1064.8,172.0 L1066.3,173.7 L1067.7,175.5 L1069.1,177.3 L1070.4,179.2 L1071.6,181.1 L1072.7,183.1 L1073.8,185.1 L1074.7,187.2 L1075.6,189.3 L1076.4,191.5 L1077.1,193.7 L1077.7,195.9 L1078.3,198.1 L1078.8,200.3 L1079.2,202.6 L1079.6,204.9 L1079.9,207.1 L1080.2,209.4 L1080.5,211.7 L1080.8,213.9 L1081.0,216.2 L1081.3,218.5 L1081.5,220.8 L1081.7,223.1 L1081.9,225.3 L1082.1,227.6 L1082.4,229.9 L1082.5,232.2 L1082.7,234.5 L1082.9,236.8 L1083.0,239.1 L1083.2,241.3 L1083.3,243.6 L1083.4,245.9 L1083.5,248.2 L1083.7,250.5 L1083.8,252.8 L1083.9,255.1 L1084.0,257.4 L1084.0,259.7 L1084.1,261.9 L1084.2,264.2 L1084.3,266.5 L1084.4,268.8 L1084.5,271.1 L1084.6,273.4" fill="none" stroke="#000" stroke-width="3.4" stroke-linejoin="round" stroke-linecap="round"/>
<path d="M730.0,189.0 L730.2,187.5 L730.4,185.4 L730.7,183.0 L731.1,180.3 L731.5,177.5 L731.9,174.8 L732.4,172.2 L733.0,170.0 L733.7,168.1 L734.4,166.2 L735.3,164.4 L736.2,162.8 L737.1,161.2 L738.1,159.7 L739.0,158.3 L740.0,157.0 L740.8,155.8 L741.5,154.8 L742.0,153.9 L742.7,153.0 L743.5,152.2 L744.6,151.4 L746.0,150.5 L748.0,149.5 L750.5,148.4 L753.3,147.3 L756.5,146.2 L759.9,145.1 L763.7,143.9 L767.7,142.8 L771.9,141.6 L776.2,140.5 L781.0,139.4 L786.1,138.4 L791.5,137.4 L797.1,136.4 L802.8,135.4 L808.5,134.4 L814.1,133.2 L819.4,132.0 L824.6,130.6 L830.0,129.1 L835.3,127.6 L840.5,125.9 L845.6,124.3 L850.3,122.8 L854.8,121.3 L858.7,120.0 L862.1,118.9 L865.0,117.8 L867.5,116.9 L869.8,116.0 L871.9,115.2 L873.9,114.3 L876.1,113.5 L878.4,112.5 L880.8,111.5 L883.0,110.6 L885.3,109.6 L887.5,108.6 L889.8,107.6 L892.3,106.5 L895.1,105.3 L898.1,104.0 L901.6,102.5 L905.5,100.9 L909.7,99.1 L914.0,97.3 L918.4,95.5 L922.6,93.7 L926.5,92.0 L930.0,90.5 L933.1,89.1 L935.8,87.8 L938.3,86.5 L940.7,85.3 L943.0,84.2 L945.2,83.1 L947.5,82.1 L949.9,81.2 L952.4,80.4 L954.9,79.7 L957.4,79.1 L959.8,78.6 L962.3,78.0 L964.8,77.4 L967.3,76.7 L969.8,75.9 L972.3,74.9 L975.0,73.9 L977.6,72.8 L980.2,71.6 L982.8,70.4 L985.3,69.1 L987.6,67.9 L989.8,66.6 L991.8,65.3 L993.8,63.9 L995.6,62.5 L997.3,61.1 L998.9,59.7 L1000.4,58.3 L1001.8,57.1 L1003.0,55.9 L1004.1,54.8 L1005.0,53.8 L1005.8,52.8 L1006.5,51.9 L1007.1,51.1 L1007.6,50.4 L1008.0,49.8 L1008.4,49.3" fill="none" stroke="#000" stroke-width="3.4" stroke-linejoin="round" stroke-linecap="round"/>
<path d="M730.0,190.0 L730.2,188.5 L730.5,186.6 L730.8,184.2 L731.2,181.6 L731.6,178.9 L732.1,176.2 L732.6,173.7 L733.2,171.5 L734.0,169.6 L734.8,167.7 L735.6,165.9 L736.6,164.2 L737.5,162.6 L738.5,161.0 L739.5,159.6 L740.5,158.2 L741.4,157.1 L742.0,156.0 L742.7,155.1 L743.4,154.3 L744.2,153.5 L745.3,152.7 L746.8,151.8 L748.8,150.9 L751.2,149.8 L753.9,148.7 L757.0,147.5 L760.3,146.3 L763.9,145.1 L767.8,143.9 L771.9,142.8 L776.2,141.6 L780.9,140.6 L786.0,139.5 L791.5,138.6 L797.1,137.6 L802.8,136.6 L808.5,135.5 L814.1,134.4 L819.4,133.2 L824.6,131.9 L830.0,130.5 L835.3,129.0 L840.5,127.5 L845.6,126.0 L850.3,124.5 L854.8,123.1 L858.7,121.9 L862.1,120.8 L865.0,119.8 L867.5,119.0 L869.8,118.1 L871.9,117.4 L873.9,116.6 L876.1,115.8 L878.4,114.9 L880.8,114.0 L883.0,113.1 L885.3,112.2 L887.5,111.3 L889.8,110.4 L892.3,109.4 L895.1,108.3 L898.1,107.1 L901.4,105.8 L905.0,104.4 L908.8,103.0 L912.8,101.4 L916.9,99.9 L921.2,98.3 L925.6,96.6 L930.0,95.0 L934.7,93.3 L939.7,91.5 L944.9,89.6 L950.2,87.8 L955.5,85.9 L960.6,84.2 L965.4,82.6 L969.8,81.2 L973.8,80.1 L977.5,79.2 L981.0,78.5 L984.3,77.8 L987.5,77.2 L990.5,76.5 L993.5,75.6 L996.4,74.5 L999.3,73.1 L1002.1,71.6 L1004.8,69.9 L1007.5,68.2 L1010.0,66.4 L1012.3,64.6 L1014.4,62.8 L1016.3,61.2 L1018.0,59.6 L1019.5,57.8 L1020.8,56.1 L1021.9,54.4 L1022.9,52.8 L1023.7,51.4 L1024.4,50.2 L1025.0,49.3" fill="none" stroke="#000" stroke-width="3.4" stroke-linejoin="round" stroke-linecap="round"/>
<path d="M730.0,191.0 L730.2,189.6 L730.5,187.7 L730.9,185.4 L731.3,182.8 L731.7,180.2 L732.3,177.6 L732.8,175.2 L733.5,173.0 L734.2,171.1 L735.1,169.2 L736.0,167.3 L736.9,165.6 L737.9,163.9 L739.0,162.3 L740.0,160.9 L741.0,159.5 L741.9,158.3 L742.6,157.3 L743.3,156.4 L744.0,155.6 L744.9,154.9 L746.1,154.1 L747.6,153.2 L749.5,152.2 L751.9,151.2 L754.5,150.0 L757.5,148.8 L760.7,147.6 L764.2,146.3 L768.0,145.1 L772.0,143.9 L776.2,142.8 L780.9,141.7 L786.0,140.7 L791.4,139.7 L797.0,138.7 L802.8,137.7 L808.5,136.7 L814.1,135.6 L819.4,134.5 L824.6,133.2 L830.0,131.9 L835.3,130.5 L840.5,129.0 L845.6,127.6 L850.3,126.2 L854.8,124.9 L858.7,123.8 L862.1,122.7 L865.0,121.8 L867.5,121.0 L869.8,120.3 L871.9,119.5 L873.9,118.8 L876.1,118.1 L878.4,117.2 L880.8,116.4 L883.0,115.6 L885.3,114.8 L887.5,114.0 L889.8,113.1 L892.3,112.3 L895.1,111.3 L898.1,110.2 L901.4,109.1 L905.0,107.9 L908.8,106.7 L912.8,105.4 L916.9,104.1 L921.2,102.7 L925.6,101.3 L930.0,99.8 L934.7,98.2 L939.7,96.5 L944.9,94.7 L950.2,92.8 L955.5,91.0 L960.6,89.3 L965.4,87.8 L969.8,86.5 L973.8,85.5 L977.4,84.7 L980.7,84.1 L983.9,83.6 L987.0,83.1 L990.1,82.6 L993.2,82.0 L996.4,81.2 L999.8,80.2 L1003.4,79.2 L1007.0,78.1 L1010.5,76.9 L1014.0,75.7 L1017.3,74.4 L1020.3,73.2 L1023.0,71.9 L1025.3,70.6 L1027.4,69.4 L1029.2,68.0 L1030.8,66.7 L1032.3,65.4 L1033.6,64.0 L1034.9,62.6 L1036.2,61.2 L1037.4,59.7 L1038.6,58.0 L1039.7,56.3 L1040.7,54.6 L1041.6,52.9 L1042.3,51.5 L1043.0,50.2 L1043.5,49.3" fill="none" stroke="#000" stroke-width="3.4" stroke-linejoin="round" stroke-linecap="round"/>
<path d="M730.0,192.0 L730.3,190.6 L730.6,188.8 L731.0,186.6 L731.4,184.1 L731.9,181.6 L732.4,179.0 L733.1,176.6 L733.8,174.5 L734.5,172.6 L735.4,170.6 L736.3,168.8 L737.3,167.0 L738.3,165.3 L739.4,163.6 L740.5,162.1 L741.5,160.8 L742.4,159.6 L743.2,158.6 L743.9,157.7 L744.7,156.9 L745.7,156.2 L746.8,155.4 L748.3,154.6 L750.2,153.6 L752.6,152.5 L755.1,151.3 L758.0,150.1 L761.1,148.8 L764.5,147.5 L768.1,146.3 L772.1,145.0 L776.2,143.9 L780.8,142.8 L785.9,141.8 L791.3,140.8 L797.0,139.8 L802.7,138.9 L808.5,137.9 L814.1,136.9 L819.4,135.8 L824.6,134.6 L830.0,133.3 L835.3,131.9 L840.5,130.6 L845.6,129.2 L850.3,127.9 L854.8,126.7 L858.7,125.6 L862.1,124.7 L865.0,123.8 L867.5,123.1 L869.8,122.4 L871.9,121.7 L873.9,121.0 L876.1,120.4 L878.4,119.6 L880.8,118.9 L883.0,118.1 L885.3,117.4 L887.5,116.6 L889.8,115.9 L892.3,115.1 L895.1,114.3 L898.1,113.4 L901.4,112.5 L905.0,111.5 L908.8,110.6 L912.8,109.6 L916.9,108.6 L921.2,107.5 L925.6,106.3 L930.0,105.0 L934.7,103.5 L939.7,101.9 L944.9,100.2 L950.2,98.4 L955.5,96.6 L960.6,94.8 L965.4,93.2 L969.8,91.8 L973.7,90.5 L977.2,89.4 L980.5,88.3 L983.5,87.3 L986.5,86.4 L989.6,85.5 L992.8,84.6 L996.4,83.8 L1000.3,83.0 L1004.5,82.4 L1009.0,81.8 L1013.4,81.3 L1017.8,80.8 L1022.1,80.1 L1026.0,79.4 L1029.6,78.5 L1032.8,77.5 L1035.6,76.4 L1038.3,75.3 L1040.7,74.0 L1043.0,72.7 L1045.2,71.2 L1047.4,69.6 L1049.5,67.9 L1051.7,65.8 L1053.9,63.4 L1056.0,60.7 L1058.0,57.9 L1059.9,55.3 L1061.6,52.8 L1063.0,50.8 L1064.1,49.3" fill="none" stroke="#000" stroke-width="3.4" stroke-linejoin="round" stroke-linecap="round"/>
<path d="M730.0,193.0 L730.3,191.7 L730.6,189.9 L731.0,187.7 L731.5,185.4 L732.0,182.9 L732.6,180.4 L733.3,178.1 L734.0,176.0 L734.8,174.1 L735.7,172.1 L736.7,170.2 L737.7,168.4 L738.8,166.6 L739.8,164.9 L740.9,163.4 L742.0,162.0 L743.0,160.8 L743.8,159.8 L744.6,159.0 L745.4,158.2 L746.4,157.5 L747.6,156.8 L749.1,156.0 L751.0,155.0 L753.3,153.9 L755.8,152.7 L758.5,151.4 L761.5,150.1 L764.8,148.7 L768.3,147.4 L772.1,146.2 L776.2,145.0 L780.8,143.9 L785.9,142.9 L791.3,141.9 L796.9,141.0 L802.7,140.0 L808.5,139.1 L814.1,138.1 L819.4,137.0 L824.6,135.9 L830.0,134.6 L835.3,133.4 L840.5,132.1 L845.6,130.8 L850.3,129.6 L854.8,128.5 L858.7,127.5 L862.1,126.6 L865.0,125.8 L867.5,125.1 L869.8,124.5 L871.9,123.9 L873.9,123.3 L876.1,122.7 L878.4,122.0 L880.8,121.3 L883.0,120.6 L885.3,120.0 L887.5,119.3 L889.8,118.6 L892.3,117.9 L895.1,117.2 L898.1,116.5 L901.4,115.8 L905.0,115.2 L908.8,114.5 L912.8,113.9 L916.9,113.1 L921.2,112.4 L925.6,111.4 L930.0,110.4 L934.7,109.2 L939.7,107.8 L944.9,106.2 L950.2,104.6 L955.5,103.0 L960.6,101.3 L965.4,99.8 L969.8,98.4 L973.8,97.1 L977.4,95.8 L980.7,94.6 L983.9,93.4 L987.0,92.3 L990.1,91.2 L993.2,90.1 L996.4,89.1 L999.7,88.1 L1003.1,87.2 L1006.4,86.3 L1009.7,85.4 L1013.0,84.6 L1016.4,83.8 L1019.7,83.1 L1023.0,82.5 L1026.4,82.0 L1029.8,81.7 L1033.2,81.4 L1036.7,81.2 L1040.1,81.0 L1043.3,80.7 L1046.5,80.4 L1049.5,79.8 L1052.3,79.1 L1055.1,78.3 L1057.7,77.4 L1060.3,76.4 L1062.7,75.4 L1065.0,74.3 L1067.3,73.1 L1069.4,71.9 L1071.4,70.6 L1073.4,69.2 L1075.2,67.6 L1077.0,66.1 L1078.6,64.5 L1080.1,62.9 L1081.5,61.4 L1082.7,59.9 L1083.8,58.4 L1084.7,56.9 L1085.5,55.4 L1086.2,53.9 L1086.8,52.4 L1087.2,51.2 L1087.6,50.1 L1088.0,49.3" fill="none" stroke="#000" stroke-width="3.4" stroke-linejoin="round" stroke-linecap="round"/>
<path d="M729.4,365.0 L731.4,365.5 L733.4,366.0 L735.4,366.5 L737.4,367.0 L739.4,367.5 L741.4,368.0 L743.4,368.5 L745.4,369.0 L747.4,369.6 L749.3,370.1 L751.3,370.6 L753.3,371.1 L755.3,371.6 L757.3,372.1 L759.3,372.6 L761.3,373.1 L763.3,373.6 L765.3,374.1 L767.3,374.6 L769.3,375.2 L771.3,375.7 L773.3,376.2 L775.2,376.7 L777.2,377.3 L779.2,377.8 L781.2,378.4 L783.2,378.9 L785.2,379.5 L787.1,380.1 L789.1,380.7 L791.0,381.3 L793.0,382.0 L795.0,382.5 L797.0,383.1 L798.9,383.7 L800.9,384.3 L802.9,384.8 L804.9,385.4 L806.8,386.0 L808.8,386.5 L810.8,387.1 L812.8,387.7 L814.8,388.2 L816.7,388.8 L818.7,389.4 L820.7,389.9 L822.7,390.5 L824.7,391.1 L826.6,391.6 L828.6,392.2 L830.6,392.7 L832.6,393.3 L834.6,393.8 L836.5,394.4 L838.5,394.9 L840.5,395.5 L842.5,396.0 L844.5,396.5 L846.5,397.1 L848.5,397.6 L850.5,398.1 L852.4,398.6 L854.4,399.1 L856.4,399.6 L858.4,400.1 L860.4,400.5 L862.5,401.0 L864.5,401.5 L866.5,401.9 L868.5,402.4 L870.5,402.8 L872.5,403.3 L874.5,403.7 L876.5,404.2 L878.5,404.6 L880.5,405.1 L882.5,405.5 L884.5,406.0 L886.5,406.5 L888.5,407.0 L890.5,407.5 L892.5,408.0 L894.5,408.5 L896.5,409.1 L898.5,409.6 L900.5,410.1 L902.4,410.7 L904.4,411.3 L906.4,411.9 L908.4,412.5 L910.3,413.1 L912.3,413.7 L914.3,414.3 L916.2,414.9 L918.2,415.5 L920.2,416.1 L922.1,416.7 L924.1,417.4 L926.0,418.0 L928.0,418.6 L930.0,419.2 L931.9,419.9 L933.9,420.5 L935.8,421.2 L937.8,421.8 L939.7,422.4 L941.7,423.1 L943.6,423.7 L945.6,424.3 L947.6,425.0 L949.5,425.6 L951.5,426.3 L953.4,426.9 L955.4,427.5 L957.3,428.2 L959.3,428.8 L961.3,429.4 L963.2,430.0 L965.2,430.6 L967.2,431.2 L969.2,431.7 L971.1,432.3 L973.1,432.8 L975.1,433.4 L977.1,434.0 L979.0,434.6 L981.0,435.3 L982.9,436.1 L984.8,436.8 L986.7,437.6 L988.6,438.3 L990.6,439.0 L992.5,439.8 L994.4,440.6 L996.3,441.3 L998.2,442.2 L1000.1,443.0 L1001.9,443.9 L1003.8,444.8 L1005.6,445.7 L1007.4,446.7 L1009.2,447.8 L1010.9,448.9 L1012.6,450.0 L1014.3,451.2 L1015.9,452.4 L1017.6,453.7 L1019.2,454.9 L1020.8,456.2 L1022.4,457.6 L1023.9,459.0 L1025.3,460.4 L1026.8,461.9 L1028.2,463.4 L1029.5,465.0 L1030.8,466.6 L1032.1,468.2 L1033.3,469.8 L1034.4,471.5 L1035.6,473.3 L1036.7,475.0 L1037.7,476.8 L1038.8,478.5 L1039.8,480.3 L1040.7,482.2 L1041.7,484.0 L1042.6,485.8 L1043.6,487.6 L1044.5,489.5 L1045.4,491.3 L1046.2,493.2 L1047.1,495.1 L1048.0,496.9 L1048.8,498.8 L1049.7,500.7 L1050.5,502.6 L1051.3,504.5 L1052.1,506.4 L1052.9,508.3 L1053.7,510.2 L1054.4,512.1 L1055.1,514.0 L1055.9,515.9 L1056.5,517.9 L1057.2,519.8 L1057.8,521.8 L1058.4,523.8 L1059.0,525.7 L1059.6,527.7 L1060.2,529.7 L1060.8,531.6 L1061.3,533.6 L1061.9,535.6 L1062.4,537.6 L1063.0,539.6 L1063.5,541.6 L1064.1,543.5 L1064.6,545.5 L1065.2,547.5" fill="none" stroke="#000" stroke-width="3.4" stroke-linejoin="round" stroke-linecap="round"/>
<path d="M729.4,362.5 L731.5,363.0 L733.5,363.5 L735.6,364.1 L737.6,364.6 L739.7,365.1 L741.7,365.6 L743.8,366.2 L745.9,366.7 L747.9,367.2 L750.0,367.7 L752.0,368.2 L754.1,368.8 L756.1,369.3 L758.2,369.8 L760.3,370.3 L762.3,370.9 L764.4,371.4 L766.4,371.9 L768.5,372.5 L770.5,373.0 L772.6,373.5 L774.6,374.1 L776.7,374.6 L778.8,375.2 L780.8,375.7 L782.8,376.3 L784.9,376.9 L786.9,377.5 L789.0,378.1 L791.0,378.7 L793.0,379.3 L795.1,379.9 L797.1,380.5 L799.1,381.1 L801.2,381.7 L803.2,382.3 L805.3,382.8 L807.3,383.4 L809.3,384.0 L811.4,384.6 L813.4,385.1 L815.5,385.7 L817.5,386.3 L819.6,386.9 L821.6,387.5 L823.7,388.0 L825.7,388.6 L827.7,389.2 L829.8,389.7 L831.8,390.3 L833.9,390.9 L835.9,391.4 L838.0,392.0 L840.0,392.6 L842.1,393.1 L844.1,393.7 L846.2,394.2 L848.2,394.8 L850.3,395.3 L852.3,395.9 L854.4,396.4 L856.4,396.9 L858.5,397.4 L860.6,397.9 L862.6,398.4 L864.7,398.9 L866.7,399.4 L868.8,399.9 L870.9,400.4 L872.9,400.9 L875.0,401.4 L877.1,401.9 L879.2,402.3 L881.2,402.8 L883.3,403.3 L885.3,403.8 L887.4,404.3 L889.5,404.8 L891.5,405.3 L893.6,405.8 L895.6,406.4 L897.7,406.9 L899.8,407.4 L901.8,408.0 L903.9,408.5 L905.9,409.1 L907.9,409.7 L910.0,410.3 L912.0,410.9 L914.1,411.5 L916.1,412.1 L918.1,412.7 L920.2,413.3 L922.2,413.9 L924.2,414.5 L926.3,415.1 L928.3,415.7 L930.3,416.3 L932.4,416.9 L934.4,417.6 L936.4,418.2 L938.5,418.8 L940.5,419.4 L942.5,420.0 L944.6,420.6 L946.6,421.2 L948.6,421.8 L950.7,422.4 L952.7,423.0 L954.7,423.6 L956.8,424.1 L958.8,424.7 L960.9,425.3 L962.9,425.8 L964.9,426.4 L967.0,427.0 L969.0,427.5 L971.1,428.1 L973.1,428.7 L975.2,429.2 L977.2,429.8 L979.3,430.3 L981.3,430.8 L983.4,431.4 L985.4,431.9 L987.4,432.5 L989.5,433.2 L991.5,433.8 L993.5,434.5 L995.5,435.2 L997.5,435.9 L999.5,436.6 L1001.5,437.3 L1003.5,438.1 L1005.4,438.8 L1007.4,439.7 L1009.4,440.5 L1011.3,441.4 L1013.2,442.3 L1015.1,443.3 L1017.0,444.3 L1018.8,445.3 L1020.6,446.4 L1022.4,447.6 L1024.2,448.8 L1025.9,450.0 L1027.6,451.2 L1029.3,452.5 L1031.0,453.8 L1032.6,455.1 L1034.2,456.5 L1035.8,458.0 L1037.3,459.4 L1038.8,461.0 L1040.2,462.5 L1041.6,464.1 L1043.0,465.8 L1044.3,467.4 L1045.5,469.1 L1046.7,470.9 L1047.9,472.6 L1049.0,474.4 L1050.1,476.2 L1051.2,478.1 L1052.2,479.9 L1053.3,481.8 L1054.3,483.7 L1055.2,485.6 L1056.2,487.5 L1057.1,489.4 L1058.0,491.3 L1058.9,493.2 L1059.8,495.1 L1060.7,497.1 L1061.5,499.0 L1062.4,501.0 L1063.2,502.9 L1064.0,504.9 L1064.8,506.9 L1065.6,508.8 L1066.3,510.8 L1067.0,512.8 L1067.7,514.8 L1068.4,516.8 L1069.0,518.9 L1069.7,520.9 L1070.3,522.9 L1070.9,525.0 L1071.5,527.0 L1072.0,529.0 L1072.6,531.1 L1073.1,533.1 L1073.7,535.2 L1074.2,537.2 L1074.7,539.3 L1075.3,541.4 L1075.8,543.4 L1076.4,545.5 L1076.9,547.5" fill="none" stroke="#000" stroke-width="3.4" stroke-linejoin="round" stroke-linecap="round"/>
<path d="M729.4,360.0 L731.5,360.5 L733.6,361.1 L735.8,361.6 L737.9,362.2 L740.0,362.7 L742.1,363.2 L744.2,363.8 L746.4,364.3 L748.5,364.9 L750.6,365.4 L752.7,365.9 L754.9,366.5 L757.0,367.0 L759.1,367.6 L761.2,368.1 L763.3,368.6 L765.5,369.2 L767.6,369.7 L769.7,370.3 L771.8,370.8 L773.9,371.4 L776.0,371.9 L778.2,372.5 L780.3,373.1 L782.4,373.7 L784.5,374.2 L786.6,374.8 L788.7,375.4 L790.8,376.1 L792.9,376.7 L795.0,377.3 L797.1,377.9 L799.2,378.5 L801.3,379.1 L803.4,379.7 L805.5,380.3 L807.6,380.8 L809.7,381.4 L811.9,382.0 L814.0,382.6 L816.1,383.2 L818.2,383.8 L820.3,384.4 L822.4,385.0 L824.5,385.5 L826.6,386.1 L828.7,386.7 L830.8,387.3 L832.9,387.9 L835.0,388.5 L837.2,389.0 L839.3,389.6 L841.4,390.2 L843.5,390.7 L845.6,391.3 L847.7,391.9 L849.8,392.4 L852.0,393.0 L854.1,393.6 L856.2,394.1 L858.3,394.7 L860.4,395.2 L862.5,395.7 L864.7,396.3 L866.8,396.8 L868.9,397.3 L871.0,397.9 L873.2,398.4 L875.3,398.9 L877.4,399.4 L879.5,399.9 L881.7,400.4 L883.8,401.0 L885.9,401.5 L888.1,402.0 L890.2,402.5 L892.3,403.1 L894.4,403.6 L896.5,404.1 L898.7,404.7 L900.8,405.2 L902.9,405.8 L905.0,406.3 L907.1,406.9 L909.2,407.5 L911.3,408.1 L913.4,408.7 L915.6,409.3 L917.7,409.9 L919.8,410.5 L921.9,411.1 L924.0,411.7 L926.1,412.3 L928.2,412.9 L930.3,413.5 L932.4,414.1 L934.5,414.7 L936.6,415.3 L938.7,415.9 L940.8,416.5 L942.9,417.1 L945.0,417.7 L947.1,418.3 L949.2,418.9 L951.3,419.4 L953.4,420.0 L955.6,420.5 L957.7,421.1 L959.8,421.6 L961.9,422.1 L964.0,422.6 L966.2,423.1 L968.3,423.6 L970.4,424.1 L972.5,424.7 L974.6,425.2 L976.8,425.7 L978.9,426.2 L981.0,426.8 L983.1,427.3 L985.2,427.8 L987.4,428.3 L989.5,428.8 L991.6,429.3 L993.8,429.9 L995.9,430.4 L998.0,431.0 L1000.1,431.6 L1002.2,432.2 L1004.2,432.9 L1006.3,433.5 L1008.4,434.2 L1010.5,434.9 L1012.5,435.6 L1014.6,436.4 L1016.6,437.2 L1018.7,438.0 L1020.7,438.9 L1022.6,439.8 L1024.6,440.8 L1026.5,441.8 L1028.4,442.9 L1030.3,444.0 L1032.2,445.1 L1034.0,446.3 L1035.9,447.5 L1037.7,448.8 L1039.4,450.0 L1041.2,451.3 L1042.9,452.7 L1044.6,454.1 L1046.2,455.5 L1047.8,457.0 L1049.4,458.5 L1050.9,460.1 L1052.4,461.7 L1053.9,463.3 L1055.3,465.0 L1056.6,466.7 L1057.9,468.5 L1059.1,470.3 L1060.4,472.1 L1061.5,473.9 L1062.7,475.8 L1063.8,477.7 L1064.8,479.6 L1065.9,481.5 L1066.9,483.5 L1067.9,485.4 L1068.9,487.4 L1069.8,489.4 L1070.7,491.3 L1071.6,493.3 L1072.5,495.3 L1073.4,497.3 L1074.3,499.3 L1075.1,501.4 L1075.9,503.4 L1076.7,505.4 L1077.5,507.5 L1078.2,509.5 L1078.9,511.6 L1079.6,513.7 L1080.3,515.8 L1080.9,517.9 L1081.5,520.0 L1082.1,522.1 L1082.7,524.2 L1083.3,526.3 L1083.8,528.4 L1084.4,530.5 L1084.9,532.6 L1085.4,534.8 L1086.0,536.9 L1086.5,539.0 L1087.0,541.1 L1087.5,543.3 L1088.1,545.4 L1088.7,547.5" fill="none" stroke="#000" stroke-width="3.4" stroke-linejoin="round" stroke-linecap="round"/>
<path d="M729.4,357.5 L731.6,358.1 L733.8,358.6 L736.0,359.2 L738.1,359.7 L740.3,360.3 L742.5,360.8 L744.7,361.4 L746.9,361.9 L749.1,362.5 L751.2,363.1 L753.4,363.6 L755.6,364.2 L757.8,364.7 L760.0,365.3 L762.2,365.9 L764.3,366.4 L766.5,367.0 L768.7,367.5 L770.9,368.1 L773.1,368.7 L775.3,369.2 L777.4,369.8 L779.6,370.4 L781.8,371.0 L784.0,371.6 L786.1,372.2 L788.3,372.8 L790.5,373.4 L792.6,374.0 L794.8,374.6 L797.0,375.2 L799.1,375.9 L801.3,376.5 L803.5,377.1 L805.7,377.7 L807.8,378.3 L810.0,378.9 L812.2,379.5 L814.4,380.0 L816.5,380.6 L818.7,381.2 L820.9,381.8 L823.0,382.4 L825.2,383.0 L827.4,383.6 L829.6,384.2 L831.7,384.8 L833.9,385.4 L836.1,386.0 L838.3,386.6 L840.4,387.2 L842.6,387.8 L844.8,388.3 L847.0,388.9 L849.2,389.5 L851.3,390.1 L853.5,390.7 L855.7,391.2 L857.9,391.8 L860.0,392.4 L862.2,392.9 L864.4,393.5 L866.6,394.1 L868.8,394.6 L871.0,395.2 L873.2,395.7 L875.3,396.3 L877.5,396.8 L879.7,397.4 L881.9,397.9 L884.1,398.5 L886.3,399.0 L888.5,399.6 L890.6,400.1 L892.8,400.7 L895.0,401.2 L897.2,401.8 L899.4,402.4 L901.5,402.9 L903.7,403.5 L905.9,404.1 L908.1,404.7 L910.3,405.3 L912.4,405.9 L914.6,406.5 L916.8,407.0 L919.0,407.7 L921.1,408.3 L923.3,408.9 L925.5,409.5 L927.6,410.1 L929.8,410.7 L932.0,411.3 L934.1,411.9 L936.3,412.5 L938.5,413.1 L940.7,413.7 L942.8,414.3 L945.0,414.9 L947.2,415.5 L949.4,416.0 L951.5,416.6 L953.7,417.2 L955.9,417.7 L958.1,418.3 L960.3,418.8 L962.5,419.3 L964.7,419.8 L966.9,420.2 L969.1,420.7 L971.3,421.1 L973.5,421.6 L975.7,422.0 L977.9,422.5 L980.1,422.9 L982.3,423.4 L984.5,423.9 L986.7,424.4 L988.9,424.9 L991.1,425.4 L993.3,425.9 L995.5,426.4 L997.7,426.8 L999.9,427.3 L1002.1,427.8 L1004.3,428.3 L1006.5,428.8 L1008.7,429.4 L1010.8,429.9 L1013.0,430.5 L1015.2,431.1 L1017.3,431.8 L1019.5,432.4 L1021.6,433.1 L1023.8,433.9 L1025.9,434.7 L1027.9,435.5 L1030.0,436.4 L1032.1,437.4 L1034.1,438.4 L1036.1,439.4 L1038.1,440.5 L1040.0,441.5 L1042.0,442.7 L1043.9,443.9 L1045.8,445.1 L1047.7,446.3 L1049.6,447.6 L1051.4,448.9 L1053.2,450.2 L1054.9,451.6 L1056.7,453.1 L1058.4,454.5 L1060.0,456.1 L1061.7,457.6 L1063.2,459.2 L1064.8,460.9 L1066.2,462.6 L1067.7,464.3 L1069.1,466.1 L1070.4,467.9 L1071.7,469.8 L1072.9,471.6 L1074.1,473.6 L1075.3,475.5 L1076.4,477.4 L1077.5,479.4 L1078.6,481.4 L1079.6,483.4 L1080.6,485.4 L1081.6,487.4 L1082.5,489.5 L1083.5,491.5 L1084.4,493.6 L1085.3,495.7 L1086.2,497.7 L1087.0,499.8 L1087.9,501.9 L1088.6,504.0 L1089.4,506.1 L1090.1,508.3 L1090.8,510.4 L1091.5,512.6 L1092.1,514.7 L1092.8,516.9 L1093.4,519.1 L1094.0,521.2 L1094.5,523.4 L1095.1,525.6 L1095.6,527.8 L1096.2,530.0 L1096.7,532.2 L1097.2,534.4 L1097.7,536.5 L1098.2,538.7 L1098.8,540.9 L1099.3,543.1 L1099.8,545.3 L1100.4,547.5" fill="none" stroke="#000" stroke-width="3.4" stroke-linejoin="round" stroke-linecap="round"/>
<path d="M729.4,355.0 L731.6,355.6 L733.9,356.1 L736.1,356.7 L738.4,357.3 L740.6,357.9 L742.9,358.4 L745.1,359.0 L747.4,359.6 L749.6,360.2 L751.9,360.7 L754.1,361.3 L756.4,361.9 L758.6,362.5 L760.9,363.0 L763.1,363.6 L765.4,364.2 L767.6,364.8 L769.8,365.3 L772.1,365.9 L774.3,366.5 L776.6,367.1 L778.8,367.7 L781.1,368.3 L783.3,368.9 L785.5,369.5 L787.8,370.1 L790.0,370.7 L792.2,371.4 L794.5,372.0 L796.7,372.6 L799.0,373.2 L801.2,373.8 L803.4,374.4 L805.7,375.0 L807.9,375.6 L810.1,376.3 L812.4,376.9 L814.6,377.5 L816.9,378.1 L819.1,378.7 L821.3,379.3 L823.6,379.9 L825.8,380.5 L828.0,381.1 L830.3,381.7 L832.5,382.3 L834.8,382.9 L837.0,383.5 L839.2,384.1 L841.5,384.7 L843.7,385.3 L846.0,385.9 L848.2,386.5 L850.4,387.1 L852.7,387.7 L854.9,388.3 L857.2,388.9 L859.4,389.5 L861.7,390.1 L863.9,390.6 L866.2,391.2 L868.4,391.8 L870.6,392.4 L872.9,393.0 L875.1,393.5 L877.4,394.1 L879.6,394.7 L881.9,395.3 L884.1,395.9 L886.4,396.4 L888.6,397.0 L890.9,397.6 L893.1,398.2 L895.3,398.8 L897.6,399.4 L899.8,400.0 L902.1,400.6 L904.3,401.2 L906.6,401.8 L908.8,402.4 L911.0,403.0 L913.3,403.6 L915.5,404.2 L917.7,404.8 L920.0,405.4 L922.2,406.0 L924.5,406.6 L926.7,407.2 L928.9,407.9 L931.2,408.5 L933.4,409.1 L935.6,409.7 L937.9,410.3 L940.1,410.9 L942.4,411.5 L944.6,412.1 L946.8,412.7 L949.1,413.3 L951.3,413.8 L953.6,414.4 L955.8,415.0 L958.1,415.5 L960.3,416.1 L962.6,416.6 L964.9,417.1 L967.1,417.6 L969.4,418.0 L971.7,418.5 L974.0,418.9 L976.3,419.3 L978.5,419.6 L980.8,420.0 L983.1,420.4 L985.4,420.8 L987.7,421.2 L990.0,421.6 L992.3,422.0 L994.5,422.5 L996.8,423.0 L999.1,423.5 L1001.3,423.9 L1003.6,424.4 L1005.9,424.9 L1008.2,425.3 L1010.4,425.7 L1012.7,426.2 L1015.0,426.7 L1017.2,427.1 L1019.5,427.7 L1021.8,428.2 L1024.0,428.7 L1026.3,429.3 L1028.5,430.0 L1030.7,430.7 L1032.9,431.4 L1035.1,432.2 L1037.2,433.0 L1039.4,433.9 L1041.5,434.9 L1043.6,435.9 L1045.7,436.9 L1047.7,438.0 L1049.8,439.1 L1051.8,440.2 L1053.8,441.4 L1055.8,442.6 L1057.7,443.9 L1059.7,445.1 L1061.6,446.4 L1063.5,447.8 L1065.3,449.2 L1067.1,450.6 L1068.9,452.1 L1070.7,453.6 L1072.4,455.2 L1074.0,456.8 L1075.7,458.5 L1077.2,460.2 L1078.7,461.9 L1080.2,463.7 L1081.6,465.6 L1083.0,467.4 L1084.3,469.3 L1085.6,471.3 L1086.8,473.3 L1088.0,475.3 L1089.1,477.3 L1090.2,479.3 L1091.3,481.4 L1092.3,483.4 L1093.3,485.5 L1094.3,487.6 L1095.3,489.7 L1096.2,491.8 L1097.2,494.0 L1098.1,496.1 L1098.9,498.3 L1099.8,500.4 L1100.6,502.6 L1101.4,504.8 L1102.1,507.0 L1102.7,509.2 L1103.4,511.4 L1104.0,513.7 L1104.6,515.9 L1105.2,518.1 L1105.8,520.4 L1106.4,522.6 L1106.9,524.9 L1107.4,527.2 L1108.0,529.4 L1108.5,531.7 L1109.0,533.9 L1109.5,536.2 L1110.0,538.5 L1110.5,540.7 L1111.0,543.0 L1111.6,545.2 L1112.1,547.5" fill="none" stroke="#000" stroke-width="3.4" stroke-linejoin="round" stroke-linecap="round"/>
<path d="M729.4,470.0 L729.5,468.1 L729.6,466.1 L729.6,464.2 L729.7,462.2 L729.8,460.3 L730.0,458.3 L730.3,456.4 L730.6,454.5 L731.1,452.6 L731.6,450.7 L732.3,448.9 L733.1,447.1 L734.1,445.4 L735.2,443.8 L736.4,442.3 L737.8,440.9 L739.2,439.5 L740.7,438.3 L742.2,437.1 L743.8,435.9 L745.3,434.7 L746.9,433.5 L748.3,432.2 L749.9,431.1 L751.7,430.2 L753.4,429.4 L755.3,428.7 L757.1,428.1 L759.0,427.6 L760.9,427.0 L762.8,426.5 L764.7,426.1 L766.5,425.6 L768.4,425.1 L770.3,424.7 L772.2,424.3 L774.1,423.8 L776.1,423.4 L778.0,423.0 L779.9,422.5 L781.8,422.1 L783.7,421.7 L785.6,421.3 L787.5,420.9 L789.4,420.4 L791.3,420.0 L793.2,419.6 L795.1,419.1 L797.0,418.7 L798.9,418.3 L800.8,417.8 L802.7,417.3 L804.6,416.9 L806.5,416.4 L808.4,415.9 L810.3,415.5 L812.2,415.0 L814.1,414.5 L815.9,414.0 L817.8,413.5 L819.7,413.1 L821.6,412.6 L823.5,412.1 L825.4,411.6 L827.3,411.2 L829.2,410.7 L831.1,410.2 L833.0,409.8 L834.9,409.3 L836.8,408.9 L838.7,408.4 L840.6,408.0 L842.5,407.6 L844.4,407.2 L846.3,406.8 L848.2,406.4 L850.1,406.0 L852.1,405.6 L854.0,405.3 L855.9,405.0 L857.8,404.7 L859.8,404.4 L861.7,404.1 L863.6,403.8 L865.6,403.6 L867.5,403.4 L869.4,403.1 L871.4,402.9 L873.3,402.7 L875.2,402.4 L877.2,402.2 L879.1,401.9 L881.1,401.7 L883.0,401.4 L884.9,401.2 L886.9,400.9 L888.8,400.6 L890.7,400.3 L892.6,399.9 L894.5,399.6 L896.5,399.2 L898.4,398.8 L900.3,398.4 L902.2,398.0 L904.1,397.6 L906.0,397.1 L907.9,396.7 L909.8,396.2 L911.7,395.7 L913.6,395.3 L915.5,394.8 L917.4,394.3 L919.2,393.8 L921.1,393.3 L923.0,392.8 L924.9,392.3 L926.8,391.8 L928.7,391.3 L930.6,390.8 L932.4,390.3 L934.3,389.7 L936.2,389.2 L938.1,388.7 L939.9,388.1 L941.8,387.6 L943.7,387.0 L945.6,386.5 L947.4,385.9 L949.3,385.3 L951.2,384.8 L953.0,384.2 L954.9,383.6 L956.8,383.0 L958.6,382.4 L960.5,381.8 L962.3,381.2 L964.2,380.6 L966.0,379.9 L967.8,379.3 L969.7,378.6 L971.5,377.9 L973.3,377.1 L975.1,376.4 L976.9,375.6 L978.7,374.9 L980.5,374.1 L982.3,373.3 L984.0,372.5 L985.8,371.7 L987.6,370.9 L989.4,370.1 L991.2,369.4 L993.0,368.6 L994.8,367.9 L996.6,367.1 L998.4,366.4 L1000.2,365.7 L1002.1,365.0 L1003.9,364.3 L1005.7,363.7 L1007.5,363.0 L1009.4,362.3 L1011.2,361.6 L1013.0,361.0 L1014.9,360.3 L1016.7,359.6 L1018.5,358.9 L1020.4,358.3 L1022.2,357.6 L1024.0,356.9 L1025.9,356.2 L1027.7,355.5 L1029.5,354.8 L1031.3,354.1 L1033.1,353.4 L1034.9,352.7 L1036.7,351.9 L1038.5,351.1 L1040.3,350.3 L1042.0,349.4 L1043.7,348.5 L1045.4,347.5 L1047.0,346.4 L1048.5,345.1 L1050.0,343.8 L1051.3,342.4 L1052.6,341.0 L1054.0,339.6 L1055.4,338.2 L1056.7,336.8 L1058.0,335.3 L1059.3,333.8 L1060.6,332.3 L1061.8,330.8 L1063.1,329.3 L1064.3,327.8 L1065.5,326.3 L1066.8,324.8 L1068.0,323.3" fill="none" stroke="#000" stroke-width="3.4" stroke-linejoin="round" stroke-linecap="round"/>
<path d="M729.4,475.0 L729.5,473.0 L729.6,471.0 L729.7,468.9 L729.8,466.9 L729.9,464.9 L730.0,462.9 L730.3,460.8 L730.6,458.8 L731.0,456.9 L731.5,454.9 L732.1,453.0 L732.8,451.1 L733.7,449.3 L734.7,447.5 L735.8,445.9 L737.0,444.3 L738.3,442.8 L739.7,441.4 L741.2,440.0 L742.7,438.7 L744.3,437.4 L745.8,436.1 L747.3,434.7 L749.0,433.5 L750.7,432.5 L752.5,431.6 L754.3,430.7 L756.2,430.0 L758.1,429.4 L760.1,428.8 L762.0,428.3 L764.0,427.8 L765.9,427.3 L767.9,426.8 L769.9,426.3 L771.9,425.9 L773.8,425.4 L775.8,425.0 L777.8,424.5 L779.8,424.1 L781.7,423.6 L783.7,423.2 L785.7,422.8 L787.7,422.3 L789.7,421.9 L791.6,421.4 L793.6,421.0 L795.6,420.5 L797.6,420.1 L799.5,419.6 L801.5,419.1 L803.5,418.7 L805.4,418.2 L807.4,417.7 L809.4,417.2 L811.3,416.7 L813.3,416.2 L815.3,415.7 L817.2,415.2 L819.2,414.7 L821.2,414.2 L823.1,413.8 L825.1,413.3 L827.1,412.8 L829.0,412.3 L831.0,411.8 L833.0,411.4 L835.0,410.9 L836.9,410.4 L838.9,410.0 L840.9,409.6 L842.9,409.1 L844.8,408.7 L846.8,408.3 L848.8,407.9 L850.8,407.6 L852.8,407.2 L854.8,406.9 L856.8,406.6 L858.8,406.3 L860.8,406.0 L862.8,405.7 L864.8,405.5 L866.8,405.2 L868.9,405.0 L870.9,404.7 L872.9,404.5 L874.9,404.2 L876.9,404.0 L878.9,403.7 L880.9,403.5 L882.9,403.2 L884.9,402.9 L886.9,402.6 L888.9,402.3 L890.9,402.0 L892.9,401.6 L894.9,401.3 L896.9,400.9 L898.9,400.5 L900.9,400.1 L902.9,399.7 L904.9,399.3 L906.8,398.8 L908.8,398.3 L910.8,397.9 L912.7,397.4 L914.7,396.9 L916.7,396.4 L918.6,395.9 L920.6,395.4 L922.6,394.9 L924.5,394.4 L926.5,393.9 L928.4,393.3 L930.4,392.8 L932.3,392.2 L934.3,391.7 L936.2,391.1 L938.2,390.6 L940.1,390.0 L942.1,389.4 L944.0,388.8 L945.9,388.2 L947.9,387.6 L949.8,387.0 L951.7,386.3 L953.6,385.7 L955.5,385.0 L957.4,384.3 L959.3,383.6 L961.2,382.9 L963.1,382.2 L965.0,381.5 L966.9,380.8 L968.8,380.1 L970.7,379.4 L972.6,378.7 L974.5,377.9 L976.4,377.2 L978.3,376.5 L980.2,375.8 L982.0,375.1 L983.9,374.3 L985.8,373.6 L987.7,372.8 L989.6,372.1 L991.4,371.3 L993.3,370.6 L995.2,369.8 L997.1,369.1 L999.0,368.3 L1000.9,367.6 L1002.8,366.9 L1004.7,366.2 L1006.6,365.5 L1008.5,364.9 L1010.4,364.2 L1012.3,363.5 L1014.2,362.9 L1016.1,362.2 L1018.1,361.6 L1020.0,361.0 L1021.9,360.3 L1023.8,359.7 L1025.7,359.0 L1027.7,358.4 L1029.6,357.8 L1031.5,357.1 L1033.4,356.5 L1035.3,355.9 L1037.3,355.2 L1039.2,354.6 L1041.1,354.0 L1043.0,353.4 L1044.9,352.7 L1046.8,352.0 L1048.7,351.3 L1050.6,350.5 L1052.4,349.7 L1054.2,348.9 L1056.0,347.9 L1057.8,346.9 L1059.4,345.7 L1061.0,344.5 L1062.4,343.1 L1063.9,341.7 L1065.4,340.3 L1066.8,338.9 L1068.2,337.4 L1069.5,335.9 L1070.9,334.3 L1072.2,332.8 L1073.4,331.2 L1074.7,329.6 L1076.0,328.1 L1077.2,326.5 L1078.5,324.9 L1079.8,323.3" fill="none" stroke="#000" stroke-width="3.4" stroke-linejoin="round" stroke-linecap="round"/>
<path d="M729.4,480.0 L729.5,477.9 L729.6,475.8 L729.7,473.7 L729.8,471.6 L729.9,469.5 L730.1,467.4 L730.3,465.3 L730.6,463.2 L730.9,461.2 L731.4,459.1 L731.9,457.1 L732.5,455.1 L733.3,453.2 L734.1,451.3 L735.1,449.5 L736.2,447.7 L737.4,446.0 L738.8,444.4 L740.2,442.9 L741.7,441.5 L743.2,440.0 L744.8,438.6 L746.3,437.2 L748.0,436.0 L749.7,434.8 L751.5,433.7 L753.3,432.7 L755.3,431.9 L757.3,431.3 L759.3,430.6 L761.3,430.0 L763.3,429.5 L765.4,429.0 L767.4,428.5 L769.4,428.0 L771.5,427.5 L773.5,427.0 L775.6,426.5 L777.6,426.1 L779.7,425.6 L781.7,425.1 L783.8,424.7 L785.8,424.2 L787.9,423.8 L789.9,423.3 L792.0,422.8 L794.0,422.4 L796.1,421.9 L798.1,421.4 L800.2,421.0 L802.2,420.5 L804.3,420.0 L806.3,419.5 L808.3,419.0 L810.4,418.5 L812.4,418.0 L814.5,417.5 L816.5,416.9 L818.5,416.4 L820.6,415.9 L822.6,415.4 L824.7,414.9 L826.7,414.4 L828.7,413.9 L830.8,413.5 L832.8,413.0 L834.9,412.5 L836.9,412.0 L839.0,411.6 L841.0,411.1 L843.1,410.7 L845.1,410.3 L847.2,409.9 L849.3,409.5 L851.3,409.1 L853.4,408.8 L855.5,408.5 L857.6,408.1 L859.6,407.9 L861.7,407.6 L863.8,407.3 L865.9,407.1 L868.0,406.8 L870.1,406.6 L872.2,406.3 L874.2,406.1 L876.3,405.9 L878.4,405.6 L880.5,405.4 L882.6,405.1 L884.7,404.8 L886.7,404.5 L888.8,404.2 L890.9,403.8 L893.0,403.5 L895.0,403.1 L897.1,402.7 L899.2,402.3 L901.2,401.9 L903.3,401.5 L905.3,401.0 L907.4,400.6 L909.4,400.1 L911.5,399.6 L913.5,399.1 L915.6,398.6 L917.6,398.1 L919.6,397.6 L921.7,397.1 L923.7,396.6 L925.7,396.0 L927.8,395.5 L929.8,394.9 L931.8,394.4 L933.8,393.8 L935.9,393.2 L937.9,392.7 L939.9,392.1 L941.9,391.5 L943.9,390.9 L945.9,390.3 L948.0,389.6 L949.9,389.0 L951.9,388.3 L953.9,387.6 L955.9,386.9 L957.9,386.2 L959.8,385.4 L961.7,384.6 L963.7,383.8 L965.6,383.0 L967.5,382.2 L969.4,381.3 L971.4,380.5 L973.3,379.7 L975.2,378.9 L977.2,378.1 L979.1,377.4 L981.1,376.6 L983.1,375.9 L985.0,375.1 L987.0,374.4 L989.0,373.7 L991.0,373.0 L992.9,372.3 L994.9,371.5 L996.9,370.8 L998.8,370.1 L1000.8,369.4 L1002.8,368.7 L1004.8,368.0 L1006.8,367.3 L1008.7,366.6 L1010.7,366.0 L1012.7,365.3 L1014.7,364.7 L1016.7,364.0 L1018.7,363.4 L1020.7,362.8 L1022.7,362.1 L1024.7,361.5 L1026.7,360.9 L1028.7,360.3 L1030.7,359.7 L1032.7,359.1 L1034.8,358.4 L1036.8,357.8 L1038.8,357.2 L1040.8,356.6 L1042.8,356.1 L1044.8,355.5 L1046.8,355.0 L1048.9,354.4 L1050.9,353.9 L1052.9,353.3 L1054.9,352.8 L1056.9,352.2 L1058.9,351.5 L1060.9,350.8 L1062.8,350.1 L1064.7,349.2 L1066.6,348.4 L1068.5,347.4 L1070.3,346.3 L1072.0,345.1 L1073.6,343.8 L1075.2,342.5 L1076.7,341.1 L1078.2,339.6 L1079.7,338.0 L1081.1,336.5 L1082.4,334.9 L1083.7,333.2 L1085.1,331.6 L1086.3,329.9 L1087.6,328.3 L1088.9,326.6 L1090.2,324.9 L1091.5,323.3" fill="none" stroke="#000" stroke-width="3.4" stroke-linejoin="round" stroke-linecap="round"/>
<path d="M729.4,485.0 L729.5,482.8 L729.6,480.7 L729.7,478.5 L729.8,476.3 L729.9,474.1 L730.1,472.0 L730.3,469.8 L730.5,467.6 L730.8,465.5 L731.2,463.3 L731.7,461.2 L732.2,459.1 L732.9,457.1 L733.6,455.0 L734.5,453.1 L735.5,451.2 L736.6,449.3 L737.8,447.5 L739.2,445.9 L740.6,444.2 L742.1,442.7 L743.7,441.2 L745.3,439.7 L747.0,438.4 L748.7,437.1 L750.5,435.9 L752.4,434.8 L754.4,433.9 L756.4,433.1 L758.5,432.4 L760.6,431.8 L762.7,431.2 L764.8,430.6 L766.9,430.1 L769.0,429.6 L771.1,429.1 L773.2,428.6 L775.3,428.1 L777.5,427.6 L779.6,427.1 L781.7,426.6 L783.8,426.2 L785.9,425.7 L788.1,425.2 L790.2,424.7 L792.3,424.3 L794.4,423.8 L796.6,423.3 L798.7,422.8 L800.8,422.3 L802.9,421.8 L805.0,421.3 L807.1,420.8 L809.3,420.3 L811.4,419.7 L813.5,419.2 L815.6,418.7 L817.7,418.2 L819.8,417.6 L821.9,417.1 L824.1,416.6 L826.2,416.1 L828.3,415.6 L830.4,415.1 L832.5,414.6 L834.6,414.1 L836.8,413.6 L838.9,413.2 L841.0,412.7 L843.2,412.3 L845.3,411.8 L847.4,411.4 L849.6,411.0 L851.7,410.7 L853.9,410.3 L856.0,410.0 L858.2,409.7 L860.3,409.4 L862.5,409.1 L864.6,408.9 L866.8,408.6 L869.0,408.4 L871.1,408.2 L873.3,407.9 L875.5,407.7 L877.6,407.5 L879.8,407.2 L881.9,407.0 L884.1,406.7 L886.3,406.4 L888.4,406.1 L890.6,405.8 L892.7,405.4 L894.9,405.0 L897.0,404.6 L899.1,404.2 L901.3,403.8 L903.4,403.3 L905.5,402.9 L907.6,402.4 L909.8,401.9 L911.9,401.4 L914.0,400.9 L916.1,400.4 L918.2,399.9 L920.3,399.4 L922.5,398.8 L924.6,398.3 L926.7,397.8 L928.8,397.2 L930.9,396.6 L933.0,396.1 L935.1,395.5 L937.2,394.9 L939.3,394.3 L941.4,393.7 L943.4,393.1 L945.5,392.5 L947.6,391.8 L949.7,391.2 L951.8,390.5 L953.8,389.9 L955.9,389.2 L957.9,388.4 L960.0,387.7 L962.0,386.9 L964.0,386.0 L966.0,385.2 L968.0,384.3 L969.9,383.3 L971.9,382.4 L973.8,381.4 L975.8,380.5 L977.7,379.5 L979.7,378.6 L981.7,377.7 L983.7,376.9 L985.7,376.1 L987.7,375.3 L989.8,374.5 L991.8,373.8 L993.9,373.1 L995.9,372.4 L998.0,371.7 L1000.1,371.0 L1002.1,370.3 L1004.2,369.6 L1006.2,368.9 L1008.3,368.3 L1010.4,367.6 L1012.5,367.0 L1014.5,366.3 L1016.6,365.7 L1018.7,365.0 L1020.8,364.4 L1022.9,363.8 L1024.9,363.2 L1027.0,362.6 L1029.1,362.0 L1031.2,361.4 L1033.3,360.8 L1035.4,360.2 L1037.5,359.6 L1039.6,359.0 L1041.7,358.4 L1043.8,357.8 L1045.9,357.3 L1048.0,356.7 L1050.1,356.2 L1052.2,355.7 L1054.3,355.1 L1056.4,354.7 L1058.5,354.2 L1060.7,353.8 L1062.8,353.3 L1064.9,352.8 L1067.0,352.3 L1069.1,351.8 L1071.2,351.1 L1073.2,350.4 L1075.2,349.6 L1077.3,348.8 L1079.2,348.0 L1081.2,347.0 L1083.0,345.8 L1084.8,344.6 L1086.5,343.2 L1088.1,341.8 L1089.7,340.3 L1091.2,338.7 L1092.6,337.1 L1094.0,335.4 L1095.3,333.7 L1096.7,332.0 L1098.0,330.2 L1099.3,328.5 L1100.6,326.8 L1101.9,325.0 L1103.2,323.3" fill="none" stroke="#000" stroke-width="3.4" stroke-linejoin="round" stroke-linecap="round"/>
<path d="M729.4,490.0 L729.5,487.8 L729.6,485.5 L729.7,483.3 L729.8,481.0 L730.0,478.8 L730.1,476.5 L730.3,474.3 L730.5,472.0 L730.7,469.8 L731.1,467.6 L731.5,465.3 L732.0,463.1 L732.5,461.0 L733.1,458.8 L733.8,456.7 L734.7,454.6 L735.7,452.6 L736.8,450.6 L738.1,448.8 L739.5,447.0 L741.0,445.4 L742.6,443.8 L744.3,442.2 L746.0,440.8 L747.8,439.4 L749.6,438.0 L751.4,436.8 L753.4,435.8 L755.5,435.0 L757.7,434.2 L759.8,433.6 L762.0,432.9 L764.2,432.3 L766.3,431.8 L768.5,431.2 L770.7,430.7 L772.9,430.2 L775.1,429.7 L777.3,429.2 L779.5,428.7 L781.7,428.2 L783.9,427.7 L786.1,427.2 L788.3,426.7 L790.5,426.2 L792.7,425.7 L794.9,425.2 L797.0,424.7 L799.2,424.2 L801.4,423.7 L803.6,423.1 L805.8,422.6 L808.0,422.1 L810.2,421.5 L812.4,421.0 L814.6,420.5 L816.7,419.9 L818.9,419.4 L821.1,418.9 L823.3,418.3 L825.5,417.8 L827.7,417.3 L829.9,416.8 L832.1,416.2 L834.3,415.7 L836.5,415.3 L838.7,414.8 L840.9,414.3 L843.1,413.8 L845.3,413.4 L847.5,413.0 L849.7,412.6 L851.9,412.2 L854.1,411.8 L856.4,411.5 L858.6,411.2 L860.8,410.9 L863.1,410.7 L865.3,410.4 L867.6,410.2 L869.8,410.0 L872.0,409.8 L874.3,409.5 L876.5,409.3 L878.8,409.1 L881.0,408.9 L883.2,408.6 L885.5,408.3 L887.7,408.0 L889.9,407.7 L892.2,407.4 L894.4,407.0 L896.6,406.6 L898.8,406.2 L901.0,405.8 L903.2,405.3 L905.4,404.8 L907.6,404.4 L909.8,403.9 L912.0,403.3 L914.2,402.8 L916.4,402.3 L918.6,401.8 L920.8,401.2 L922.9,400.7 L925.1,400.1 L927.3,399.6 L929.5,399.0 L931.7,398.4 L933.8,397.8 L936.0,397.2 L938.2,396.6 L940.3,396.0 L942.5,395.4 L944.7,394.8 L946.8,394.2 L949.0,393.5 L951.1,392.8 L953.3,392.2 L955.4,391.5 L957.6,390.8 L959.7,390.1 L961.8,389.3 L963.9,388.5 L966.0,387.7 L968.1,386.8 L970.2,385.9 L972.2,384.9 L974.2,383.9 L976.2,382.8 L978.2,381.8 L980.1,380.7 L982.1,379.6 L984.1,378.6 L986.1,377.6 L988.2,376.6 L990.2,375.7 L992.3,374.8 L994.4,374.0 L996.5,373.2 L998.6,372.4 L1000.7,371.7 L1002.9,371.0 L1005.0,370.3 L1007.2,369.7 L1009.3,369.0 L1011.5,368.4 L1013.7,367.7 L1015.8,367.1 L1018.0,366.5 L1020.1,365.9 L1022.3,365.3 L1024.5,364.7 L1026.7,364.1 L1028.8,363.5 L1031.0,362.9 L1033.2,362.3 L1035.4,361.8 L1037.5,361.2 L1039.7,360.6 L1041.9,360.1 L1044.1,359.5 L1046.3,358.9 L1048.4,358.4 L1050.6,357.8 L1052.8,357.3 L1055.0,356.7 L1057.2,356.2 L1059.4,355.7 L1061.6,355.2 L1063.8,354.8 L1066.0,354.4 L1068.2,354.0 L1070.4,353.6 L1072.7,353.3 L1074.9,352.9 L1077.1,352.5 L1079.3,352.0 L1081.5,351.4 L1083.6,350.7 L1085.7,350.0 L1087.9,349.3 L1090.0,348.5 L1092.0,347.6 L1094.0,346.5 L1095.9,345.3 L1097.7,344.0 L1099.5,342.5 L1101.1,341.0 L1102.6,339.3 L1104.1,337.6 L1105.5,335.9 L1106.9,334.1 L1108.3,332.4 L1109.6,330.5 L1111.0,328.7 L1112.3,326.9 L1113.6,325.1 L1115.0,323.3" fill="none" stroke="#000" stroke-width="3.4" stroke-linejoin="round" stroke-linecap="round"/>
<path d="M729.5,738.0 L729.6,737.0 L729.7,735.6 L729.8,733.9 L730.0,732.1 L730.2,730.2 L730.4,728.3 L730.7,726.5 L731.0,725.0 L731.4,723.8 L731.7,722.8 L732.1,722.0 L732.5,721.2 L733.0,720.3 L733.7,719.1 L734.4,717.7 L735.4,715.8 L736.5,713.4 L737.8,710.5 L739.3,707.2 L740.9,703.7 L742.5,700.2 L744.3,696.8 L746.1,693.5 L748.0,690.6 L749.9,688.0 L751.7,685.5 L753.5,683.2 L755.5,681.0 L757.6,678.8 L760.0,676.8 L762.8,674.7 L765.9,672.7 L769.5,670.7 L773.6,668.7 L778.1,666.8 L782.8,664.9 L787.6,663.2 L792.5,661.4 L797.3,659.8 L801.9,658.3 L806.4,656.9 L810.9,655.7 L815.4,654.5 L819.9,653.5 L824.3,652.4 L828.8,651.4 L833.3,650.4 L837.8,649.3 L842.4,648.2 L847.0,647.1 L851.7,646.0 L856.3,644.9 L860.9,643.8 L865.4,642.7 L869.7,641.5 L873.8,640.3 L877.5,639.0 L881.1,637.6 L884.5,636.2 L887.8,634.7 L891.0,633.3 L894.2,631.8 L897.4,630.4 L900.7,629.0 L904.0,627.7 L907.3,626.4 L910.5,625.2 L913.8,624.0 L917.1,622.7 L920.5,621.5 L924.0,620.1 L927.7,618.8 L931.7,617.2 L936.1,615.6 L940.6,614.0 L945.3,612.3 L949.8,610.6 L954.1,609.0 L957.9,607.4 L961.3,606.0 L964.2,604.6 L966.7,603.3 L968.9,602.0 L970.8,600.8 L972.5,599.6 L974.0,598.6 L975.2,597.8 L976.2,597.1" fill="none" stroke="#000" stroke-width="3.4" stroke-linejoin="round" stroke-linecap="round"/>
<path d="M729.5,738.5 L729.6,737.6 L729.7,736.5 L729.9,735.1 L730.0,733.6 L730.3,731.9 L730.6,730.2 L731.0,728.6 L731.5,727.0 L732.1,725.5 L732.7,724.2 L733.4,722.9 L734.2,721.5 L735.2,720.0 L736.3,718.3 L737.5,716.3 L739.0,714.0 L740.7,711.2 L742.6,708.0 L744.6,704.4 L746.8,700.7 L749.1,696.9 L751.6,693.3 L754.2,689.9 L757.0,687.0 L759.9,684.4 L762.9,682.1 L766.1,679.9 L769.4,677.9 L772.8,676.1 L776.4,674.3 L780.1,672.6 L784.0,670.9 L788.1,669.3 L792.3,667.8 L796.8,666.3 L801.3,665.0 L806.0,663.7 L810.6,662.5 L815.3,661.2 L819.8,660.0 L824.3,658.8 L828.8,657.6 L833.3,656.5 L837.8,655.4 L842.3,654.3 L846.8,653.2 L851.3,652.1 L855.8,651.0 L860.4,649.9 L865.0,648.8 L869.7,647.7 L874.3,646.6 L878.9,645.5 L883.4,644.4 L887.6,643.2 L891.7,642.0 L895.4,640.8 L898.7,639.5 L901.8,638.3 L904.9,637.0 L907.9,635.7 L911.2,634.3 L914.7,632.8 L918.7,631.3 L923.3,629.6 L928.5,627.8 L934.1,625.9 L939.8,624.0 L945.4,622.1 L950.8,620.2 L955.8,618.5 L960.0,617.0 L963.5,615.7 L966.5,614.6 L969.1,613.7 L971.4,612.8 L973.5,612.0 L975.6,611.1 L977.7,610.1 L980.0,609.0 L982.6,607.6 L985.3,606.0 L988.0,604.3 L990.8,602.5 L993.3,600.9 L995.6,599.3 L997.5,598.0 L999.0,597.1" fill="none" stroke="#000" stroke-width="3.4" stroke-linejoin="round" stroke-linecap="round"/>
<path d="M729.5,739.0 L729.6,738.3 L729.8,737.4 L729.9,736.3 L730.1,735.1 L730.4,733.7 L730.7,732.2 L731.3,730.6 L732.0,729.0 L732.9,727.3 L733.8,725.5 L734.8,723.6 L736.0,721.7 L737.3,719.5 L738.9,717.3 L740.6,714.8 L742.6,712.2 L744.8,709.2 L747.2,705.8 L749.8,702.1 L752.7,698.3 L755.7,694.6 L758.9,691.0 L762.3,687.9 L765.9,685.2 L769.8,683.1 L774.0,681.3 L778.5,679.9 L783.1,678.7 L787.8,677.7 L792.6,676.7 L797.3,675.6 L801.9,674.5 L806.4,673.3 L810.9,672.1 L815.4,670.9 L819.9,669.8 L824.3,668.7 L828.8,667.6 L833.3,666.5 L837.8,665.5 L842.3,664.5 L846.8,663.7 L851.3,662.8 L855.8,662.0 L860.3,661.2 L864.8,660.3 L869.3,659.4 L873.8,658.3 L878.1,657.2 L882.4,656.0 L886.6,654.8 L890.8,653.5 L895.2,652.1 L899.7,650.7 L904.5,649.1 L909.7,647.5 L915.3,645.7 L921.4,643.8 L927.7,641.8 L934.3,639.6 L940.9,637.5 L947.5,635.3 L953.9,633.1 L960.0,631.0 L966.0,628.9 L972.1,626.7 L978.2,624.6 L984.1,622.4 L989.9,620.2 L995.3,618.1 L1000.4,615.9 L1005.0,613.8 L1009.2,611.6 L1013.2,609.2 L1016.8,606.8 L1020.1,604.4 L1023.1,602.1 L1025.7,600.1 L1027.8,598.4 L1029.6,597.1" fill="none" stroke="#000" stroke-width="3.4" stroke-linejoin="round" stroke-linecap="round"/>
<path d="M729.5,739.5 L729.7,738.8 L729.9,738.1 L730.1,737.2 L730.3,736.1 L730.7,734.9 L731.2,733.4 L732.0,731.8 L733.0,730.0 L734.3,727.8 L735.9,725.3 L737.7,722.5 L739.6,719.6 L741.7,716.6 L743.8,713.7 L745.9,711.0 L748.0,708.6 L750.0,706.4 L751.8,704.4 L753.7,702.5 L755.6,700.7 L757.7,699.0 L760.1,697.4 L762.8,695.8 L765.9,694.2 L769.5,692.7 L773.6,691.2 L778.1,689.7 L782.8,688.3 L787.6,687.0 L792.5,685.8 L797.3,684.6 L801.9,683.4 L806.4,682.3 L810.9,681.4 L815.4,680.5 L819.9,679.6 L824.3,678.8 L828.8,678.0 L833.3,677.1 L837.8,676.2 L842.3,675.4 L846.8,674.5 L851.3,673.7 L855.8,672.8 L860.3,672.0 L864.8,671.0 L869.3,670.1 L873.8,669.0 L878.1,667.8 L882.4,666.6 L886.6,665.2 L890.8,663.8 L895.2,662.4 L899.7,661.1 L904.5,659.7 L909.7,658.5 L915.5,657.3 L922.0,656.2 L928.9,655.1 L935.9,654.1 L942.8,653.0 L949.3,652.0 L955.1,651.0 L960.0,650.0 L963.8,649.0 L966.7,648.1 L969.0,647.2 L970.9,646.3 L972.6,645.4 L974.3,644.5 L976.3,643.5 L978.8,642.5 L981.7,641.4 L984.6,640.3 L987.7,639.1 L990.9,637.9 L994.2,636.7 L997.7,635.5 L1001.3,634.2 L1005.0,633.0 L1009.1,631.7 L1013.5,630.5 L1018.1,629.2 L1022.9,627.9 L1027.6,626.6 L1032.1,625.2 L1036.3,623.9 L1040.0,622.5 L1043.3,621.1 L1046.2,619.8 L1048.9,618.4 L1051.4,617.0 L1053.6,615.5 L1055.8,614.1 L1057.9,612.6 L1060.0,611.0 L1062.1,609.3 L1064.1,607.4 L1066.1,605.4 L1068.0,603.3 L1069.6,601.4 L1071.1,599.7 L1072.4,598.2 L1073.4,597.1" fill="none" stroke="#000" stroke-width="3.4" stroke-linejoin="round" stroke-linecap="round"/>
<path d="M729.5,740.0 L729.8,739.4 L730.0,738.7 L730.3,738.0 L730.6,737.0 L731.2,735.9 L731.8,734.5 L732.8,732.9 L734.0,731.0 L735.6,728.6 L737.5,725.7 L739.6,722.4 L742.0,719.0 L744.4,715.6 L746.9,712.3 L749.3,709.3 L751.6,706.8 L753.7,704.8 L755.7,703.0 L757.7,701.5 L759.6,700.2 L761.7,699.1 L764.0,698.0 L766.6,697.0 L769.5,696.0 L772.8,695.1 L776.5,694.3 L780.4,693.7 L784.6,693.1 L788.9,692.5 L793.2,692.0 L797.6,691.3 L801.9,690.6 L806.2,689.8 L810.6,688.9 L815.1,688.0 L819.6,687.0 L824.2,686.1 L828.7,685.2 L833.3,684.3 L837.8,683.4 L842.3,682.6 L846.8,681.9 L851.3,681.3 L855.8,680.6 L860.3,679.9 L864.8,679.2 L869.3,678.4 L873.8,677.5 L878.1,676.5 L882.4,675.4 L886.6,674.3 L890.8,673.1 L895.2,671.8 L899.7,670.6 L904.5,669.3 L909.7,668.0 L915.3,666.7 L921.2,665.3 L927.4,663.9 L933.7,662.4 L940.3,661.0 L946.8,659.6 L953.4,658.3 L960.0,657.0 L966.7,655.9 L973.9,654.8 L981.1,653.8 L988.4,652.9 L995.5,651.9 L1002.2,651.0 L1008.4,649.9 L1013.8,648.8 L1018.3,647.6 L1022.1,646.3 L1025.3,644.9 L1028.1,643.5 L1030.7,642.1 L1033.5,640.7 L1036.5,639.3 L1040.0,638.0 L1044.0,636.7 L1048.3,635.5 L1052.8,634.2 L1057.4,633.0 L1062.0,631.8 L1066.6,630.5 L1071.0,629.2 L1075.1,627.8 L1079.0,626.4 L1082.9,624.9 L1086.6,623.4 L1090.3,621.8 L1093.8,620.2 L1097.2,618.6 L1100.4,616.8 L1103.4,615.0 L1106.3,612.9 L1109.2,610.6 L1112.0,608.1 L1114.6,605.6 L1116.9,603.2 L1119.0,601.0 L1120.8,599.2 L1122.2,597.8" fill="none" stroke="#000" stroke-width="3.4" stroke-linejoin="round" stroke-linecap="round"/>
<path d="M729.4,644.0 L733.0,644.3 L737.6,644.6 L743.1,645.0 L749.3,645.4 L755.9,645.9 L762.8,646.5 L769.6,647.1 L776.2,647.8 L782.9,648.6 L789.9,649.5 L797.0,650.4 L804.3,651.5 L811.6,652.6 L818.8,653.7 L825.8,654.8 L832.5,656.0 L838.8,657.2 L844.7,658.5 L850.5,659.8 L856.1,661.2 L861.8,662.6 L867.5,664.0 L873.6,665.3 L880.0,666.6 L886.8,667.9 L893.9,669.1 L901.2,670.3 L908.6,671.6 L916.1,672.8 L923.7,674.0 L931.2,675.2 L938.6,676.4 L946.0,677.6 L953.5,678.8 L961.0,679.9 L968.5,681.1 L975.9,682.2 L983.2,683.5 L990.3,684.7 L997.2,686.1 L1003.9,687.5 L1010.5,689.0 L1017.1,690.6 L1023.4,692.2 L1029.6,693.8 L1035.4,695.5 L1040.9,697.1 L1046.0,698.8 L1050.7,700.4 L1054.9,702.1 L1058.8,703.7 L1062.5,705.3 L1065.9,707.0 L1069.1,708.8 L1072.2,710.6 L1075.3,712.5 L1078.3,714.5 L1081.0,716.5 L1083.7,718.6 L1086.1,720.8 L1088.5,723.0 L1090.7,725.2 L1092.8,727.6 L1094.8,730.0 L1096.7,732.5 L1098.4,735.0 L1100.0,737.5 L1101.5,740.1 L1102.9,742.8 L1104.2,745.6 L1105.4,748.5 L1106.6,751.6 L1107.7,754.7 L1108.6,757.9 L1109.4,761.2 L1110.2,764.6 L1110.9,768.2 L1111.6,771.9 L1112.3,775.8 L1113.0,780.0 L1113.8,784.8 L1114.6,790.2 L1115.4,796.1 L1116.2,802.1 L1117.0,807.8 L1117.7,813.0 L1118.3,817.4 L1118.7,820.6" fill="none" stroke="#000" stroke-width="3.4" stroke-linejoin="round" stroke-linecap="round"/>
<path d="M729.4,649.7 L733.0,649.9 L737.6,650.1 L743.1,650.3 L749.3,650.6 L755.9,651.0 L762.8,651.4 L769.6,651.9 L776.2,652.5 L782.9,653.2 L789.9,654.0 L797.0,654.9 L804.3,655.8 L811.6,656.8 L818.8,657.9 L825.8,658.9 L832.5,660.0 L838.8,661.1 L844.7,662.2 L850.5,663.3 L856.1,664.5 L861.8,665.7 L867.5,666.9 L873.6,668.2 L880.0,669.5 L886.9,670.9 L894.1,672.3 L901.6,673.9 L909.2,675.4 L916.9,677.0 L924.4,678.5 L931.7,679.9 L938.6,681.2 L945.2,682.5 L951.7,683.6 L958.0,684.7 L964.2,685.7 L970.2,686.7 L976.1,687.7 L981.8,688.8 L987.4,690.0 L992.9,691.2 L998.3,692.5 L1003.6,693.8 L1008.8,695.1 L1013.7,696.4 L1018.3,697.8 L1022.6,699.3 L1026.5,700.8 L1029.9,702.3 L1032.9,703.9 L1035.5,705.6 L1037.8,707.2 L1040.0,709.0 L1042.0,710.7 L1044.0,712.6 L1046.0,714.5 L1048.0,716.5 L1050.0,718.5 L1051.9,720.5 L1053.7,722.6 L1055.4,724.8 L1057.0,727.1 L1058.4,729.5 L1059.7,732.0 L1060.8,734.6 L1061.8,737.4 L1062.6,740.3 L1063.3,743.3 L1064.0,746.4 L1064.5,749.4 L1065.0,752.5 L1065.5,755.5 L1065.9,758.4 L1066.3,761.2 L1066.6,763.9 L1066.8,766.7 L1067.0,769.6 L1067.1,772.7 L1067.3,776.2 L1067.5,780.0 L1067.7,784.6 L1067.9,790.0 L1068.1,795.8 L1068.2,801.8 L1068.4,807.6 L1068.5,812.9 L1068.6,817.4 L1068.7,820.6" fill="none" stroke="#000" stroke-width="3.4" stroke-linejoin="round" stroke-linecap="round"/>
<path d="M729.4,656.0 L733.0,656.1 L737.6,656.3 L743.1,656.4 L749.3,656.6 L755.9,656.9 L762.8,657.2 L769.6,657.5 L776.2,658.0 L782.9,658.5 L789.9,659.2 L797.0,659.8 L804.3,660.6 L811.6,661.4 L818.8,662.2 L825.8,663.1 L832.5,664.0 L838.8,664.9 L845.0,665.9 L850.9,666.9 L856.7,668.0 L862.5,669.0 L868.2,670.2 L874.1,671.3 L880.0,672.5 L886.1,673.7 L892.3,675.1 L898.6,676.4 L904.9,677.8 L911.2,679.2 L917.3,680.6 L923.2,681.9 L928.8,683.2 L934.2,684.4 L939.6,685.5 L944.8,686.6 L949.8,687.6 L954.7,688.6 L959.3,689.7 L963.7,690.8 L967.9,692.0 L971.8,693.2 L975.4,694.4 L978.9,695.7 L982.1,696.9 L985.1,698.2 L988.0,699.6 L990.7,701.1 L993.3,702.7 L995.8,704.4 L998.0,706.2 L1000.1,708.1 L1002.1,710.1 L1003.9,712.2 L1005.6,714.2 L1007.3,716.3 L1008.9,718.4 L1010.4,720.5 L1011.9,722.5 L1013.2,724.6 L1014.5,726.7 L1015.6,728.9 L1016.7,731.1 L1017.7,733.5 L1018.7,736.0 L1019.6,738.7 L1020.4,741.5 L1021.1,744.5 L1021.7,747.5 L1022.3,750.6 L1022.8,753.6 L1023.2,756.6 L1023.6,759.4 L1023.9,762.0 L1024.1,764.3 L1024.2,766.5 L1024.3,768.6 L1024.3,770.9 L1024.4,773.5 L1024.4,776.5 L1024.5,780.0 L1024.6,784.4 L1024.8,789.7 L1024.9,795.5 L1025.1,801.6 L1025.3,807.5 L1025.4,812.8 L1025.5,817.3 L1025.6,820.6" fill="none" stroke="#000" stroke-width="3.4" stroke-linejoin="round" stroke-linecap="round"/>
<path d="M729.4,660.0 L734.5,660.2 L741.4,660.5 L749.6,660.8 L758.7,661.1 L768.2,661.5 L777.7,661.9 L786.8,662.4 L795.0,663.0 L802.7,663.6 L810.4,664.4 L818.0,665.2 L825.4,666.1 L832.6,667.0 L839.3,667.8 L845.6,668.6 L851.2,669.4 L856.1,670.1 L860.1,670.6 L863.6,671.2 L866.7,671.7 L869.7,672.2 L872.7,672.8 L876.1,673.6 L880.0,674.4 L884.5,675.4 L889.3,676.5 L894.3,677.8 L899.5,679.1 L904.6,680.4 L909.7,681.7 L914.5,683.0 L919.0,684.2 L923.2,685.3 L927.3,686.4 L931.2,687.4 L934.9,688.5 L938.5,689.5 L942.0,690.6 L945.3,691.8 L948.4,693.0 L951.4,694.3 L954.1,695.7 L956.7,697.1 L959.1,698.5 L961.4,700.0 L963.7,701.6 L965.8,703.1 L967.9,704.7 L969.9,706.3 L971.9,707.9 L973.7,709.5 L975.5,711.2 L977.1,712.9 L978.7,714.7 L980.2,716.5 L981.6,718.4 L982.9,720.4 L984.0,722.4 L985.1,724.5 L986.1,726.6 L986.9,728.8 L987.8,731.1 L988.6,733.5 L989.4,736.0 L990.2,738.7 L990.9,741.5 L991.6,744.5 L992.3,747.5 L992.9,750.6 L993.4,753.6 L993.9,756.6 L994.3,759.4 L994.6,762.0 L994.8,764.3 L995.0,766.5 L995.1,768.6 L995.1,770.9 L995.1,773.5 L995.2,776.5 L995.2,780.0 L995.2,784.4 L995.3,789.7 L995.3,795.5 L995.3,801.6 L995.2,807.5 L995.2,812.8 L995.2,817.3 L995.2,820.6" fill="none" stroke="#000" stroke-width="3.4" stroke-linejoin="round" stroke-linecap="round"/>
<path d="M729.4,662.0 L734.5,662.1 L741.4,662.2 L749.6,662.4 L758.7,662.6 L768.2,662.8 L777.7,663.1 L786.8,663.5 L795.0,664.0 L802.7,664.6 L810.4,665.4 L818.0,666.3 L825.4,667.2 L832.6,668.2 L839.3,669.2 L845.6,670.1 L851.2,671.0 L856.2,671.8 L860.4,672.6 L864.0,673.4 L867.3,674.2 L870.4,674.9 L873.4,675.7 L876.6,676.5 L880.0,677.3 L883.7,678.1 L887.5,678.9 L891.4,679.8 L895.2,680.6 L899.0,681.4 L902.7,682.3 L906.1,683.2 L909.3,684.2 L912.2,685.2 L914.9,686.2 L917.3,687.1 L919.7,688.2 L921.9,689.3 L924.1,690.4 L926.4,691.7 L928.8,693.0 L931.3,694.4 L933.8,696.0 L936.4,697.6 L939.0,699.2 L941.5,701.0 L943.9,702.8 L946.2,704.7 L948.4,706.6 L950.4,708.6 L952.4,710.7 L954.2,712.8 L956.0,715.0 L957.7,717.3 L959.2,719.6 L960.7,721.9 L962.0,724.2 L963.2,726.5 L964.3,728.9 L965.3,731.2 L966.1,733.6 L966.9,736.0 L967.6,738.5 L968.3,741.1 L968.9,743.8 L969.5,746.6 L970.0,749.6 L970.4,752.7 L970.7,755.9 L971.0,759.0 L971.3,762.0 L971.6,764.8 L971.8,767.2 L972.0,769.1 L972.2,770.5 L972.3,771.6 L972.4,772.5 L972.5,773.6 L972.6,775.1 L972.7,777.1 L972.8,780.0 L972.9,784.0 L973.0,789.1 L973.1,795.0 L973.2,801.1 L973.2,807.1 L973.3,812.7 L973.4,817.3 L973.4,820.6" fill="none" stroke="#000" stroke-width="3.4" stroke-linejoin="round" stroke-linecap="round"/>
<line x1="62.5" y1="273.2" x2="72.0" y2="273.2" stroke="#000" stroke-width="2"/>
<line x1="601.0" y1="273.2" x2="610.5" y2="273.2" stroke="#000" stroke-width="2"/>
<line x1="62.5" y1="230.4" x2="68.5" y2="230.4" stroke="#000" stroke-width="2"/>
<line x1="604.5" y1="230.4" x2="610.5" y2="230.4" stroke="#000" stroke-width="2"/>
<line x1="62.5" y1="187.6" x2="72.0" y2="187.6" stroke="#000" stroke-width="2"/>
<line x1="601.0" y1="187.6" x2="610.5" y2="187.6" stroke="#000" stroke-width="2"/>
<line x1="62.5" y1="144.7" x2="68.5" y2="144.7" stroke="#000" stroke-width="2"/>
<line x1="604.5" y1="144.7" x2="610.5" y2="144.7" stroke="#000" stroke-width="2"/>
<line x1="62.5" y1="101.9" x2="72.0" y2="101.9" stroke="#000" stroke-width="2"/>
<line x1="601.0" y1="101.9" x2="610.5" y2="101.9" stroke="#000" stroke-width="2"/>
<line x1="62.5" y1="59.1" x2="68.5" y2="59.1" stroke="#000" stroke-width="2"/>
<line x1="604.5" y1="59.1" x2="610.5" y2="59.1" stroke="#000" stroke-width="2"/>
<line x1="168.1" y1="16.3" x2="168.1" y2="22.8" stroke="#000" stroke-width="2"/>
<line x1="168.1" y1="283.5" x2="168.1" y2="290.0" stroke="#000" stroke-width="2"/>
<line x1="273.7" y1="16.3" x2="273.7" y2="25.8" stroke="#000" stroke-width="2"/>
<line x1="273.7" y1="280.5" x2="273.7" y2="290.0" stroke="#000" stroke-width="2"/>
<line x1="379.3" y1="16.3" x2="379.3" y2="22.8" stroke="#000" stroke-width="2"/>
<line x1="379.3" y1="283.5" x2="379.3" y2="290.0" stroke="#000" stroke-width="2"/>
<line x1="484.9" y1="16.3" x2="484.9" y2="25.8" stroke="#000" stroke-width="2"/>
<line x1="484.9" y1="280.5" x2="484.9" y2="290.0" stroke="#000" stroke-width="2"/>
<line x1="590.5" y1="16.3" x2="590.5" y2="22.8" stroke="#000" stroke-width="2"/>
<line x1="590.5" y1="283.5" x2="590.5" y2="290.0" stroke="#000" stroke-width="2"/>
<line x1="62.5" y1="546.9" x2="72.0" y2="546.9" stroke="#000" stroke-width="2"/>
<line x1="601.0" y1="546.9" x2="610.5" y2="546.9" stroke="#000" stroke-width="2"/>
<line x1="62.5" y1="504.1" x2="68.5" y2="504.1" stroke="#000" stroke-width="2"/>
<line x1="604.5" y1="504.1" x2="610.5" y2="504.1" stroke="#000" stroke-width="2"/>
<line x1="62.5" y1="461.2" x2="72.0" y2="461.2" stroke="#000" stroke-width="2"/>
<line x1="601.0" y1="461.2" x2="610.5" y2="461.2" stroke="#000" stroke-width="2"/>
<line x1="62.5" y1="418.4" x2="68.5" y2="418.4" stroke="#000" stroke-width="2"/>
<line x1="604.5" y1="418.4" x2="610.5" y2="418.4" stroke="#000" stroke-width="2"/>
<line x1="62.5" y1="375.6" x2="72.0" y2="375.6" stroke="#000" stroke-width="2"/>
<line x1="601.0" y1="375.6" x2="610.5" y2="375.6" stroke="#000" stroke-width="2"/>
<line x1="62.5" y1="332.8" x2="68.5" y2="332.8" stroke="#000" stroke-width="2"/>
<line x1="604.5" y1="332.8" x2="610.5" y2="332.8" stroke="#000" stroke-width="2"/>
<line x1="168.1" y1="290.0" x2="168.1" y2="296.5" stroke="#000" stroke-width="2"/>
<line x1="168.1" y1="557.7" x2="168.1" y2="564.2" stroke="#000" stroke-width="2"/>
<line x1="273.7" y1="290.0" x2="273.7" y2="299.5" stroke="#000" stroke-width="2"/>
<line x1="273.7" y1="554.7" x2="273.7" y2="564.2" stroke="#000" stroke-width="2"/>
<line x1="379.3" y1="290.0" x2="379.3" y2="296.5" stroke="#000" stroke-width="2"/>
<line x1="379.3" y1="557.7" x2="379.3" y2="564.2" stroke="#000" stroke-width="2"/>
<line x1="484.9" y1="290.0" x2="484.9" y2="299.5" stroke="#000" stroke-width="2"/>
<line x1="484.9" y1="554.7" x2="484.9" y2="564.2" stroke="#000" stroke-width="2"/>
<line x1="590.5" y1="290.0" x2="590.5" y2="296.5" stroke="#000" stroke-width="2"/>
<line x1="590.5" y1="557.7" x2="590.5" y2="564.2" stroke="#000" stroke-width="2"/>
<line x1="62.5" y1="821.1" x2="72.0" y2="821.1" stroke="#000" stroke-width="2"/>
<line x1="601.0" y1="821.1" x2="610.5" y2="821.1" stroke="#000" stroke-width="2"/>
<line x1="62.5" y1="778.3" x2="68.5" y2="778.3" stroke="#000" stroke-width="2"/>
<line x1="604.5" y1="778.3" x2="610.5" y2="778.3" stroke="#000" stroke-width="2"/>
<line x1="62.5" y1="735.5" x2="72.0" y2="735.5" stroke="#000" stroke-width="2"/>
<line x1="601.0" y1="735.5" x2="610.5" y2="735.5" stroke="#000" stroke-width="2"/>
<line x1="62.5" y1="692.6" x2="68.5" y2="692.6" stroke="#000" stroke-width="2"/>
<line x1="604.5" y1="692.6" x2="610.5" y2="692.6" stroke="#000" stroke-width="2"/>
<line x1="62.5" y1="649.8" x2="72.0" y2="649.8" stroke="#000" stroke-width="2"/>
<line x1="601.0" y1="649.8" x2="610.5" y2="649.8" stroke="#000" stroke-width="2"/>
<line x1="62.5" y1="607.0" x2="68.5" y2="607.0" stroke="#000" stroke-width="2"/>
<line x1="604.5" y1="607.0" x2="610.5" y2="607.0" stroke="#000" stroke-width="2"/>
<line x1="168.1" y1="564.2" x2="168.1" y2="570.7" stroke="#000" stroke-width="2"/>
<line x1="168.1" y1="829.0" x2="168.1" y2="838.5" stroke="#000" stroke-width="2"/>
<line x1="273.7" y1="564.2" x2="273.7" y2="573.7" stroke="#000" stroke-width="2"/>
<line x1="273.7" y1="829.0" x2="273.7" y2="838.5" stroke="#000" stroke-width="2"/>
<line x1="379.3" y1="564.2" x2="379.3" y2="570.7" stroke="#000" stroke-width="2"/>
<line x1="379.3" y1="829.0" x2="379.3" y2="838.5" stroke="#000" stroke-width="2"/>
<line x1="484.9" y1="564.2" x2="484.9" y2="573.7" stroke="#000" stroke-width="2"/>
<line x1="484.9" y1="829.0" x2="484.9" y2="838.5" stroke="#000" stroke-width="2"/>
<line x1="590.5" y1="564.2" x2="590.5" y2="570.7" stroke="#000" stroke-width="2"/>
<line x1="590.5" y1="829.0" x2="590.5" y2="838.5" stroke="#000" stroke-width="2"/>
<rect x="62.5" y="16.3" width="548.0" height="822.2" fill="none" stroke="#000" stroke-width="3"/>
<line x1="62.5" y1="290.0" x2="610.5" y2="290.0" stroke="#000" stroke-width="3"/>
<line x1="62.5" y1="564.2" x2="610.5" y2="564.2" stroke="#000" stroke-width="3"/>
<line x1="728.3" y1="272.1" x2="737.8" y2="272.1" stroke="#000" stroke-width="2"/>
<line x1="1266.5" y1="272.1" x2="1276.0" y2="272.1" stroke="#000" stroke-width="2"/>
<line x1="728.3" y1="229.3" x2="734.3" y2="229.3" stroke="#000" stroke-width="2"/>
<line x1="1270.0" y1="229.3" x2="1276.0" y2="229.3" stroke="#000" stroke-width="2"/>
<line x1="728.3" y1="186.4" x2="737.8" y2="186.4" stroke="#000" stroke-width="2"/>
<line x1="1266.5" y1="186.4" x2="1276.0" y2="186.4" stroke="#000" stroke-width="2"/>
<line x1="728.3" y1="143.6" x2="734.3" y2="143.6" stroke="#000" stroke-width="2"/>
<line x1="1270.0" y1="143.6" x2="1276.0" y2="143.6" stroke="#000" stroke-width="2"/>
<line x1="728.3" y1="100.8" x2="737.8" y2="100.8" stroke="#000" stroke-width="2"/>
<line x1="1266.5" y1="100.8" x2="1276.0" y2="100.8" stroke="#000" stroke-width="2"/>
<line x1="728.3" y1="58.0" x2="734.3" y2="58.0" stroke="#000" stroke-width="2"/>
<line x1="1270.0" y1="58.0" x2="1276.0" y2="58.0" stroke="#000" stroke-width="2"/>
<line x1="833.9" y1="15.2" x2="833.9" y2="21.7" stroke="#000" stroke-width="2"/>
<line x1="833.9" y1="283.5" x2="833.9" y2="290.0" stroke="#000" stroke-width="2"/>
<line x1="939.5" y1="15.2" x2="939.5" y2="24.7" stroke="#000" stroke-width="2"/>
<line x1="939.5" y1="280.5" x2="939.5" y2="290.0" stroke="#000" stroke-width="2"/>
<line x1="1045.1" y1="15.2" x2="1045.1" y2="21.7" stroke="#000" stroke-width="2"/>
<line x1="1045.1" y1="283.5" x2="1045.1" y2="290.0" stroke="#000" stroke-width="2"/>
<line x1="1150.7" y1="15.2" x2="1150.7" y2="24.7" stroke="#000" stroke-width="2"/>
<line x1="1150.7" y1="280.5" x2="1150.7" y2="290.0" stroke="#000" stroke-width="2"/>
<line x1="1256.3" y1="15.2" x2="1256.3" y2="21.7" stroke="#000" stroke-width="2"/>
<line x1="1256.3" y1="283.5" x2="1256.3" y2="290.0" stroke="#000" stroke-width="2"/>
<line x1="728.3" y1="546.9" x2="737.8" y2="546.9" stroke="#000" stroke-width="2"/>
<line x1="1266.5" y1="546.9" x2="1276.0" y2="546.9" stroke="#000" stroke-width="2"/>
<line x1="728.3" y1="504.1" x2="734.3" y2="504.1" stroke="#000" stroke-width="2"/>
<line x1="1270.0" y1="504.1" x2="1276.0" y2="504.1" stroke="#000" stroke-width="2"/>
<line x1="728.3" y1="461.2" x2="737.8" y2="461.2" stroke="#000" stroke-width="2"/>
<line x1="1266.5" y1="461.2" x2="1276.0" y2="461.2" stroke="#000" stroke-width="2"/>
<line x1="728.3" y1="418.4" x2="734.3" y2="418.4" stroke="#000" stroke-width="2"/>
<line x1="1270.0" y1="418.4" x2="1276.0" y2="418.4" stroke="#000" stroke-width="2"/>
<line x1="728.3" y1="375.6" x2="737.8" y2="375.6" stroke="#000" stroke-width="2"/>
<line x1="1266.5" y1="375.6" x2="1276.0" y2="375.6" stroke="#000" stroke-width="2"/>
<line x1="728.3" y1="332.8" x2="734.3" y2="332.8" stroke="#000" stroke-width="2"/>
<line x1="1270.0" y1="332.8" x2="1276.0" y2="332.8" stroke="#000" stroke-width="2"/>
<line x1="833.9" y1="290.0" x2="833.9" y2="296.5" stroke="#000" stroke-width="2"/>
<line x1="833.9" y1="557.7" x2="833.9" y2="564.2" stroke="#000" stroke-width="2"/>
<line x1="939.5" y1="290.0" x2="939.5" y2="299.5" stroke="#000" stroke-width="2"/>
<line x1="939.5" y1="554.7" x2="939.5" y2="564.2" stroke="#000" stroke-width="2"/>
<line x1="1045.1" y1="290.0" x2="1045.1" y2="296.5" stroke="#000" stroke-width="2"/>
<line x1="1045.1" y1="557.7" x2="1045.1" y2="564.2" stroke="#000" stroke-width="2"/>
<line x1="1150.7" y1="290.0" x2="1150.7" y2="299.5" stroke="#000" stroke-width="2"/>
<line x1="1150.7" y1="554.7" x2="1150.7" y2="564.2" stroke="#000" stroke-width="2"/>
<line x1="1256.3" y1="290.0" x2="1256.3" y2="296.5" stroke="#000" stroke-width="2"/>
<line x1="1256.3" y1="557.7" x2="1256.3" y2="564.2" stroke="#000" stroke-width="2"/>
<line x1="728.3" y1="821.1" x2="737.8" y2="821.1" stroke="#000" stroke-width="2"/>
<line x1="1266.5" y1="821.1" x2="1276.0" y2="821.1" stroke="#000" stroke-width="2"/>
<line x1="728.3" y1="778.3" x2="734.3" y2="778.3" stroke="#000" stroke-width="2"/>
<line x1="1270.0" y1="778.3" x2="1276.0" y2="778.3" stroke="#000" stroke-width="2"/>
<line x1="728.3" y1="735.5" x2="737.8" y2="735.5" stroke="#000" stroke-width="2"/>
<line x1="1266.5" y1="735.5" x2="1276.0" y2="735.5" stroke="#000" stroke-width="2"/>
<line x1="728.3" y1="692.6" x2="734.3" y2="692.6" stroke="#000" stroke-width="2"/>
<line x1="1270.0" y1="692.6" x2="1276.0" y2="692.6" stroke="#000" stroke-width="2"/>
<line x1="728.3" y1="649.8" x2="737.8" y2="649.8" stroke="#000" stroke-width="2"/>
<line x1="1266.5" y1="649.8" x2="1276.0" y2="649.8" stroke="#000" stroke-width="2"/>
<line x1="728.3" y1="607.0" x2="734.3" y2="607.0" stroke="#000" stroke-width="2"/>
<line x1="1270.0" y1="607.0" x2="1276.0" y2="607.0" stroke="#000" stroke-width="2"/>
<line x1="833.9" y1="564.2" x2="833.9" y2="570.7" stroke="#000" stroke-width="2"/>
<line x1="833.9" y1="832.0" x2="833.9" y2="838.5" stroke="#000" stroke-width="2"/>
<line x1="939.5" y1="564.2" x2="939.5" y2="573.7" stroke="#000" stroke-width="2"/>
<line x1="939.5" y1="829.0" x2="939.5" y2="838.5" stroke="#000" stroke-width="2"/>
<line x1="1045.1" y1="564.2" x2="1045.1" y2="570.7" stroke="#000" stroke-width="2"/>
<line x1="1045.1" y1="832.0" x2="1045.1" y2="838.5" stroke="#000" stroke-width="2"/>
<line x1="1150.7" y1="564.2" x2="1150.7" y2="573.7" stroke="#000" stroke-width="2"/>
<line x1="1150.7" y1="829.0" x2="1150.7" y2="838.5" stroke="#000" stroke-width="2"/>
<line x1="1256.3" y1="564.2" x2="1256.3" y2="570.7" stroke="#000" stroke-width="2"/>
<line x1="1256.3" y1="832.0" x2="1256.3" y2="838.5" stroke="#000" stroke-width="2"/>
<rect x="728.3" y="15.2" width="547.7" height="823.3" fill="none" stroke="#000" stroke-width="3"/>
<line x1="728.3" y1="290.0" x2="1276.0" y2="290.0" stroke="#000" stroke-width="3"/>
<line x1="728.3" y1="564.2" x2="1276.0" y2="564.2" stroke="#000" stroke-width="3"/>
<text x="58.5" y="25.8" font-family="Liberation Serif" font-size="29" text-anchor="end" fill="#1c1c1c" stroke="#1c1c1c" stroke-width="0.25" >5</text>
<text x="58.5" y="111.4" font-family="Liberation Serif" font-size="29" text-anchor="end" fill="#1c1c1c" stroke="#1c1c1c" stroke-width="0.25" >4</text>
<text x="58.5" y="197.1" font-family="Liberation Serif" font-size="29" text-anchor="end" fill="#1c1c1c" stroke="#1c1c1c" stroke-width="0.25" >3</text>
<text x="58.5" y="282.7" font-family="Liberation Serif" font-size="29" text-anchor="end" fill="#1c1c1c" stroke="#1c1c1c" stroke-width="0.25" >2</text>
<text x="58.5" y="299.5" font-family="Liberation Serif" font-size="29" text-anchor="end" fill="#1c1c1c" stroke="#1c1c1c" stroke-width="0.25" >5</text>
<text x="58.5" y="385.1" font-family="Liberation Serif" font-size="29" text-anchor="end" fill="#1c1c1c" stroke="#1c1c1c" stroke-width="0.25" >4</text>
<text x="58.5" y="470.8" font-family="Liberation Serif" font-size="29" text-anchor="end" fill="#1c1c1c" stroke="#1c1c1c" stroke-width="0.25" >3</text>
<text x="58.5" y="556.4" font-family="Liberation Serif" font-size="29" text-anchor="end" fill="#1c1c1c" stroke="#1c1c1c" stroke-width="0.25" >2</text>
<text x="58.5" y="573.7" font-family="Liberation Serif" font-size="29" text-anchor="end" fill="#1c1c1c" stroke="#1c1c1c" stroke-width="0.25" >5</text>
<text x="58.5" y="659.3" font-family="Liberation Serif" font-size="29" text-anchor="end" fill="#1c1c1c" stroke="#1c1c1c" stroke-width="0.25" >4</text>
<text x="58.5" y="745.0" font-family="Liberation Serif" font-size="29" text-anchor="end" fill="#1c1c1c" stroke="#1c1c1c" stroke-width="0.25" >3</text>
<text x="58.5" y="830.6" font-family="Liberation Serif" font-size="29" text-anchor="end" fill="#1c1c1c" stroke="#1c1c1c" stroke-width="0.25" >2</text>
<text x="724.3" y="23.2" font-family="Liberation Serif" font-size="29" text-anchor="end" fill="#1c1c1c" stroke="#1c1c1c" stroke-width="0.25" >5</text>
<text x="724.3" y="110.3" font-family="Liberation Serif" font-size="29" text-anchor="end" fill="#1c1c1c" stroke="#1c1c1c" stroke-width="0.25" >4</text>
<text x="724.3" y="195.9" font-family="Liberation Serif" font-size="29" text-anchor="end" fill="#1c1c1c" stroke="#1c1c1c" stroke-width="0.25" >3</text>
<text x="724.3" y="281.6" font-family="Liberation Serif" font-size="29" text-anchor="end" fill="#1c1c1c" stroke="#1c1c1c" stroke-width="0.25" >2</text>
<text x="724.3" y="299.5" font-family="Liberation Serif" font-size="29" text-anchor="end" fill="#1c1c1c" stroke="#1c1c1c" stroke-width="0.25" >5</text>
<text x="724.3" y="385.1" font-family="Liberation Serif" font-size="29" text-anchor="end" fill="#1c1c1c" stroke="#1c1c1c" stroke-width="0.25" >4</text>
<text x="724.3" y="470.8" font-family="Liberation Serif" font-size="29" text-anchor="end" fill="#1c1c1c" stroke="#1c1c1c" stroke-width="0.25" >3</text>
<text x="724.3" y="556.4" font-family="Liberation Serif" font-size="29" text-anchor="end" fill="#1c1c1c" stroke="#1c1c1c" stroke-width="0.25" >2</text>
<text x="724.3" y="573.7" font-family="Liberation Serif" font-size="29" text-anchor="end" fill="#1c1c1c" stroke="#1c1c1c" stroke-width="0.25" >5</text>
<text x="724.3" y="659.3" font-family="Liberation Serif" font-size="29" text-anchor="end" fill="#1c1c1c" stroke="#1c1c1c" stroke-width="0.25" >4</text>
<text x="724.3" y="745.0" font-family="Liberation Serif" font-size="29" text-anchor="end" fill="#1c1c1c" stroke="#1c1c1c" stroke-width="0.25" >3</text>
<text x="724.3" y="830.6" font-family="Liberation Serif" font-size="29" text-anchor="end" fill="#1c1c1c" stroke="#1c1c1c" stroke-width="0.25" >2</text>
<text x="62.5" y="865.5" font-family="Liberation Serif" font-size="29" text-anchor="middle" fill="#1c1c1c" stroke="#1c1c1c" stroke-width="0.25" >0</text>
<text x="168.1" y="865.5" font-family="Liberation Serif" font-size="29" text-anchor="middle" fill="#1c1c1c" stroke="#1c1c1c" stroke-width="0.25" >50</text>
<text x="273.7" y="865.5" font-family="Liberation Serif" font-size="29" text-anchor="middle" fill="#1c1c1c" stroke="#1c1c1c" stroke-width="0.25" >100</text>
<text x="379.3" y="865.5" font-family="Liberation Serif" font-size="29" text-anchor="middle" fill="#1c1c1c" stroke="#1c1c1c" stroke-width="0.25" >150</text>
<text x="484.9" y="865.5" font-family="Liberation Serif" font-size="29" text-anchor="middle" fill="#1c1c1c" stroke="#1c1c1c" stroke-width="0.25" >200</text>
<text x="590.5" y="865.5" font-family="Liberation Serif" font-size="29" text-anchor="middle" fill="#1c1c1c" stroke="#1c1c1c" stroke-width="0.25" >250</text>
<text x="728.3" y="865.5" font-family="Liberation Serif" font-size="29" text-anchor="middle" fill="#1c1c1c" stroke="#1c1c1c" stroke-width="0.25" >0</text>
<text x="939.5" y="865.5" font-family="Liberation Serif" font-size="29" text-anchor="middle" fill="#1c1c1c" stroke="#1c1c1c" stroke-width="0.25" >100</text>
<text x="1150.7" y="865.5" font-family="Liberation Serif" font-size="29" text-anchor="middle" fill="#1c1c1c" stroke="#1c1c1c" stroke-width="0.25" >200</text>
<text x="164.5" y="902.5" font-family="Liberation Serif" font-size="29" text-anchor="start" fill="#1c1c1c" stroke="#1c1c1c" stroke-width="0.25" >Specific capacity/(mAh/g)</text>
<text x="848.0" y="899.0" font-family="Liberation Serif" font-size="29" text-anchor="start" fill="#1c1c1c" stroke="#1c1c1c" stroke-width="0.25" >Specific capacity/(mAh/g)</text>
<text transform="translate(22,227) rotate(-90)" font-family="Liberation Serif" font-size="29" fill="#1c1c1c" stroke="#1c1c1c" stroke-width="0.25">Cell voltage/V</text>
<text transform="translate(22,514.4) rotate(-90)" font-family="Liberation Serif" font-size="29" fill="#1c1c1c" stroke="#1c1c1c" stroke-width="0.25">Cell voltage/V</text>
<text transform="translate(28.5,788.2) rotate(-90)" font-family="Liberation Serif" font-size="29" fill="#1c1c1c" stroke="#1c1c1c" stroke-width="0.25">Cell voltage/V</text>
<text transform="translate(700.5,228.5) rotate(-90)" font-family="Liberation Serif" font-size="29" fill="#1c1c1c" stroke="#1c1c1c" stroke-width="0.25">Cell voltage/V</text>
<text transform="translate(700.6,499.7) rotate(-90)" font-family="Liberation Serif" font-size="29" fill="#1c1c1c" stroke="#1c1c1c" stroke-width="0.25">Cell voltage/V</text>
<text transform="translate(699.5,777.5) rotate(-90)" font-family="Liberation Serif" font-size="29" fill="#1c1c1c" stroke="#1c1c1c" stroke-width="0.25">Cell voltage/V</text>
<text x="12.0" y="900.0" font-family="Liberation Sans" font-size="23" text-anchor="start" fill="#2a2a2a" stroke="#2a2a2a" stroke-width="0.5" >(a)</text>
<text x="679.0" y="897.0" font-family="Liberation Sans" font-size="23" text-anchor="start" fill="#2a2a2a" stroke="#2a2a2a" stroke-width="0.5" >(b)</text>
<text x="104.0" y="61.0" font-family="Liberation Serif" font-size="29" text-anchor="start" fill="#1c1c1c" stroke="#1c1c1c" stroke-width="0.25" >Li/LNO-650 cell</text>
<text x="100.5" y="253.5" font-family="Liberation Serif" font-size="29" text-anchor="start" fill="#1c1c1c" stroke="#1c1c1c" stroke-width="0.25" >10, 20, 30, 40, 50th cycle</text>
<text transform="translate(565.5,71) scale(0.938,1)" font-family="Liberation Serif" font-size="29" fill="#e0141e" stroke="#e0141e" stroke-width="0.3">1st</text>
<text transform="translate(549,273) scale(0.938,1)" font-family="Liberation Serif" font-size="29" fill="#e0141e" stroke="#e0141e" stroke-width="0.3">1st</text>
<text x="104.0" y="335.0" font-family="Liberation Serif" font-size="29" text-anchor="start" fill="#1c1c1c" stroke="#1c1c1c" stroke-width="0.25" >Li/LNO-625 cell</text>
<text x="83.5" y="609.5" font-family="Liberation Serif" font-size="29" text-anchor="start" fill="#1c1c1c" stroke="#1c1c1c" stroke-width="0.25" >Li/LNO-Standard cell</text>
<text x="768.5" y="60.3" font-family="Liberation Serif" font-size="29" text-anchor="start" fill="#1c1c1c" stroke="#1c1c1c" stroke-width="0.25" >C/LNO-650 cell</text>
<text x="768.5" y="335.0" font-family="Liberation Serif" font-size="29" text-anchor="start" fill="#1c1c1c" stroke="#1c1c1c" stroke-width="0.25" >C/LNO-625 cell</text>
<text x="738.0" y="591.5" font-family="Liberation Serif" font-size="29" text-anchor="start" fill="#1c1c1c" stroke="#1c1c1c" stroke-width="0.25" >C/LNO-Standard cell</text>
<text x="744.0" y="255.5" font-family="Liberation Serif" font-size="24" text-anchor="start" fill="#1c1c1c" stroke="#1c1c1c" stroke-width="0.25" >10, 20, 30, 40, 50th cycle</text>
<text transform="translate(1193,67) scale(0.969,1)" font-family="Liberation Serif" font-size="29" fill="#e0141e" stroke="#e0141e" stroke-width="0.3">1st</text>
<text transform="translate(1134.5,269.5) scale(0.938,1)" font-family="Liberation Serif" font-size="29" fill="#e0141e" stroke="#e0141e" stroke-width="0.3">1st</text>
<text transform="translate(1238.5,595.5) scale(0.938,1)" font-family="Liberation Serif" font-size="29" fill="#e0141e" stroke="#e0141e" stroke-width="0.3">1st</text>
<text transform="translate(1183.5,823.5) scale(0.938,1)" font-family="Liberation Serif" font-size="29" fill="#e0141e" stroke="#e0141e" stroke-width="0.3">1st</text>
<text x="927.0" y="611.7" font-family="Liberation Serif" font-size="21" text-anchor="start" fill="#1c1c1c" stroke="#1c1c1c" stroke-width="0.25" >50</text>
<text x="1002.0" y="594.5" font-family="Liberation Serif" font-size="21" text-anchor="start" fill="#1c1c1c" stroke="#1c1c1c" stroke-width="0.25" >40</text>
<text x="1033.5" y="594.5" font-family="Liberation Serif" font-size="21" text-anchor="start" fill="#1c1c1c" stroke="#1c1c1c" stroke-width="0.25" >30</text>
<text x="1074.5" y="594.5" font-family="Liberation Serif" font-size="21" text-anchor="start" fill="#1c1c1c" stroke="#1c1c1c" stroke-width="0.25" >20</text>
<text x="1128.0" y="595.5" font-family="Liberation Serif" font-size="21" text-anchor="start" fill="#1c1c1c" stroke="#1c1c1c" stroke-width="0.25" >10</text>
<text x="947.0" y="824.0" font-family="Liberation Serif" font-size="21" text-anchor="start" fill="#1c1c1c" stroke="#1c1c1c" stroke-width="0.25" >50</text>
<text x="997.5" y="824.0" font-family="Liberation Serif" font-size="21" text-anchor="start" fill="#1c1c1c" stroke="#1c1c1c" stroke-width="0.25" >40</text>
<text x="1029.5" y="824.0" font-family="Liberation Serif" font-size="21" text-anchor="start" fill="#1c1c1c" stroke="#1c1c1c" stroke-width="0.25" >30</text>
<text x="1073.5" y="824.0" font-family="Liberation Serif" font-size="21" text-anchor="start" fill="#1c1c1c" stroke="#1c1c1c" stroke-width="0.25" >20</text>
<text x="1124.0" y="824.0" font-family="Liberation Serif" font-size="21" text-anchor="start" fill="#1c1c1c" stroke="#1c1c1c" stroke-width="0.25" >10</text>
</svg></body></html>
